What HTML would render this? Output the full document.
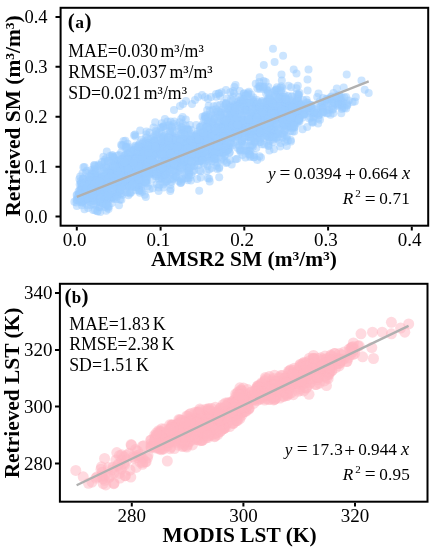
<!DOCTYPE html><html><head><meta charset="utf-8"><style>html,body{margin:0;padding:0;background:#fff;}svg{display:block;}text{font-family:"Liberation Serif", "Times New Roman", serif;fill:#000;}</style></head><body><svg width="434" height="550" viewBox="0 0 434 550"><defs><clipPath id="ca"><rect x="61.6" y="8.8" width="365.6" height="215.9"/></clipPath><clipPath id="cb"><rect x="61" y="284.8" width="365.5" height="215.9"/></clipPath></defs><g clip-path="url(#ca)"><g fill="#99CCFF" fill-opacity="0.5"><circle cx="110.3" cy="196.9" r="4.0"/><circle cx="82.1" cy="186.4" r="4.0"/><circle cx="93.9" cy="197.3" r="4.0"/><circle cx="249.4" cy="119.6" r="4.0"/><circle cx="260.9" cy="111.3" r="4.0"/><circle cx="296.2" cy="110.0" r="4.0"/><circle cx="230.2" cy="92.3" r="4.0"/><circle cx="240.8" cy="100.4" r="4.0"/><circle cx="318.6" cy="115.6" r="4.0"/><circle cx="152.2" cy="164.9" r="4.0"/><circle cx="195.2" cy="156.0" r="4.0"/><circle cx="131.0" cy="156.0" r="4.0"/><circle cx="83.3" cy="200.9" r="4.0"/><circle cx="206.2" cy="125.4" r="4.0"/><circle cx="169.7" cy="161.6" r="4.0"/><circle cx="268.9" cy="123.2" r="4.0"/><circle cx="161.1" cy="127.7" r="4.0"/><circle cx="122.7" cy="182.8" r="4.0"/><circle cx="205.5" cy="145.9" r="4.0"/><circle cx="91.5" cy="188.5" r="4.0"/><circle cx="127.6" cy="166.9" r="4.0"/><circle cx="156.6" cy="184.2" r="4.0"/><circle cx="314.5" cy="113.1" r="4.0"/><circle cx="146.8" cy="180.2" r="4.0"/><circle cx="170.1" cy="173.5" r="4.0"/><circle cx="284.5" cy="94.9" r="4.0"/><circle cx="187.9" cy="180.3" r="4.0"/><circle cx="283.2" cy="123.2" r="4.0"/><circle cx="269.2" cy="104.0" r="4.0"/><circle cx="116.2" cy="173.1" r="4.0"/><circle cx="199.0" cy="150.9" r="4.0"/><circle cx="288.1" cy="96.0" r="4.0"/><circle cx="120.0" cy="170.7" r="4.0"/><circle cx="142.9" cy="171.6" r="4.0"/><circle cx="119.0" cy="192.1" r="4.0"/><circle cx="246.3" cy="110.0" r="4.0"/><circle cx="106.5" cy="179.8" r="4.0"/><circle cx="165.6" cy="171.0" r="4.0"/><circle cx="110.8" cy="174.4" r="4.0"/><circle cx="331.4" cy="96.4" r="4.0"/><circle cx="232.3" cy="133.3" r="4.0"/><circle cx="271.5" cy="128.8" r="4.0"/><circle cx="266.7" cy="105.5" r="4.0"/><circle cx="276.7" cy="112.3" r="4.0"/><circle cx="149.4" cy="132.4" r="4.0"/><circle cx="112.9" cy="193.2" r="4.0"/><circle cx="154.6" cy="146.8" r="4.0"/><circle cx="141.6" cy="190.5" r="4.0"/><circle cx="281.2" cy="118.8" r="4.0"/><circle cx="191.1" cy="158.1" r="4.0"/><circle cx="220.2" cy="104.8" r="4.0"/><circle cx="101.1" cy="177.0" r="4.0"/><circle cx="82.1" cy="196.5" r="4.0"/><circle cx="295.0" cy="116.2" r="4.0"/><circle cx="287.1" cy="111.0" r="4.0"/><circle cx="169.9" cy="151.7" r="4.0"/><circle cx="117.2" cy="183.1" r="4.0"/><circle cx="284.0" cy="102.5" r="4.0"/><circle cx="200.3" cy="139.4" r="4.0"/><circle cx="230.5" cy="106.6" r="4.0"/><circle cx="322.5" cy="107.8" r="4.0"/><circle cx="178.7" cy="129.2" r="4.0"/><circle cx="202.3" cy="124.6" r="4.0"/><circle cx="112.9" cy="184.8" r="4.0"/><circle cx="223.0" cy="132.0" r="4.0"/><circle cx="218.4" cy="127.3" r="4.0"/><circle cx="77.2" cy="195.0" r="4.0"/><circle cx="348.8" cy="100.4" r="4.0"/><circle cx="225.2" cy="145.4" r="4.0"/><circle cx="132.5" cy="160.8" r="4.0"/><circle cx="155.2" cy="122.2" r="4.0"/><circle cx="290.1" cy="104.1" r="4.0"/><circle cx="282.0" cy="99.6" r="4.0"/><circle cx="118.9" cy="173.7" r="4.0"/><circle cx="94.1" cy="168.9" r="4.0"/><circle cx="182.8" cy="145.4" r="4.0"/><circle cx="82.2" cy="183.3" r="4.0"/><circle cx="177.0" cy="149.3" r="4.0"/><circle cx="188.7" cy="175.6" r="4.0"/><circle cx="117.3" cy="188.0" r="4.0"/><circle cx="261.1" cy="111.1" r="4.0"/><circle cx="200.3" cy="157.1" r="4.0"/><circle cx="241.5" cy="142.6" r="4.0"/><circle cx="125.6" cy="192.3" r="4.0"/><circle cx="165.6" cy="153.8" r="4.0"/><circle cx="200.6" cy="151.2" r="4.0"/><circle cx="211.4" cy="129.0" r="4.0"/><circle cx="211.8" cy="141.7" r="4.0"/><circle cx="241.5" cy="121.7" r="4.0"/><circle cx="83.1" cy="201.6" r="4.0"/><circle cx="220.3" cy="143.4" r="4.0"/><circle cx="208.7" cy="133.3" r="4.0"/><circle cx="186.7" cy="155.6" r="4.0"/><circle cx="143.4" cy="141.5" r="4.0"/><circle cx="276.4" cy="89.4" r="4.0"/><circle cx="259.7" cy="120.6" r="4.0"/><circle cx="241.1" cy="98.9" r="4.0"/><circle cx="295.7" cy="114.6" r="4.0"/><circle cx="242.8" cy="129.4" r="4.0"/><circle cx="110.0" cy="172.2" r="4.0"/><circle cx="233.0" cy="110.4" r="4.0"/><circle cx="237.0" cy="120.0" r="4.0"/><circle cx="163.5" cy="142.7" r="4.0"/><circle cx="230.3" cy="122.4" r="4.0"/><circle cx="198.7" cy="144.9" r="4.0"/><circle cx="284.3" cy="125.7" r="4.0"/><circle cx="332.7" cy="105.7" r="4.0"/><circle cx="130.0" cy="163.2" r="4.0"/><circle cx="197.6" cy="146.6" r="4.0"/><circle cx="93.9" cy="182.5" r="4.0"/><circle cx="144.1" cy="178.0" r="4.0"/><circle cx="188.3" cy="166.2" r="4.0"/><circle cx="151.5" cy="156.0" r="4.0"/><circle cx="302.6" cy="129.3" r="4.0"/><circle cx="134.1" cy="135.2" r="4.0"/><circle cx="160.9" cy="170.1" r="4.0"/><circle cx="183.7" cy="129.7" r="4.0"/><circle cx="150.4" cy="158.4" r="4.0"/><circle cx="157.4" cy="168.0" r="4.0"/><circle cx="297.4" cy="105.5" r="4.0"/><circle cx="125.0" cy="184.8" r="4.0"/><circle cx="192.8" cy="153.5" r="4.0"/><circle cx="270.1" cy="106.3" r="4.0"/><circle cx="182.6" cy="116.9" r="4.0"/><circle cx="210.1" cy="145.4" r="4.0"/><circle cx="179.0" cy="158.7" r="4.0"/><circle cx="299.7" cy="117.7" r="4.0"/><circle cx="219.6" cy="133.1" r="4.0"/><circle cx="117.0" cy="174.6" r="4.0"/><circle cx="116.7" cy="189.1" r="4.0"/><circle cx="222.0" cy="126.2" r="4.0"/><circle cx="245.5" cy="95.2" r="4.0"/><circle cx="216.1" cy="139.3" r="4.0"/><circle cx="204.1" cy="144.1" r="4.0"/><circle cx="145.6" cy="173.4" r="4.0"/><circle cx="234.2" cy="130.6" r="4.0"/><circle cx="200.4" cy="127.1" r="4.0"/><circle cx="207.8" cy="141.3" r="4.0"/><circle cx="118.9" cy="169.8" r="4.0"/><circle cx="175.9" cy="156.7" r="4.0"/><circle cx="175.8" cy="136.5" r="4.0"/><circle cx="283.5" cy="115.2" r="4.0"/><circle cx="225.0" cy="141.3" r="4.0"/><circle cx="136.8" cy="175.8" r="4.0"/><circle cx="236.2" cy="136.6" r="4.0"/><circle cx="308.4" cy="107.4" r="4.0"/><circle cx="252.7" cy="99.6" r="4.0"/><circle cx="135.5" cy="136.6" r="4.0"/><circle cx="220.3" cy="139.2" r="4.0"/><circle cx="144.0" cy="153.1" r="4.0"/><circle cx="155.2" cy="152.6" r="4.0"/><circle cx="238.1" cy="113.6" r="4.0"/><circle cx="167.6" cy="165.1" r="4.0"/><circle cx="118.8" cy="159.9" r="4.0"/><circle cx="269.4" cy="122.2" r="4.0"/><circle cx="254.2" cy="133.1" r="4.0"/><circle cx="302.5" cy="109.6" r="4.0"/><circle cx="197.1" cy="158.2" r="4.0"/><circle cx="250.1" cy="146.0" r="4.0"/><circle cx="248.8" cy="91.8" r="4.0"/><circle cx="102.8" cy="201.2" r="4.0"/><circle cx="267.6" cy="90.8" r="4.0"/><circle cx="200.4" cy="134.6" r="4.0"/><circle cx="248.7" cy="120.9" r="4.0"/><circle cx="155.3" cy="143.6" r="4.0"/><circle cx="337.9" cy="104.4" r="4.0"/><circle cx="311.8" cy="109.8" r="4.0"/><circle cx="140.9" cy="179.1" r="4.0"/><circle cx="286.2" cy="128.0" r="4.0"/><circle cx="229.9" cy="147.5" r="4.0"/><circle cx="185.6" cy="151.5" r="4.0"/><circle cx="83.8" cy="191.7" r="4.0"/><circle cx="242.0" cy="129.6" r="4.0"/><circle cx="253.4" cy="97.6" r="4.0"/><circle cx="97.0" cy="186.8" r="4.0"/><circle cx="131.1" cy="192.3" r="4.0"/><circle cx="198.9" cy="143.7" r="4.0"/><circle cx="160.5" cy="137.4" r="4.0"/><circle cx="121.2" cy="144.7" r="4.0"/><circle cx="340.9" cy="99.7" r="4.0"/><circle cx="128.1" cy="172.8" r="4.0"/><circle cx="95.4" cy="169.9" r="4.0"/><circle cx="209.2" cy="178.7" r="4.0"/><circle cx="121.4" cy="174.1" r="4.0"/><circle cx="122.2" cy="195.1" r="4.0"/><circle cx="276.0" cy="119.3" r="4.0"/><circle cx="93.1" cy="210.1" r="4.0"/><circle cx="266.4" cy="118.4" r="4.0"/><circle cx="267.4" cy="120.9" r="4.0"/><circle cx="328.3" cy="113.3" r="4.0"/><circle cx="233.5" cy="96.7" r="4.0"/><circle cx="288.0" cy="110.7" r="4.0"/><circle cx="243.8" cy="103.3" r="4.0"/><circle cx="118.1" cy="191.1" r="4.0"/><circle cx="276.2" cy="110.7" r="4.0"/><circle cx="191.7" cy="144.3" r="4.0"/><circle cx="271.8" cy="121.4" r="4.0"/><circle cx="105.1" cy="188.2" r="4.0"/><circle cx="171.8" cy="126.5" r="4.0"/><circle cx="209.7" cy="181.5" r="4.0"/><circle cx="153.6" cy="155.0" r="4.0"/><circle cx="135.5" cy="147.8" r="4.0"/><circle cx="160.3" cy="172.9" r="4.0"/><circle cx="279.9" cy="96.8" r="4.0"/><circle cx="105.0" cy="194.8" r="4.0"/><circle cx="252.5" cy="105.7" r="4.0"/><circle cx="149.4" cy="156.6" r="4.0"/><circle cx="148.1" cy="143.1" r="4.0"/><circle cx="172.9" cy="135.7" r="4.0"/><circle cx="237.4" cy="117.4" r="4.0"/><circle cx="284.4" cy="135.0" r="4.0"/><circle cx="196.7" cy="152.6" r="4.0"/><circle cx="289.7" cy="124.6" r="4.0"/><circle cx="197.1" cy="179.1" r="4.0"/><circle cx="135.7" cy="150.6" r="4.0"/><circle cx="263.8" cy="109.1" r="4.0"/><circle cx="159.0" cy="143.9" r="4.0"/><circle cx="225.4" cy="148.7" r="4.0"/><circle cx="108.5" cy="209.0" r="4.0"/><circle cx="233.3" cy="144.9" r="4.0"/><circle cx="184.4" cy="158.3" r="4.0"/><circle cx="122.0" cy="173.3" r="4.0"/><circle cx="237.6" cy="103.2" r="4.0"/><circle cx="100.8" cy="179.4" r="4.0"/><circle cx="192.1" cy="163.6" r="4.0"/><circle cx="103.4" cy="183.1" r="4.0"/><circle cx="153.5" cy="136.5" r="4.0"/><circle cx="155.0" cy="151.9" r="4.0"/><circle cx="200.6" cy="156.3" r="4.0"/><circle cx="89.8" cy="179.9" r="4.0"/><circle cx="237.1" cy="122.7" r="4.0"/><circle cx="152.2" cy="155.2" r="4.0"/><circle cx="260.7" cy="121.6" r="4.0"/><circle cx="251.0" cy="94.4" r="4.0"/><circle cx="254.9" cy="104.6" r="4.0"/><circle cx="201.7" cy="135.8" r="4.0"/><circle cx="262.9" cy="129.5" r="4.0"/><circle cx="91.5" cy="170.0" r="4.0"/><circle cx="138.7" cy="145.1" r="4.0"/><circle cx="138.9" cy="153.5" r="4.0"/><circle cx="242.0" cy="141.3" r="4.0"/><circle cx="207.8" cy="121.4" r="4.0"/><circle cx="268.2" cy="103.3" r="4.0"/><circle cx="145.4" cy="142.8" r="4.0"/><circle cx="190.9" cy="180.4" r="4.0"/><circle cx="242.3" cy="118.8" r="4.0"/><circle cx="268.1" cy="121.4" r="4.0"/><circle cx="174.4" cy="142.1" r="4.0"/><circle cx="265.4" cy="129.4" r="4.0"/><circle cx="185.0" cy="161.5" r="4.0"/><circle cx="299.2" cy="117.4" r="4.0"/><circle cx="222.8" cy="139.3" r="4.0"/><circle cx="157.9" cy="163.8" r="4.0"/><circle cx="279.9" cy="114.4" r="4.0"/><circle cx="256.7" cy="100.0" r="4.0"/><circle cx="251.9" cy="132.5" r="4.0"/><circle cx="149.9" cy="164.2" r="4.0"/><circle cx="145.5" cy="177.7" r="4.0"/><circle cx="265.8" cy="113.1" r="4.0"/><circle cx="280.4" cy="87.8" r="4.0"/><circle cx="164.5" cy="140.0" r="4.0"/><circle cx="87.3" cy="205.2" r="4.0"/><circle cx="111.9" cy="194.7" r="4.0"/><circle cx="288.7" cy="109.8" r="4.0"/><circle cx="166.7" cy="158.3" r="4.0"/><circle cx="229.3" cy="132.8" r="4.0"/><circle cx="121.9" cy="172.6" r="4.0"/><circle cx="132.4" cy="150.5" r="4.0"/><circle cx="283.0" cy="117.6" r="4.0"/><circle cx="170.6" cy="121.4" r="4.0"/><circle cx="189.4" cy="168.5" r="4.0"/><circle cx="175.8" cy="176.6" r="4.0"/><circle cx="170.2" cy="191.0" r="4.0"/><circle cx="182.6" cy="154.0" r="4.0"/><circle cx="138.4" cy="164.1" r="4.0"/><circle cx="303.2" cy="100.1" r="4.0"/><circle cx="171.0" cy="167.2" r="4.0"/><circle cx="279.8" cy="101.3" r="4.0"/><circle cx="79.4" cy="179.0" r="4.0"/><circle cx="125.3" cy="140.7" r="4.0"/><circle cx="192.4" cy="142.0" r="4.0"/><circle cx="229.0" cy="109.9" r="4.0"/><circle cx="278.9" cy="114.8" r="4.0"/><circle cx="238.2" cy="132.6" r="4.0"/><circle cx="263.8" cy="130.1" r="4.0"/><circle cx="203.2" cy="158.5" r="4.0"/><circle cx="99.1" cy="192.1" r="4.0"/><circle cx="97.0" cy="198.7" r="4.0"/><circle cx="221.9" cy="141.5" r="4.0"/><circle cx="290.9" cy="141.6" r="4.0"/><circle cx="142.9" cy="153.6" r="4.0"/><circle cx="265.4" cy="117.4" r="4.0"/><circle cx="173.9" cy="123.9" r="4.0"/><circle cx="108.5" cy="185.2" r="4.0"/><circle cx="196.8" cy="150.7" r="4.0"/><circle cx="90.5" cy="191.7" r="4.0"/><circle cx="306.6" cy="99.7" r="4.0"/><circle cx="188.1" cy="142.7" r="4.0"/><circle cx="268.9" cy="122.6" r="4.0"/><circle cx="146.4" cy="149.6" r="4.0"/><circle cx="184.6" cy="150.7" r="4.0"/><circle cx="181.9" cy="146.5" r="4.0"/><circle cx="149.0" cy="161.7" r="4.0"/><circle cx="170.7" cy="188.9" r="4.0"/><circle cx="155.9" cy="130.5" r="4.0"/><circle cx="175.7" cy="165.9" r="4.0"/><circle cx="217.9" cy="133.0" r="4.0"/><circle cx="172.8" cy="132.2" r="4.0"/><circle cx="151.6" cy="158.6" r="4.0"/><circle cx="106.1" cy="204.4" r="4.0"/><circle cx="278.9" cy="109.9" r="4.0"/><circle cx="140.5" cy="165.1" r="4.0"/><circle cx="252.4" cy="117.7" r="4.0"/><circle cx="338.6" cy="103.9" r="4.0"/><circle cx="90.3" cy="188.5" r="4.0"/><circle cx="319.4" cy="106.8" r="4.0"/><circle cx="338.5" cy="102.5" r="4.0"/><circle cx="185.2" cy="145.2" r="4.0"/><circle cx="244.0" cy="93.4" r="4.0"/><circle cx="257.5" cy="125.5" r="4.0"/><circle cx="258.6" cy="140.2" r="4.0"/><circle cx="192.3" cy="136.8" r="4.0"/><circle cx="152.6" cy="150.7" r="4.0"/><circle cx="288.6" cy="103.8" r="4.0"/><circle cx="191.5" cy="157.9" r="4.0"/><circle cx="242.1" cy="125.0" r="4.0"/><circle cx="290.7" cy="110.8" r="4.0"/><circle cx="218.1" cy="127.0" r="4.0"/><circle cx="211.7" cy="154.2" r="4.0"/><circle cx="113.5" cy="173.3" r="4.0"/><circle cx="289.5" cy="117.1" r="4.0"/><circle cx="94.6" cy="182.2" r="4.0"/><circle cx="291.2" cy="110.7" r="4.0"/><circle cx="107.2" cy="184.5" r="4.0"/><circle cx="118.0" cy="194.2" r="4.0"/><circle cx="185.0" cy="156.1" r="4.0"/><circle cx="265.8" cy="121.8" r="4.0"/><circle cx="90.5" cy="187.2" r="4.0"/><circle cx="297.2" cy="120.3" r="4.0"/><circle cx="282.8" cy="121.8" r="4.0"/><circle cx="141.0" cy="162.9" r="4.0"/><circle cx="252.9" cy="113.6" r="4.0"/><circle cx="158.1" cy="151.6" r="4.0"/><circle cx="268.7" cy="125.2" r="4.0"/><circle cx="145.1" cy="163.9" r="4.0"/><circle cx="249.8" cy="136.7" r="4.0"/><circle cx="240.1" cy="123.2" r="4.0"/><circle cx="141.6" cy="174.8" r="4.0"/><circle cx="169.4" cy="147.7" r="4.0"/><circle cx="108.4" cy="171.4" r="4.0"/><circle cx="273.0" cy="142.2" r="4.0"/><circle cx="215.0" cy="126.0" r="4.0"/><circle cx="284.6" cy="119.5" r="4.0"/><circle cx="227.0" cy="150.9" r="4.0"/><circle cx="243.9" cy="99.2" r="4.0"/><circle cx="284.7" cy="123.8" r="4.0"/><circle cx="132.8" cy="162.2" r="4.0"/><circle cx="268.5" cy="123.2" r="4.0"/><circle cx="135.4" cy="145.5" r="4.0"/><circle cx="291.3" cy="108.3" r="4.0"/><circle cx="274.8" cy="110.7" r="4.0"/><circle cx="199.5" cy="141.4" r="4.0"/><circle cx="172.4" cy="149.1" r="4.0"/><circle cx="192.0" cy="150.5" r="4.0"/><circle cx="257.0" cy="126.5" r="4.0"/><circle cx="331.3" cy="108.3" r="4.0"/><circle cx="96.6" cy="176.8" r="4.0"/><circle cx="285.1" cy="141.8" r="4.0"/><circle cx="108.2" cy="183.0" r="4.0"/><circle cx="238.1" cy="120.5" r="4.0"/><circle cx="170.5" cy="162.7" r="4.0"/><circle cx="136.3" cy="169.8" r="4.0"/><circle cx="145.1" cy="150.5" r="4.0"/><circle cx="225.7" cy="104.0" r="4.0"/><circle cx="121.4" cy="199.8" r="4.0"/><circle cx="146.6" cy="182.8" r="4.0"/><circle cx="178.6" cy="146.4" r="4.0"/><circle cx="196.9" cy="137.9" r="4.0"/><circle cx="93.5" cy="184.2" r="4.0"/><circle cx="324.3" cy="104.5" r="4.0"/><circle cx="258.4" cy="132.9" r="4.0"/><circle cx="264.4" cy="111.6" r="4.0"/><circle cx="193.3" cy="148.3" r="4.0"/><circle cx="96.2" cy="187.8" r="4.0"/><circle cx="187.6" cy="178.2" r="4.0"/><circle cx="88.5" cy="181.8" r="4.0"/><circle cx="292.5" cy="126.2" r="4.0"/><circle cx="141.6" cy="187.2" r="4.0"/><circle cx="130.5" cy="155.0" r="4.0"/><circle cx="106.9" cy="198.4" r="4.0"/><circle cx="264.0" cy="86.6" r="4.0"/><circle cx="198.2" cy="161.0" r="4.0"/><circle cx="198.2" cy="145.2" r="4.0"/><circle cx="267.3" cy="114.6" r="4.0"/><circle cx="253.0" cy="132.9" r="4.0"/><circle cx="145.8" cy="151.3" r="4.0"/><circle cx="138.5" cy="173.9" r="4.0"/><circle cx="181.8" cy="147.4" r="4.0"/><circle cx="291.2" cy="87.2" r="4.0"/><circle cx="160.2" cy="149.9" r="4.0"/><circle cx="169.2" cy="163.4" r="4.0"/><circle cx="284.6" cy="117.7" r="4.0"/><circle cx="95.2" cy="183.3" r="4.0"/><circle cx="185.7" cy="125.4" r="4.0"/><circle cx="320.0" cy="119.8" r="4.0"/><circle cx="144.7" cy="194.8" r="4.0"/><circle cx="173.0" cy="179.2" r="4.0"/><circle cx="164.9" cy="135.0" r="4.0"/><circle cx="131.7" cy="181.5" r="4.0"/><circle cx="256.3" cy="147.9" r="4.0"/><circle cx="210.4" cy="159.8" r="4.0"/><circle cx="107.2" cy="187.3" r="4.0"/><circle cx="76.6" cy="194.9" r="4.0"/><circle cx="163.8" cy="136.1" r="4.0"/><circle cx="160.9" cy="165.5" r="4.0"/><circle cx="82.5" cy="202.9" r="4.0"/><circle cx="225.7" cy="109.4" r="4.0"/><circle cx="81.9" cy="192.7" r="4.0"/><circle cx="120.9" cy="168.7" r="4.0"/><circle cx="156.4" cy="163.9" r="4.0"/><circle cx="204.9" cy="157.3" r="4.0"/><circle cx="123.3" cy="145.1" r="4.0"/><circle cx="123.0" cy="166.7" r="4.0"/><circle cx="234.1" cy="132.6" r="4.0"/><circle cx="106.6" cy="193.7" r="4.0"/><circle cx="205.8" cy="143.1" r="4.0"/><circle cx="326.9" cy="109.7" r="4.0"/><circle cx="214.0" cy="119.3" r="4.0"/><circle cx="260.6" cy="142.0" r="4.0"/><circle cx="132.1" cy="177.8" r="4.0"/><circle cx="260.4" cy="122.0" r="4.0"/><circle cx="115.7" cy="164.0" r="4.0"/><circle cx="281.6" cy="118.6" r="4.0"/><circle cx="269.9" cy="98.5" r="4.0"/><circle cx="88.6" cy="200.5" r="4.0"/><circle cx="102.4" cy="200.1" r="4.0"/><circle cx="298.6" cy="94.8" r="4.0"/><circle cx="270.0" cy="134.3" r="4.0"/><circle cx="99.0" cy="174.2" r="4.0"/><circle cx="302.7" cy="117.5" r="4.0"/><circle cx="299.9" cy="115.3" r="4.0"/><circle cx="199.9" cy="149.6" r="4.0"/><circle cx="170.6" cy="157.0" r="4.0"/><circle cx="260.6" cy="120.2" r="4.0"/><circle cx="235.0" cy="127.0" r="4.0"/><circle cx="155.3" cy="158.0" r="4.0"/><circle cx="186.1" cy="151.0" r="4.0"/><circle cx="233.0" cy="115.5" r="4.0"/><circle cx="260.5" cy="118.0" r="4.0"/><circle cx="116.9" cy="192.1" r="4.0"/><circle cx="153.8" cy="149.0" r="4.0"/><circle cx="205.2" cy="147.6" r="4.0"/><circle cx="227.9" cy="122.9" r="4.0"/><circle cx="246.0" cy="119.7" r="4.0"/><circle cx="102.6" cy="176.8" r="4.0"/><circle cx="137.0" cy="159.3" r="4.0"/><circle cx="112.3" cy="168.6" r="4.0"/><circle cx="108.1" cy="186.7" r="4.0"/><circle cx="190.4" cy="153.1" r="4.0"/><circle cx="79.6" cy="189.9" r="4.0"/><circle cx="164.6" cy="150.1" r="4.0"/><circle cx="104.9" cy="187.3" r="4.0"/><circle cx="251.2" cy="121.1" r="4.0"/><circle cx="94.6" cy="172.8" r="4.0"/><circle cx="191.0" cy="146.6" r="4.0"/><circle cx="188.4" cy="146.9" r="4.0"/><circle cx="222.5" cy="157.8" r="4.0"/><circle cx="298.0" cy="98.2" r="4.0"/><circle cx="120.0" cy="199.5" r="4.0"/><circle cx="170.0" cy="164.9" r="4.0"/><circle cx="142.8" cy="183.7" r="4.0"/><circle cx="128.2" cy="153.6" r="4.0"/><circle cx="97.4" cy="189.2" r="4.0"/><circle cx="268.2" cy="100.3" r="4.0"/><circle cx="233.9" cy="116.9" r="4.0"/><circle cx="99.5" cy="201.6" r="4.0"/><circle cx="260.2" cy="127.6" r="4.0"/><circle cx="273.6" cy="139.2" r="4.0"/><circle cx="282.1" cy="133.1" r="4.0"/><circle cx="298.6" cy="109.9" r="4.0"/><circle cx="290.2" cy="126.6" r="4.0"/><circle cx="91.0" cy="196.0" r="4.0"/><circle cx="136.5" cy="173.3" r="4.0"/><circle cx="110.4" cy="181.5" r="4.0"/><circle cx="87.4" cy="179.3" r="4.0"/><circle cx="188.9" cy="144.5" r="4.0"/><circle cx="312.2" cy="113.2" r="4.0"/><circle cx="277.3" cy="115.0" r="4.0"/><circle cx="167.1" cy="147.1" r="4.0"/><circle cx="202.7" cy="147.1" r="4.0"/><circle cx="216.9" cy="105.5" r="4.0"/><circle cx="255.7" cy="83.8" r="4.0"/><circle cx="199.9" cy="127.0" r="4.0"/><circle cx="101.1" cy="182.6" r="4.0"/><circle cx="120.7" cy="176.5" r="4.0"/><circle cx="150.4" cy="162.1" r="4.0"/><circle cx="289.5" cy="125.7" r="4.0"/><circle cx="234.9" cy="104.8" r="4.0"/><circle cx="249.4" cy="151.0" r="4.0"/><circle cx="193.0" cy="155.8" r="4.0"/><circle cx="130.8" cy="162.1" r="4.0"/><circle cx="332.9" cy="109.7" r="4.0"/><circle cx="139.0" cy="182.8" r="4.0"/><circle cx="327.7" cy="99.7" r="4.0"/><circle cx="245.6" cy="104.3" r="4.0"/><circle cx="155.8" cy="157.2" r="4.0"/><circle cx="207.1" cy="143.0" r="4.0"/><circle cx="223.2" cy="127.5" r="4.0"/><circle cx="221.3" cy="112.9" r="4.0"/><circle cx="157.5" cy="149.7" r="4.0"/><circle cx="201.9" cy="153.2" r="4.0"/><circle cx="123.2" cy="168.2" r="4.0"/><circle cx="249.7" cy="112.2" r="4.0"/><circle cx="233.7" cy="127.2" r="4.0"/><circle cx="148.6" cy="149.7" r="4.0"/><circle cx="195.2" cy="136.5" r="4.0"/><circle cx="235.1" cy="108.3" r="4.0"/><circle cx="248.4" cy="154.0" r="4.0"/><circle cx="212.4" cy="153.3" r="4.0"/><circle cx="107.7" cy="183.2" r="4.0"/><circle cx="255.9" cy="125.1" r="4.0"/><circle cx="287.4" cy="104.1" r="4.0"/><circle cx="155.2" cy="165.2" r="4.0"/><circle cx="155.0" cy="150.4" r="4.0"/><circle cx="168.2" cy="169.4" r="4.0"/><circle cx="234.8" cy="132.8" r="4.0"/><circle cx="99.0" cy="188.0" r="4.0"/><circle cx="292.9" cy="127.1" r="4.0"/><circle cx="312.0" cy="107.8" r="4.0"/><circle cx="231.4" cy="141.3" r="4.0"/><circle cx="146.8" cy="143.8" r="4.0"/><circle cx="206.0" cy="143.9" r="4.0"/><circle cx="232.5" cy="116.4" r="4.0"/><circle cx="235.2" cy="116.2" r="4.0"/><circle cx="144.2" cy="167.7" r="4.0"/><circle cx="130.2" cy="179.7" r="4.0"/><circle cx="94.5" cy="183.8" r="4.0"/><circle cx="114.4" cy="174.4" r="4.0"/><circle cx="287.5" cy="112.8" r="4.0"/><circle cx="106.3" cy="183.5" r="4.0"/><circle cx="95.4" cy="193.0" r="4.0"/><circle cx="175.6" cy="168.4" r="4.0"/><circle cx="154.3" cy="166.9" r="4.0"/><circle cx="116.3" cy="180.5" r="4.0"/><circle cx="131.9" cy="157.6" r="4.0"/><circle cx="163.8" cy="157.4" r="4.0"/><circle cx="274.7" cy="113.4" r="4.0"/><circle cx="230.1" cy="142.5" r="4.0"/><circle cx="186.6" cy="150.9" r="4.0"/><circle cx="253.3" cy="128.3" r="4.0"/><circle cx="262.9" cy="123.4" r="4.0"/><circle cx="266.7" cy="136.0" r="4.0"/><circle cx="141.3" cy="139.7" r="4.0"/><circle cx="253.7" cy="157.2" r="4.0"/><circle cx="234.6" cy="119.6" r="4.0"/><circle cx="204.2" cy="144.9" r="4.0"/><circle cx="269.1" cy="134.0" r="4.0"/><circle cx="182.1" cy="148.6" r="4.0"/><circle cx="99.3" cy="207.0" r="4.0"/><circle cx="268.9" cy="137.6" r="4.0"/><circle cx="165.5" cy="144.8" r="4.0"/><circle cx="98.5" cy="164.5" r="4.0"/><circle cx="174.6" cy="171.0" r="4.0"/><circle cx="101.7" cy="167.3" r="4.0"/><circle cx="200.4" cy="160.9" r="4.0"/><circle cx="284.9" cy="107.5" r="4.0"/><circle cx="291.0" cy="120.2" r="4.0"/><circle cx="197.4" cy="158.1" r="4.0"/><circle cx="282.7" cy="99.1" r="4.0"/><circle cx="82.5" cy="188.7" r="4.0"/><circle cx="235.6" cy="133.9" r="4.0"/><circle cx="199.6" cy="140.1" r="4.0"/><circle cx="271.7" cy="133.0" r="4.0"/><circle cx="178.1" cy="161.4" r="4.0"/><circle cx="291.1" cy="108.6" r="4.0"/><circle cx="166.5" cy="149.1" r="4.0"/><circle cx="296.7" cy="93.7" r="4.0"/><circle cx="243.9" cy="93.5" r="4.0"/><circle cx="168.1" cy="158.8" r="4.0"/><circle cx="266.5" cy="117.8" r="4.0"/><circle cx="223.5" cy="118.5" r="4.0"/><circle cx="219.2" cy="130.5" r="4.0"/><circle cx="165.5" cy="141.6" r="4.0"/><circle cx="148.9" cy="152.4" r="4.0"/><circle cx="189.1" cy="173.3" r="4.0"/><circle cx="164.5" cy="169.6" r="4.0"/><circle cx="266.1" cy="128.4" r="4.0"/><circle cx="91.2" cy="175.1" r="4.0"/><circle cx="204.9" cy="116.8" r="4.0"/><circle cx="126.5" cy="188.3" r="4.0"/><circle cx="161.2" cy="175.3" r="4.0"/><circle cx="227.0" cy="145.4" r="4.0"/><circle cx="159.1" cy="151.1" r="4.0"/><circle cx="206.2" cy="127.2" r="4.0"/><circle cx="109.3" cy="196.9" r="4.0"/><circle cx="219.3" cy="167.3" r="4.0"/><circle cx="281.9" cy="114.0" r="4.0"/><circle cx="236.8" cy="126.1" r="4.0"/><circle cx="277.8" cy="118.7" r="4.0"/><circle cx="111.6" cy="185.7" r="4.0"/><circle cx="86.0" cy="192.8" r="4.0"/><circle cx="224.0" cy="152.7" r="4.0"/><circle cx="304.6" cy="112.9" r="4.0"/><circle cx="115.3" cy="171.3" r="4.0"/><circle cx="112.4" cy="156.9" r="4.0"/><circle cx="265.6" cy="113.9" r="4.0"/><circle cx="173.8" cy="141.8" r="4.0"/><circle cx="252.1" cy="117.3" r="4.0"/><circle cx="276.2" cy="99.9" r="4.0"/><circle cx="116.8" cy="166.4" r="4.0"/><circle cx="221.6" cy="114.4" r="4.0"/><circle cx="113.4" cy="157.1" r="4.0"/><circle cx="167.0" cy="153.5" r="4.0"/><circle cx="222.5" cy="141.1" r="4.0"/><circle cx="275.6" cy="90.6" r="4.0"/><circle cx="235.6" cy="128.1" r="4.0"/><circle cx="229.0" cy="146.4" r="4.0"/><circle cx="117.2" cy="177.1" r="4.0"/><circle cx="283.9" cy="112.0" r="4.0"/><circle cx="126.2" cy="158.4" r="4.0"/><circle cx="128.4" cy="172.3" r="4.0"/><circle cx="90.9" cy="182.8" r="4.0"/><circle cx="163.9" cy="162.5" r="4.0"/><circle cx="207.7" cy="141.9" r="4.0"/><circle cx="153.1" cy="172.3" r="4.0"/><circle cx="190.9" cy="147.9" r="4.0"/><circle cx="172.7" cy="148.8" r="4.0"/><circle cx="203.0" cy="146.7" r="4.0"/><circle cx="168.1" cy="149.5" r="4.0"/><circle cx="224.1" cy="125.5" r="4.0"/><circle cx="244.7" cy="128.4" r="4.0"/><circle cx="181.5" cy="156.4" r="4.0"/><circle cx="250.8" cy="116.9" r="4.0"/><circle cx="229.6" cy="116.5" r="4.0"/><circle cx="186.4" cy="159.2" r="4.0"/><circle cx="228.6" cy="132.4" r="4.0"/><circle cx="166.8" cy="151.9" r="4.0"/><circle cx="201.1" cy="153.0" r="4.0"/><circle cx="138.8" cy="188.4" r="4.0"/><circle cx="247.7" cy="151.3" r="4.0"/><circle cx="232.0" cy="137.0" r="4.0"/><circle cx="258.8" cy="123.9" r="4.0"/><circle cx="223.8" cy="132.9" r="4.0"/><circle cx="208.7" cy="135.6" r="4.0"/><circle cx="188.6" cy="151.6" r="4.0"/><circle cx="245.8" cy="109.6" r="4.0"/><circle cx="295.9" cy="102.0" r="4.0"/><circle cx="177.5" cy="155.5" r="4.0"/><circle cx="266.7" cy="89.6" r="4.0"/><circle cx="293.2" cy="120.4" r="4.0"/><circle cx="84.6" cy="197.5" r="4.0"/><circle cx="114.1" cy="157.9" r="4.0"/><circle cx="181.2" cy="159.3" r="4.0"/><circle cx="159.2" cy="178.2" r="4.0"/><circle cx="103.0" cy="181.9" r="4.0"/><circle cx="109.2" cy="170.2" r="4.0"/><circle cx="202.7" cy="159.8" r="4.0"/><circle cx="275.1" cy="120.5" r="4.0"/><circle cx="113.9" cy="196.2" r="4.0"/><circle cx="104.4" cy="198.7" r="4.0"/><circle cx="219.2" cy="177.2" r="4.0"/><circle cx="224.0" cy="122.7" r="4.0"/><circle cx="287.2" cy="113.1" r="4.0"/><circle cx="226.5" cy="126.1" r="4.0"/><circle cx="212.3" cy="125.0" r="4.0"/><circle cx="158.9" cy="172.9" r="4.0"/><circle cx="274.8" cy="95.1" r="4.0"/><circle cx="168.7" cy="137.1" r="4.0"/><circle cx="291.6" cy="96.6" r="4.0"/><circle cx="105.8" cy="179.6" r="4.0"/><circle cx="119.0" cy="205.3" r="4.0"/><circle cx="187.7" cy="170.1" r="4.0"/><circle cx="342.6" cy="107.8" r="4.0"/><circle cx="95.7" cy="174.9" r="4.0"/><circle cx="231.0" cy="110.9" r="4.0"/><circle cx="239.6" cy="150.2" r="4.0"/><circle cx="115.1" cy="179.1" r="4.0"/><circle cx="196.2" cy="124.9" r="4.0"/><circle cx="149.9" cy="173.0" r="4.0"/><circle cx="244.0" cy="112.7" r="4.0"/><circle cx="142.1" cy="157.1" r="4.0"/><circle cx="119.2" cy="189.0" r="4.0"/><circle cx="138.6" cy="175.7" r="4.0"/><circle cx="208.0" cy="142.2" r="4.0"/><circle cx="244.3" cy="124.3" r="4.0"/><circle cx="139.8" cy="148.8" r="4.0"/><circle cx="242.0" cy="132.9" r="4.0"/><circle cx="165.9" cy="145.1" r="4.0"/><circle cx="186.1" cy="136.9" r="4.0"/><circle cx="254.2" cy="154.9" r="4.0"/><circle cx="253.3" cy="101.6" r="4.0"/><circle cx="280.0" cy="103.8" r="4.0"/><circle cx="122.0" cy="175.6" r="4.0"/><circle cx="305.5" cy="111.1" r="4.0"/><circle cx="115.7" cy="173.2" r="4.0"/><circle cx="192.9" cy="155.7" r="4.0"/><circle cx="89.3" cy="185.2" r="4.0"/><circle cx="219.5" cy="111.7" r="4.0"/><circle cx="178.6" cy="181.1" r="4.0"/><circle cx="212.8" cy="124.6" r="4.0"/><circle cx="143.3" cy="172.0" r="4.0"/><circle cx="153.1" cy="170.8" r="4.0"/><circle cx="269.4" cy="137.1" r="4.0"/><circle cx="261.4" cy="135.0" r="4.0"/><circle cx="112.5" cy="171.1" r="4.0"/><circle cx="266.4" cy="123.8" r="4.0"/><circle cx="179.0" cy="151.1" r="4.0"/><circle cx="164.0" cy="173.1" r="4.0"/><circle cx="313.1" cy="122.5" r="4.0"/><circle cx="94.5" cy="183.0" r="4.0"/><circle cx="251.3" cy="131.6" r="4.0"/><circle cx="231.0" cy="143.6" r="4.0"/><circle cx="272.3" cy="134.3" r="4.0"/><circle cx="126.1" cy="147.0" r="4.0"/><circle cx="91.3" cy="187.1" r="4.0"/><circle cx="281.0" cy="116.0" r="4.0"/><circle cx="86.5" cy="188.9" r="4.0"/><circle cx="208.6" cy="130.4" r="4.0"/><circle cx="149.1" cy="152.0" r="4.0"/><circle cx="297.2" cy="106.2" r="4.0"/><circle cx="85.9" cy="172.4" r="4.0"/><circle cx="98.8" cy="178.4" r="4.0"/><circle cx="235.5" cy="123.4" r="4.0"/><circle cx="290.4" cy="131.2" r="4.0"/><circle cx="176.2" cy="164.1" r="4.0"/><circle cx="89.3" cy="196.0" r="4.0"/><circle cx="109.9" cy="156.1" r="4.0"/><circle cx="177.7" cy="152.8" r="4.0"/><circle cx="170.1" cy="131.2" r="4.0"/><circle cx="243.0" cy="126.5" r="4.0"/><circle cx="133.8" cy="187.0" r="4.0"/><circle cx="109.4" cy="177.4" r="4.0"/><circle cx="105.7" cy="187.1" r="4.0"/><circle cx="233.3" cy="132.1" r="4.0"/><circle cx="84.3" cy="189.8" r="4.0"/><circle cx="212.8" cy="109.8" r="4.0"/><circle cx="217.0" cy="127.2" r="4.0"/><circle cx="310.8" cy="113.4" r="4.0"/><circle cx="217.2" cy="146.2" r="4.0"/><circle cx="92.0" cy="178.7" r="4.0"/><circle cx="249.1" cy="127.9" r="4.0"/><circle cx="258.1" cy="105.8" r="4.0"/><circle cx="194.0" cy="170.5" r="4.0"/><circle cx="289.0" cy="110.3" r="4.0"/><circle cx="216.2" cy="165.8" r="4.0"/><circle cx="172.8" cy="157.1" r="4.0"/><circle cx="197.9" cy="139.3" r="4.0"/><circle cx="261.4" cy="129.1" r="4.0"/><circle cx="109.9" cy="182.0" r="4.0"/><circle cx="148.6" cy="153.6" r="4.0"/><circle cx="194.0" cy="147.6" r="4.0"/><circle cx="98.7" cy="193.0" r="4.0"/><circle cx="247.1" cy="109.7" r="4.0"/><circle cx="259.5" cy="134.6" r="4.0"/><circle cx="109.6" cy="196.8" r="4.0"/><circle cx="118.2" cy="168.6" r="4.0"/><circle cx="295.3" cy="105.9" r="4.0"/><circle cx="247.9" cy="94.1" r="4.0"/><circle cx="89.3" cy="180.2" r="4.0"/><circle cx="170.7" cy="156.6" r="4.0"/><circle cx="260.2" cy="131.4" r="4.0"/><circle cx="107.6" cy="207.8" r="4.0"/><circle cx="182.4" cy="152.3" r="4.0"/><circle cx="234.4" cy="127.4" r="4.0"/><circle cx="105.8" cy="190.8" r="4.0"/><circle cx="206.2" cy="135.6" r="4.0"/><circle cx="268.6" cy="117.2" r="4.0"/><circle cx="206.3" cy="136.4" r="4.0"/><circle cx="190.4" cy="138.8" r="4.0"/><circle cx="240.5" cy="130.0" r="4.0"/><circle cx="225.2" cy="155.0" r="4.0"/><circle cx="254.6" cy="141.4" r="4.0"/><circle cx="143.2" cy="162.4" r="4.0"/><circle cx="257.3" cy="119.6" r="4.0"/><circle cx="81.9" cy="201.9" r="4.0"/><circle cx="219.4" cy="141.6" r="4.0"/><circle cx="93.3" cy="175.7" r="4.0"/><circle cx="123.5" cy="141.1" r="4.0"/><circle cx="283.2" cy="122.7" r="4.0"/><circle cx="159.0" cy="179.6" r="4.0"/><circle cx="121.4" cy="176.0" r="4.0"/><circle cx="161.9" cy="157.5" r="4.0"/><circle cx="105.6" cy="186.1" r="4.0"/><circle cx="139.3" cy="166.0" r="4.0"/><circle cx="264.5" cy="116.4" r="4.0"/><circle cx="272.3" cy="101.1" r="4.0"/><circle cx="90.1" cy="189.9" r="4.0"/><circle cx="288.1" cy="121.1" r="4.0"/><circle cx="292.6" cy="131.5" r="4.0"/><circle cx="230.9" cy="113.1" r="4.0"/><circle cx="202.9" cy="158.7" r="4.0"/><circle cx="133.4" cy="179.4" r="4.0"/><circle cx="239.1" cy="134.4" r="4.0"/><circle cx="89.6" cy="187.0" r="4.0"/><circle cx="202.2" cy="138.9" r="4.0"/><circle cx="242.7" cy="120.1" r="4.0"/><circle cx="106.9" cy="172.2" r="4.0"/><circle cx="154.3" cy="140.8" r="4.0"/><circle cx="139.0" cy="190.6" r="4.0"/><circle cx="273.7" cy="105.5" r="4.0"/><circle cx="243.6" cy="120.9" r="4.0"/><circle cx="214.8" cy="130.9" r="4.0"/><circle cx="103.8" cy="196.4" r="4.0"/><circle cx="146.3" cy="173.1" r="4.0"/><circle cx="309.1" cy="111.2" r="4.0"/><circle cx="98.6" cy="180.6" r="4.0"/><circle cx="254.8" cy="126.8" r="4.0"/><circle cx="295.9" cy="105.8" r="4.0"/><circle cx="147.0" cy="175.4" r="4.0"/><circle cx="288.4" cy="126.2" r="4.0"/><circle cx="256.2" cy="106.1" r="4.0"/><circle cx="161.3" cy="143.3" r="4.0"/><circle cx="163.7" cy="142.1" r="4.0"/><circle cx="322.3" cy="102.9" r="4.0"/><circle cx="191.4" cy="141.1" r="4.0"/><circle cx="324.4" cy="112.0" r="4.0"/><circle cx="83.2" cy="179.1" r="4.0"/><circle cx="140.2" cy="178.7" r="4.0"/><circle cx="300.2" cy="103.6" r="4.0"/><circle cx="269.5" cy="127.5" r="4.0"/><circle cx="194.0" cy="166.3" r="4.0"/><circle cx="277.0" cy="132.9" r="4.0"/><circle cx="126.4" cy="154.5" r="4.0"/><circle cx="301.9" cy="106.5" r="4.0"/><circle cx="80.9" cy="183.6" r="4.0"/><circle cx="175.7" cy="164.7" r="4.0"/><circle cx="260.4" cy="127.7" r="4.0"/><circle cx="161.4" cy="142.4" r="4.0"/><circle cx="213.0" cy="122.0" r="4.0"/><circle cx="278.4" cy="139.5" r="4.0"/><circle cx="252.0" cy="145.6" r="4.0"/><circle cx="289.5" cy="113.7" r="4.0"/><circle cx="169.7" cy="135.3" r="4.0"/><circle cx="174.5" cy="142.3" r="4.0"/><circle cx="199.9" cy="150.8" r="4.0"/><circle cx="215.3" cy="142.5" r="4.0"/><circle cx="249.2" cy="150.7" r="4.0"/><circle cx="179.8" cy="168.5" r="4.0"/><circle cx="124.7" cy="162.9" r="4.0"/><circle cx="291.5" cy="108.7" r="4.0"/><circle cx="161.1" cy="155.0" r="4.0"/><circle cx="159.1" cy="176.2" r="4.0"/><circle cx="292.0" cy="114.3" r="4.0"/><circle cx="212.2" cy="154.2" r="4.0"/><circle cx="173.1" cy="151.9" r="4.0"/><circle cx="274.1" cy="136.2" r="4.0"/><circle cx="276.0" cy="134.3" r="4.0"/><circle cx="290.8" cy="109.5" r="4.0"/><circle cx="240.6" cy="151.8" r="4.0"/><circle cx="168.0" cy="159.8" r="4.0"/><circle cx="81.4" cy="192.6" r="4.0"/><circle cx="176.4" cy="172.2" r="4.0"/><circle cx="211.8" cy="167.9" r="4.0"/><circle cx="217.0" cy="152.5" r="4.0"/><circle cx="298.5" cy="96.3" r="4.0"/><circle cx="129.7" cy="192.5" r="4.0"/><circle cx="89.5" cy="193.5" r="4.0"/><circle cx="146.2" cy="154.0" r="4.0"/><circle cx="284.1" cy="103.7" r="4.0"/><circle cx="262.5" cy="108.9" r="4.0"/><circle cx="110.6" cy="166.4" r="4.0"/><circle cx="249.3" cy="123.8" r="4.0"/><circle cx="119.9" cy="175.4" r="4.0"/><circle cx="80.8" cy="190.2" r="4.0"/><circle cx="333.2" cy="101.7" r="4.0"/><circle cx="161.7" cy="175.3" r="4.0"/><circle cx="175.3" cy="177.2" r="4.0"/><circle cx="94.2" cy="165.0" r="4.0"/><circle cx="265.7" cy="117.0" r="4.0"/><circle cx="136.6" cy="156.7" r="4.0"/><circle cx="113.4" cy="157.5" r="4.0"/><circle cx="291.2" cy="114.9" r="4.0"/><circle cx="153.4" cy="161.9" r="4.0"/><circle cx="180.3" cy="161.9" r="4.0"/><circle cx="79.5" cy="194.0" r="4.0"/><circle cx="291.4" cy="118.3" r="4.0"/><circle cx="128.8" cy="182.0" r="4.0"/><circle cx="247.0" cy="102.8" r="4.0"/><circle cx="118.9" cy="171.6" r="4.0"/><circle cx="92.6" cy="186.3" r="4.0"/><circle cx="280.5" cy="129.5" r="4.0"/><circle cx="294.3" cy="127.6" r="4.0"/><circle cx="231.7" cy="164.5" r="4.0"/><circle cx="293.1" cy="115.2" r="4.0"/><circle cx="163.6" cy="126.8" r="4.0"/><circle cx="236.2" cy="119.1" r="4.0"/><circle cx="138.4" cy="170.3" r="4.0"/><circle cx="288.5" cy="108.1" r="4.0"/><circle cx="181.0" cy="127.1" r="4.0"/><circle cx="238.1" cy="122.9" r="4.0"/><circle cx="200.5" cy="135.9" r="4.0"/><circle cx="119.6" cy="163.5" r="4.0"/><circle cx="114.4" cy="169.9" r="4.0"/><circle cx="153.6" cy="155.7" r="4.0"/><circle cx="239.6" cy="123.2" r="4.0"/><circle cx="149.7" cy="145.1" r="4.0"/><circle cx="313.3" cy="117.4" r="4.0"/><circle cx="138.6" cy="160.7" r="4.0"/><circle cx="276.8" cy="106.1" r="4.0"/><circle cx="255.1" cy="115.2" r="4.0"/><circle cx="182.3" cy="178.4" r="4.0"/><circle cx="121.9" cy="168.1" r="4.0"/><circle cx="285.1" cy="111.5" r="4.0"/><circle cx="234.1" cy="128.3" r="4.0"/><circle cx="203.7" cy="138.9" r="4.0"/><circle cx="148.8" cy="161.9" r="4.0"/><circle cx="249.2" cy="102.7" r="4.0"/><circle cx="178.5" cy="171.2" r="4.0"/><circle cx="105.6" cy="192.5" r="4.0"/><circle cx="206.3" cy="151.9" r="4.0"/><circle cx="111.1" cy="170.0" r="4.0"/><circle cx="161.7" cy="178.6" r="4.0"/><circle cx="109.1" cy="173.9" r="4.0"/><circle cx="207.5" cy="126.5" r="4.0"/><circle cx="137.6" cy="185.4" r="4.0"/><circle cx="142.0" cy="181.8" r="4.0"/><circle cx="144.3" cy="170.0" r="4.0"/><circle cx="80.9" cy="188.1" r="4.0"/><circle cx="234.6" cy="132.4" r="4.0"/><circle cx="124.3" cy="173.2" r="4.0"/><circle cx="98.3" cy="188.8" r="4.0"/><circle cx="113.9" cy="184.8" r="4.0"/><circle cx="87.4" cy="193.9" r="4.0"/><circle cx="272.8" cy="101.3" r="4.0"/><circle cx="212.1" cy="122.3" r="4.0"/><circle cx="121.1" cy="166.6" r="4.0"/><circle cx="174.5" cy="138.1" r="4.0"/><circle cx="268.2" cy="101.7" r="4.0"/><circle cx="327.4" cy="99.1" r="4.0"/><circle cx="317.7" cy="109.8" r="4.0"/><circle cx="256.4" cy="129.6" r="4.0"/><circle cx="196.0" cy="136.0" r="4.0"/><circle cx="222.1" cy="131.3" r="4.0"/><circle cx="118.7" cy="175.6" r="4.0"/><circle cx="112.0" cy="177.4" r="4.0"/><circle cx="142.3" cy="159.1" r="4.0"/><circle cx="263.1" cy="111.5" r="4.0"/><circle cx="186.1" cy="158.4" r="4.0"/><circle cx="115.2" cy="163.7" r="4.0"/><circle cx="160.9" cy="144.3" r="4.0"/><circle cx="122.2" cy="186.1" r="4.0"/><circle cx="169.5" cy="142.6" r="4.0"/><circle cx="106.9" cy="188.7" r="4.0"/><circle cx="263.5" cy="89.1" r="4.0"/><circle cx="298.1" cy="107.8" r="4.0"/><circle cx="204.0" cy="136.1" r="4.0"/><circle cx="187.3" cy="128.7" r="4.0"/><circle cx="89.0" cy="199.3" r="4.0"/><circle cx="228.8" cy="119.6" r="4.0"/><circle cx="201.4" cy="153.8" r="4.0"/><circle cx="124.6" cy="155.8" r="4.0"/><circle cx="265.8" cy="105.3" r="4.0"/><circle cx="141.7" cy="168.3" r="4.0"/><circle cx="297.1" cy="107.7" r="4.0"/><circle cx="88.1" cy="208.0" r="4.0"/><circle cx="124.7" cy="173.0" r="4.0"/><circle cx="212.6" cy="155.8" r="4.0"/><circle cx="230.0" cy="113.6" r="4.0"/><circle cx="154.9" cy="176.0" r="4.0"/><circle cx="324.7" cy="102.3" r="4.0"/><circle cx="232.6" cy="113.3" r="4.0"/><circle cx="288.3" cy="123.7" r="4.0"/><circle cx="299.5" cy="92.9" r="4.0"/><circle cx="113.4" cy="161.0" r="4.0"/><circle cx="229.7" cy="152.2" r="4.0"/><circle cx="168.3" cy="157.2" r="4.0"/><circle cx="322.7" cy="111.7" r="4.0"/><circle cx="140.0" cy="159.2" r="4.0"/><circle cx="114.1" cy="185.1" r="4.0"/><circle cx="216.7" cy="144.8" r="4.0"/><circle cx="259.7" cy="89.1" r="4.0"/><circle cx="166.1" cy="174.5" r="4.0"/><circle cx="185.3" cy="156.6" r="4.0"/><circle cx="287.8" cy="140.6" r="4.0"/><circle cx="144.6" cy="157.7" r="4.0"/><circle cx="95.8" cy="188.8" r="4.0"/><circle cx="225.6" cy="114.6" r="4.0"/><circle cx="228.2" cy="109.6" r="4.0"/><circle cx="342.1" cy="105.2" r="4.0"/><circle cx="194.6" cy="153.8" r="4.0"/><circle cx="215.2" cy="158.2" r="4.0"/><circle cx="261.7" cy="112.0" r="4.0"/><circle cx="237.5" cy="104.5" r="4.0"/><circle cx="107.9" cy="201.4" r="4.0"/><circle cx="121.7" cy="145.7" r="4.0"/><circle cx="330.5" cy="97.5" r="4.0"/><circle cx="241.4" cy="120.4" r="4.0"/><circle cx="152.6" cy="148.0" r="4.0"/><circle cx="212.6" cy="133.5" r="4.0"/><circle cx="209.2" cy="134.2" r="4.0"/><circle cx="176.8" cy="147.2" r="4.0"/><circle cx="260.1" cy="120.7" r="4.0"/><circle cx="158.6" cy="187.5" r="4.0"/><circle cx="247.5" cy="136.3" r="4.0"/><circle cx="154.4" cy="139.7" r="4.0"/><circle cx="117.8" cy="170.2" r="4.0"/><circle cx="164.9" cy="119.1" r="4.0"/><circle cx="347.1" cy="105.6" r="4.0"/><circle cx="191.8" cy="165.5" r="4.0"/><circle cx="294.8" cy="103.0" r="4.0"/><circle cx="202.5" cy="116.7" r="4.0"/><circle cx="196.7" cy="138.6" r="4.0"/><circle cx="158.0" cy="147.8" r="4.0"/><circle cx="251.5" cy="130.5" r="4.0"/><circle cx="201.8" cy="149.5" r="4.0"/><circle cx="159.3" cy="132.4" r="4.0"/><circle cx="120.5" cy="169.6" r="4.0"/><circle cx="85.9" cy="193.3" r="4.0"/><circle cx="99.9" cy="207.6" r="4.0"/><circle cx="254.8" cy="127.6" r="4.0"/><circle cx="284.2" cy="116.6" r="4.0"/><circle cx="277.2" cy="92.7" r="4.0"/><circle cx="275.9" cy="134.1" r="4.0"/><circle cx="182.4" cy="130.2" r="4.0"/><circle cx="218.8" cy="124.9" r="4.0"/><circle cx="240.2" cy="104.3" r="4.0"/><circle cx="167.4" cy="143.6" r="4.0"/><circle cx="113.4" cy="183.2" r="4.0"/><circle cx="254.8" cy="112.5" r="4.0"/><circle cx="283.3" cy="125.8" r="4.0"/><circle cx="231.5" cy="107.8" r="4.0"/><circle cx="140.7" cy="147.0" r="4.0"/><circle cx="253.0" cy="146.4" r="4.0"/><circle cx="144.6" cy="162.2" r="4.0"/><circle cx="122.5" cy="181.2" r="4.0"/><circle cx="79.3" cy="199.1" r="4.0"/><circle cx="189.9" cy="124.9" r="4.0"/><circle cx="123.4" cy="180.4" r="4.0"/><circle cx="252.9" cy="103.8" r="4.0"/><circle cx="302.1" cy="106.2" r="4.0"/><circle cx="278.9" cy="108.7" r="4.0"/><circle cx="157.2" cy="134.6" r="4.0"/><circle cx="161.5" cy="166.1" r="4.0"/><circle cx="146.2" cy="137.6" r="4.0"/><circle cx="223.9" cy="137.5" r="4.0"/><circle cx="274.9" cy="111.9" r="4.0"/><circle cx="90.2" cy="192.7" r="4.0"/><circle cx="288.9" cy="124.3" r="4.0"/><circle cx="90.3" cy="187.4" r="4.0"/><circle cx="153.5" cy="138.1" r="4.0"/><circle cx="285.2" cy="105.7" r="4.0"/><circle cx="122.6" cy="164.5" r="4.0"/><circle cx="259.0" cy="86.3" r="4.0"/><circle cx="214.3" cy="146.0" r="4.0"/><circle cx="94.3" cy="190.2" r="4.0"/><circle cx="164.6" cy="164.4" r="4.0"/><circle cx="251.9" cy="119.2" r="4.0"/><circle cx="216.3" cy="112.4" r="4.0"/><circle cx="171.8" cy="155.5" r="4.0"/><circle cx="114.4" cy="185.3" r="4.0"/><circle cx="204.5" cy="132.7" r="4.0"/><circle cx="170.0" cy="151.9" r="4.0"/><circle cx="266.7" cy="101.8" r="4.0"/><circle cx="213.0" cy="152.1" r="4.0"/><circle cx="131.4" cy="168.8" r="4.0"/><circle cx="221.3" cy="127.6" r="4.0"/><circle cx="207.7" cy="138.0" r="4.0"/><circle cx="194.0" cy="145.6" r="4.0"/><circle cx="219.1" cy="168.6" r="4.0"/><circle cx="167.2" cy="168.0" r="4.0"/><circle cx="99.3" cy="207.1" r="4.0"/><circle cx="106.6" cy="196.2" r="4.0"/><circle cx="183.7" cy="138.8" r="4.0"/><circle cx="103.2" cy="185.8" r="4.0"/><circle cx="262.0" cy="115.1" r="4.0"/><circle cx="152.4" cy="154.4" r="4.0"/><circle cx="258.8" cy="103.2" r="4.0"/><circle cx="193.6" cy="157.5" r="4.0"/><circle cx="150.9" cy="142.7" r="4.0"/><circle cx="117.2" cy="160.7" r="4.0"/><circle cx="165.1" cy="179.5" r="4.0"/><circle cx="187.3" cy="138.1" r="4.0"/><circle cx="156.0" cy="134.5" r="4.0"/><circle cx="268.2" cy="143.6" r="4.0"/><circle cx="277.0" cy="115.2" r="4.0"/><circle cx="232.4" cy="118.7" r="4.0"/><circle cx="186.6" cy="139.1" r="4.0"/><circle cx="292.0" cy="108.7" r="4.0"/><circle cx="208.1" cy="123.0" r="4.0"/><circle cx="232.3" cy="104.2" r="4.0"/><circle cx="147.7" cy="158.0" r="4.0"/><circle cx="128.1" cy="159.2" r="4.0"/><circle cx="139.4" cy="186.1" r="4.0"/><circle cx="271.2" cy="111.2" r="4.0"/><circle cx="80.5" cy="181.3" r="4.0"/><circle cx="259.0" cy="127.0" r="4.0"/><circle cx="100.9" cy="191.8" r="4.0"/><circle cx="97.8" cy="201.7" r="4.0"/><circle cx="88.2" cy="199.2" r="4.0"/><circle cx="297.5" cy="110.7" r="4.0"/><circle cx="192.7" cy="171.8" r="4.0"/><circle cx="149.1" cy="142.6" r="4.0"/><circle cx="296.5" cy="114.5" r="4.0"/><circle cx="125.4" cy="171.1" r="4.0"/><circle cx="185.5" cy="162.6" r="4.0"/><circle cx="275.5" cy="101.4" r="4.0"/><circle cx="227.6" cy="108.7" r="4.0"/><circle cx="263.6" cy="80.9" r="4.0"/><circle cx="277.5" cy="129.3" r="4.0"/><circle cx="207.9" cy="133.7" r="4.0"/><circle cx="138.8" cy="158.2" r="4.0"/><circle cx="123.5" cy="166.4" r="4.0"/><circle cx="173.9" cy="164.2" r="4.0"/><circle cx="116.6" cy="184.5" r="4.0"/><circle cx="187.5" cy="156.8" r="4.0"/><circle cx="222.6" cy="139.5" r="4.0"/><circle cx="76.9" cy="206.1" r="4.0"/><circle cx="171.3" cy="164.5" r="4.0"/><circle cx="272.3" cy="135.1" r="4.0"/><circle cx="181.0" cy="161.9" r="4.0"/><circle cx="265.7" cy="82.0" r="4.0"/><circle cx="150.0" cy="145.7" r="4.0"/><circle cx="191.7" cy="149.3" r="4.0"/><circle cx="216.3" cy="142.0" r="4.0"/><circle cx="181.7" cy="136.6" r="4.0"/><circle cx="148.7" cy="163.3" r="4.0"/><circle cx="160.7" cy="127.4" r="4.0"/><circle cx="157.1" cy="155.6" r="4.0"/><circle cx="221.2" cy="110.1" r="4.0"/><circle cx="260.2" cy="86.3" r="4.0"/><circle cx="283.0" cy="134.3" r="4.0"/><circle cx="226.0" cy="151.0" r="4.0"/><circle cx="79.7" cy="184.4" r="4.0"/><circle cx="268.6" cy="126.5" r="4.0"/><circle cx="254.9" cy="140.8" r="4.0"/><circle cx="125.4" cy="170.6" r="4.0"/><circle cx="176.4" cy="149.5" r="4.0"/><circle cx="104.4" cy="178.8" r="4.0"/><circle cx="265.2" cy="107.4" r="4.0"/><circle cx="180.1" cy="140.7" r="4.0"/><circle cx="126.5" cy="158.2" r="4.0"/><circle cx="131.7" cy="166.7" r="4.0"/><circle cx="154.6" cy="153.3" r="4.0"/><circle cx="170.2" cy="133.5" r="4.0"/><circle cx="206.3" cy="145.6" r="4.0"/><circle cx="192.4" cy="144.2" r="4.0"/><circle cx="244.0" cy="150.3" r="4.0"/><circle cx="173.5" cy="145.1" r="4.0"/><circle cx="191.1" cy="153.5" r="4.0"/><circle cx="325.7" cy="106.1" r="4.0"/><circle cx="101.7" cy="187.4" r="4.0"/><circle cx="166.9" cy="181.0" r="4.0"/><circle cx="165.3" cy="175.8" r="4.0"/><circle cx="198.2" cy="141.2" r="4.0"/><circle cx="202.1" cy="139.8" r="4.0"/><circle cx="231.3" cy="110.0" r="4.0"/><circle cx="204.8" cy="141.0" r="4.0"/><circle cx="185.3" cy="166.3" r="4.0"/><circle cx="287.4" cy="112.3" r="4.0"/><circle cx="223.4" cy="137.4" r="4.0"/><circle cx="224.5" cy="125.5" r="4.0"/><circle cx="172.5" cy="143.9" r="4.0"/><circle cx="256.1" cy="118.2" r="4.0"/><circle cx="179.3" cy="155.6" r="4.0"/><circle cx="88.9" cy="181.6" r="4.0"/><circle cx="138.3" cy="161.0" r="4.0"/><circle cx="289.1" cy="113.8" r="4.0"/><circle cx="152.1" cy="173.6" r="4.0"/><circle cx="185.8" cy="178.3" r="4.0"/><circle cx="137.6" cy="165.6" r="4.0"/><circle cx="280.6" cy="91.3" r="4.0"/><circle cx="250.7" cy="99.5" r="4.0"/><circle cx="121.9" cy="182.9" r="4.0"/><circle cx="141.9" cy="165.8" r="4.0"/><circle cx="238.6" cy="101.6" r="4.0"/><circle cx="129.7" cy="170.0" r="4.0"/><circle cx="218.5" cy="122.0" r="4.0"/><circle cx="313.6" cy="113.5" r="4.0"/><circle cx="248.2" cy="134.8" r="4.0"/><circle cx="172.8" cy="138.9" r="4.0"/><circle cx="127.5" cy="178.3" r="4.0"/><circle cx="111.4" cy="183.9" r="4.0"/><circle cx="230.3" cy="125.7" r="4.0"/><circle cx="136.1" cy="186.9" r="4.0"/><circle cx="109.0" cy="174.0" r="4.0"/><circle cx="268.9" cy="112.2" r="4.0"/><circle cx="231.9" cy="114.7" r="4.0"/><circle cx="136.3" cy="184.4" r="4.0"/><circle cx="229.5" cy="131.5" r="4.0"/><circle cx="187.9" cy="144.8" r="4.0"/><circle cx="111.8" cy="174.3" r="4.0"/><circle cx="291.5" cy="110.6" r="4.0"/><circle cx="300.3" cy="106.6" r="4.0"/><circle cx="250.4" cy="151.5" r="4.0"/><circle cx="150.7" cy="139.0" r="4.0"/><circle cx="249.4" cy="111.7" r="4.0"/><circle cx="121.2" cy="174.9" r="4.0"/><circle cx="269.7" cy="108.0" r="4.0"/><circle cx="154.6" cy="141.2" r="4.0"/><circle cx="234.0" cy="93.0" r="4.0"/><circle cx="246.0" cy="150.5" r="4.0"/><circle cx="221.7" cy="92.3" r="4.0"/><circle cx="214.4" cy="142.3" r="4.0"/><circle cx="140.4" cy="159.8" r="4.0"/><circle cx="161.6" cy="147.9" r="4.0"/><circle cx="120.5" cy="193.6" r="4.0"/><circle cx="267.1" cy="135.6" r="4.0"/><circle cx="206.2" cy="115.0" r="4.0"/><circle cx="177.3" cy="125.8" r="4.0"/><circle cx="271.2" cy="114.4" r="4.0"/><circle cx="112.8" cy="175.1" r="4.0"/><circle cx="279.2" cy="113.6" r="4.0"/><circle cx="280.2" cy="106.7" r="4.0"/><circle cx="144.8" cy="169.7" r="4.0"/><circle cx="145.2" cy="162.7" r="4.0"/><circle cx="273.5" cy="130.1" r="4.0"/><circle cx="256.2" cy="108.9" r="4.0"/><circle cx="231.3" cy="121.1" r="4.0"/><circle cx="107.1" cy="186.5" r="4.0"/><circle cx="266.9" cy="106.9" r="4.0"/><circle cx="181.7" cy="160.0" r="4.0"/><circle cx="165.5" cy="152.4" r="4.0"/><circle cx="335.9" cy="97.8" r="4.0"/><circle cx="125.8" cy="179.3" r="4.0"/><circle cx="197.1" cy="154.1" r="4.0"/><circle cx="98.5" cy="183.1" r="4.0"/><circle cx="116.1" cy="165.5" r="4.0"/><circle cx="146.8" cy="159.8" r="4.0"/><circle cx="154.6" cy="163.6" r="4.0"/><circle cx="278.5" cy="115.4" r="4.0"/><circle cx="272.7" cy="121.3" r="4.0"/><circle cx="248.8" cy="136.5" r="4.0"/><circle cx="264.6" cy="123.9" r="4.0"/><circle cx="181.7" cy="151.7" r="4.0"/><circle cx="268.3" cy="111.4" r="4.0"/><circle cx="248.9" cy="134.7" r="4.0"/><circle cx="262.3" cy="100.9" r="4.0"/><circle cx="121.1" cy="152.5" r="4.0"/><circle cx="123.8" cy="167.8" r="4.0"/><circle cx="317.5" cy="108.2" r="4.0"/><circle cx="140.9" cy="157.6" r="4.0"/><circle cx="219.0" cy="150.5" r="4.0"/><circle cx="105.8" cy="184.0" r="4.0"/><circle cx="97.5" cy="181.1" r="4.0"/><circle cx="282.3" cy="88.0" r="4.0"/><circle cx="171.1" cy="157.7" r="4.0"/><circle cx="182.4" cy="148.8" r="4.0"/><circle cx="220.9" cy="137.4" r="4.0"/><circle cx="103.3" cy="167.4" r="4.0"/><circle cx="247.0" cy="109.6" r="4.0"/><circle cx="215.5" cy="153.3" r="4.0"/><circle cx="207.7" cy="143.3" r="4.0"/><circle cx="222.6" cy="121.3" r="4.0"/><circle cx="203.7" cy="131.8" r="4.0"/><circle cx="235.7" cy="112.5" r="4.0"/><circle cx="221.1" cy="145.4" r="4.0"/><circle cx="275.0" cy="125.4" r="4.0"/><circle cx="179.8" cy="170.6" r="4.0"/><circle cx="277.5" cy="96.9" r="4.0"/><circle cx="181.1" cy="143.9" r="4.0"/><circle cx="248.9" cy="134.4" r="4.0"/><circle cx="206.4" cy="151.9" r="4.0"/><circle cx="104.8" cy="206.9" r="4.0"/><circle cx="252.5" cy="126.4" r="4.0"/><circle cx="154.2" cy="173.9" r="4.0"/><circle cx="159.2" cy="168.0" r="4.0"/><circle cx="217.7" cy="114.0" r="4.0"/><circle cx="274.6" cy="91.1" r="4.0"/><circle cx="165.4" cy="143.7" r="4.0"/><circle cx="139.3" cy="151.6" r="4.0"/><circle cx="291.9" cy="120.6" r="4.0"/><circle cx="146.5" cy="153.7" r="4.0"/><circle cx="97.8" cy="177.5" r="4.0"/><circle cx="280.7" cy="106.4" r="4.0"/><circle cx="155.8" cy="152.3" r="4.0"/><circle cx="91.8" cy="190.9" r="4.0"/><circle cx="91.7" cy="173.8" r="4.0"/><circle cx="141.6" cy="149.5" r="4.0"/><circle cx="260.7" cy="125.0" r="4.0"/><circle cx="141.2" cy="165.7" r="4.0"/><circle cx="228.6" cy="117.7" r="4.0"/><circle cx="138.8" cy="153.7" r="4.0"/><circle cx="218.0" cy="132.6" r="4.0"/><circle cx="96.4" cy="172.3" r="4.0"/><circle cx="107.3" cy="160.9" r="4.0"/><circle cx="161.5" cy="146.2" r="4.0"/><circle cx="271.2" cy="106.2" r="4.0"/><circle cx="97.3" cy="183.7" r="4.0"/><circle cx="145.6" cy="161.5" r="4.0"/><circle cx="190.7" cy="133.8" r="4.0"/><circle cx="228.8" cy="130.7" r="4.0"/><circle cx="273.0" cy="115.6" r="4.0"/><circle cx="246.4" cy="132.5" r="4.0"/><circle cx="209.5" cy="117.3" r="4.0"/><circle cx="90.9" cy="194.3" r="4.0"/><circle cx="207.6" cy="165.9" r="4.0"/><circle cx="254.7" cy="108.0" r="4.0"/><circle cx="113.2" cy="177.4" r="4.0"/><circle cx="185.8" cy="119.4" r="4.0"/><circle cx="176.5" cy="138.0" r="4.0"/><circle cx="128.6" cy="174.1" r="4.0"/><circle cx="169.3" cy="150.1" r="4.0"/><circle cx="298.7" cy="112.0" r="4.0"/><circle cx="156.7" cy="165.7" r="4.0"/><circle cx="134.3" cy="182.8" r="4.0"/><circle cx="179.7" cy="178.7" r="4.0"/><circle cx="240.0" cy="149.1" r="4.0"/><circle cx="292.0" cy="121.0" r="4.0"/><circle cx="354.8" cy="101.5" r="4.0"/><circle cx="127.2" cy="158.5" r="4.0"/><circle cx="171.0" cy="143.9" r="4.0"/><circle cx="206.9" cy="125.6" r="4.0"/><circle cx="211.7" cy="143.0" r="4.0"/><circle cx="149.8" cy="174.2" r="4.0"/><circle cx="224.3" cy="160.7" r="4.0"/><circle cx="231.5" cy="117.4" r="4.0"/><circle cx="242.8" cy="111.2" r="4.0"/><circle cx="135.8" cy="157.7" r="4.0"/><circle cx="338.5" cy="96.6" r="4.0"/><circle cx="213.8" cy="141.0" r="4.0"/><circle cx="310.9" cy="107.4" r="4.0"/><circle cx="93.5" cy="204.0" r="4.0"/><circle cx="248.0" cy="93.0" r="4.0"/><circle cx="137.5" cy="172.6" r="4.0"/><circle cx="92.4" cy="189.9" r="4.0"/><circle cx="120.7" cy="183.9" r="4.0"/><circle cx="212.7" cy="145.5" r="4.0"/><circle cx="261.8" cy="120.5" r="4.0"/><circle cx="268.1" cy="92.8" r="4.0"/><circle cx="342.3" cy="105.8" r="4.0"/><circle cx="156.2" cy="176.0" r="4.0"/><circle cx="147.8" cy="171.0" r="4.0"/><circle cx="118.3" cy="184.4" r="4.0"/><circle cx="272.2" cy="105.4" r="4.0"/><circle cx="200.7" cy="171.2" r="4.0"/><circle cx="76.4" cy="202.6" r="4.0"/><circle cx="89.4" cy="188.8" r="4.0"/><circle cx="219.6" cy="121.6" r="4.0"/><circle cx="226.2" cy="102.9" r="4.0"/><circle cx="145.5" cy="182.3" r="4.0"/><circle cx="214.8" cy="151.2" r="4.0"/><circle cx="112.1" cy="177.4" r="4.0"/><circle cx="216.6" cy="159.0" r="4.0"/><circle cx="175.8" cy="176.0" r="4.0"/><circle cx="308.2" cy="107.9" r="4.0"/><circle cx="289.6" cy="107.6" r="4.0"/><circle cx="261.7" cy="124.8" r="4.0"/><circle cx="193.8" cy="151.8" r="4.0"/><circle cx="219.1" cy="93.4" r="4.0"/><circle cx="166.5" cy="146.4" r="4.0"/><circle cx="292.3" cy="101.0" r="4.0"/><circle cx="256.6" cy="137.9" r="4.0"/><circle cx="228.4" cy="125.5" r="4.0"/><circle cx="273.5" cy="92.5" r="4.0"/><circle cx="120.7" cy="165.3" r="4.0"/><circle cx="191.2" cy="156.2" r="4.0"/><circle cx="265.9" cy="123.2" r="4.0"/><circle cx="121.8" cy="159.5" r="4.0"/><circle cx="273.3" cy="97.6" r="4.0"/><circle cx="153.5" cy="172.2" r="4.0"/><circle cx="153.2" cy="161.4" r="4.0"/><circle cx="202.3" cy="155.5" r="4.0"/><circle cx="83.4" cy="193.8" r="4.0"/><circle cx="213.9" cy="145.9" r="4.0"/><circle cx="188.2" cy="154.5" r="4.0"/><circle cx="76.6" cy="199.8" r="4.0"/><circle cx="233.7" cy="123.0" r="4.0"/><circle cx="235.9" cy="123.7" r="4.0"/><circle cx="295.9" cy="122.4" r="4.0"/><circle cx="193.2" cy="149.6" r="4.0"/><circle cx="183.7" cy="158.3" r="4.0"/><circle cx="204.3" cy="147.6" r="4.0"/><circle cx="156.0" cy="143.8" r="4.0"/><circle cx="261.5" cy="131.2" r="4.0"/><circle cx="99.8" cy="184.4" r="4.0"/><circle cx="210.3" cy="141.0" r="4.0"/><circle cx="128.4" cy="146.7" r="4.0"/><circle cx="239.1" cy="134.5" r="4.0"/><circle cx="251.9" cy="121.9" r="4.0"/><circle cx="230.1" cy="120.4" r="4.0"/><circle cx="242.7" cy="133.8" r="4.0"/><circle cx="197.8" cy="145.8" r="4.0"/><circle cx="83.8" cy="184.2" r="4.0"/><circle cx="122.8" cy="158.2" r="4.0"/><circle cx="89.8" cy="189.6" r="4.0"/><circle cx="135.4" cy="182.8" r="4.0"/><circle cx="84.5" cy="167.1" r="4.0"/><circle cx="130.9" cy="162.4" r="4.0"/><circle cx="307.6" cy="102.8" r="4.0"/><circle cx="279.6" cy="98.9" r="4.0"/><circle cx="206.7" cy="171.1" r="4.0"/><circle cx="167.1" cy="154.3" r="4.0"/><circle cx="143.6" cy="152.9" r="4.0"/><circle cx="214.8" cy="145.0" r="4.0"/><circle cx="146.2" cy="162.1" r="4.0"/><circle cx="139.2" cy="190.8" r="4.0"/><circle cx="191.5" cy="146.6" r="4.0"/><circle cx="207.6" cy="178.1" r="4.0"/><circle cx="255.1" cy="142.3" r="4.0"/><circle cx="255.7" cy="135.7" r="4.0"/><circle cx="171.1" cy="163.1" r="4.0"/><circle cx="185.2" cy="143.3" r="4.0"/><circle cx="272.4" cy="113.8" r="4.0"/><circle cx="212.6" cy="133.2" r="4.0"/><circle cx="159.1" cy="172.1" r="4.0"/><circle cx="214.7" cy="133.5" r="4.0"/><circle cx="229.0" cy="119.7" r="4.0"/><circle cx="268.9" cy="137.6" r="4.0"/><circle cx="187.7" cy="149.7" r="4.0"/><circle cx="161.2" cy="147.8" r="4.0"/><circle cx="209.2" cy="169.4" r="4.0"/><circle cx="146.7" cy="156.6" r="4.0"/><circle cx="214.9" cy="117.6" r="4.0"/><circle cx="147.8" cy="186.2" r="4.0"/><circle cx="180.9" cy="133.8" r="4.0"/><circle cx="83.8" cy="199.9" r="4.0"/><circle cx="127.9" cy="185.8" r="4.0"/><circle cx="283.1" cy="112.5" r="4.0"/><circle cx="322.0" cy="102.9" r="4.0"/><circle cx="118.5" cy="162.4" r="4.0"/><circle cx="132.5" cy="172.7" r="4.0"/><circle cx="171.6" cy="166.8" r="4.0"/><circle cx="128.3" cy="195.3" r="4.0"/><circle cx="115.5" cy="184.2" r="4.0"/><circle cx="278.3" cy="121.8" r="4.0"/><circle cx="146.4" cy="167.4" r="4.0"/><circle cx="179.2" cy="160.7" r="4.0"/><circle cx="107.9" cy="163.5" r="4.0"/><circle cx="257.3" cy="159.9" r="4.0"/><circle cx="175.9" cy="148.5" r="4.0"/><circle cx="183.7" cy="141.3" r="4.0"/><circle cx="211.3" cy="150.3" r="4.0"/><circle cx="205.5" cy="149.3" r="4.0"/><circle cx="289.9" cy="115.4" r="4.0"/><circle cx="202.5" cy="136.8" r="4.0"/><circle cx="268.1" cy="98.4" r="4.0"/><circle cx="237.2" cy="121.2" r="4.0"/><circle cx="157.2" cy="171.3" r="4.0"/><circle cx="175.3" cy="140.6" r="4.0"/><circle cx="329.8" cy="99.0" r="4.0"/><circle cx="93.8" cy="187.3" r="4.0"/><circle cx="102.4" cy="169.4" r="4.0"/><circle cx="234.4" cy="86.9" r="4.0"/><circle cx="148.5" cy="168.3" r="4.0"/><circle cx="123.2" cy="167.2" r="4.0"/><circle cx="234.5" cy="131.4" r="4.0"/><circle cx="218.3" cy="120.8" r="4.0"/><circle cx="194.4" cy="140.6" r="4.0"/><circle cx="145.3" cy="175.9" r="4.0"/><circle cx="207.0" cy="144.3" r="4.0"/><circle cx="258.2" cy="133.4" r="4.0"/><circle cx="157.7" cy="154.0" r="4.0"/><circle cx="77.6" cy="197.5" r="4.0"/><circle cx="221.2" cy="112.5" r="4.0"/><circle cx="286.4" cy="138.4" r="4.0"/><circle cx="137.0" cy="165.5" r="4.0"/><circle cx="202.3" cy="125.9" r="4.0"/><circle cx="149.0" cy="163.3" r="4.0"/><circle cx="181.4" cy="144.2" r="4.0"/><circle cx="100.1" cy="201.6" r="4.0"/><circle cx="259.8" cy="87.4" r="4.0"/><circle cx="128.0" cy="185.6" r="4.0"/><circle cx="347.5" cy="104.7" r="4.0"/><circle cx="135.3" cy="146.5" r="4.0"/><circle cx="316.7" cy="113.8" r="4.0"/><circle cx="135.4" cy="190.2" r="4.0"/><circle cx="277.4" cy="136.9" r="4.0"/><circle cx="230.3" cy="132.4" r="4.0"/><circle cx="97.5" cy="190.6" r="4.0"/><circle cx="148.5" cy="143.8" r="4.0"/><circle cx="273.1" cy="137.3" r="4.0"/><circle cx="232.5" cy="136.9" r="4.0"/><circle cx="223.4" cy="128.5" r="4.0"/><circle cx="173.9" cy="146.9" r="4.0"/><circle cx="96.6" cy="181.3" r="4.0"/><circle cx="83.3" cy="178.7" r="4.0"/><circle cx="141.8" cy="171.2" r="4.0"/><circle cx="111.6" cy="185.1" r="4.0"/><circle cx="268.7" cy="107.3" r="4.0"/><circle cx="138.5" cy="160.5" r="4.0"/><circle cx="278.8" cy="92.1" r="4.0"/><circle cx="83.7" cy="198.6" r="4.0"/><circle cx="157.8" cy="147.2" r="4.0"/><circle cx="86.2" cy="181.4" r="4.0"/><circle cx="82.4" cy="201.3" r="4.0"/><circle cx="104.7" cy="161.8" r="4.0"/><circle cx="167.2" cy="172.5" r="4.0"/><circle cx="101.2" cy="183.6" r="4.0"/><circle cx="183.9" cy="131.8" r="4.0"/><circle cx="204.6" cy="115.9" r="4.0"/><circle cx="107.4" cy="174.0" r="4.0"/><circle cx="284.8" cy="125.2" r="4.0"/><circle cx="259.3" cy="116.7" r="4.0"/><circle cx="181.6" cy="153.3" r="4.0"/><circle cx="223.3" cy="147.7" r="4.0"/><circle cx="121.0" cy="193.8" r="4.0"/><circle cx="183.8" cy="149.8" r="4.0"/><circle cx="173.3" cy="146.8" r="4.0"/><circle cx="266.8" cy="114.4" r="4.0"/><circle cx="99.1" cy="185.5" r="4.0"/><circle cx="105.6" cy="174.8" r="4.0"/><circle cx="240.3" cy="103.1" r="4.0"/><circle cx="180.0" cy="148.2" r="4.0"/><circle cx="292.0" cy="115.7" r="4.0"/><circle cx="162.0" cy="177.5" r="4.0"/><circle cx="190.0" cy="137.6" r="4.0"/><circle cx="107.9" cy="173.5" r="4.0"/><circle cx="149.9" cy="150.7" r="4.0"/><circle cx="320.9" cy="106.4" r="4.0"/><circle cx="98.9" cy="165.9" r="4.0"/><circle cx="261.0" cy="157.5" r="4.0"/><circle cx="110.2" cy="178.1" r="4.0"/><circle cx="211.8" cy="139.4" r="4.0"/><circle cx="281.3" cy="115.6" r="4.0"/><circle cx="120.4" cy="179.5" r="4.0"/><circle cx="263.0" cy="120.2" r="4.0"/><circle cx="266.5" cy="110.6" r="4.0"/><circle cx="239.7" cy="141.7" r="4.0"/><circle cx="163.7" cy="125.8" r="4.0"/><circle cx="127.8" cy="186.1" r="4.0"/><circle cx="131.6" cy="185.5" r="4.0"/><circle cx="282.4" cy="110.5" r="4.0"/><circle cx="219.4" cy="146.3" r="4.0"/><circle cx="115.9" cy="183.2" r="4.0"/><circle cx="175.5" cy="166.4" r="4.0"/><circle cx="198.9" cy="140.2" r="4.0"/><circle cx="94.0" cy="194.2" r="4.0"/><circle cx="209.5" cy="134.3" r="4.0"/><circle cx="211.8" cy="154.8" r="4.0"/><circle cx="282.2" cy="118.7" r="4.0"/><circle cx="153.5" cy="166.7" r="4.0"/><circle cx="238.0" cy="126.2" r="4.0"/><circle cx="123.9" cy="174.8" r="4.0"/><circle cx="82.0" cy="185.8" r="4.0"/><circle cx="111.8" cy="171.3" r="4.0"/><circle cx="142.6" cy="143.4" r="4.0"/><circle cx="273.3" cy="129.3" r="4.0"/><circle cx="111.2" cy="184.6" r="4.0"/><circle cx="130.1" cy="162.3" r="4.0"/><circle cx="144.3" cy="162.1" r="4.0"/><circle cx="234.8" cy="142.6" r="4.0"/><circle cx="230.6" cy="126.7" r="4.0"/><circle cx="234.2" cy="121.0" r="4.0"/><circle cx="100.7" cy="193.7" r="4.0"/><circle cx="290.8" cy="111.2" r="4.0"/><circle cx="253.2" cy="102.3" r="4.0"/><circle cx="111.8" cy="202.9" r="4.0"/><circle cx="225.5" cy="137.8" r="4.0"/><circle cx="239.0" cy="122.8" r="4.0"/><circle cx="177.9" cy="147.8" r="4.0"/><circle cx="110.5" cy="172.3" r="4.0"/><circle cx="205.6" cy="119.3" r="4.0"/><circle cx="183.0" cy="133.2" r="4.0"/><circle cx="165.8" cy="159.3" r="4.0"/><circle cx="94.8" cy="177.0" r="4.0"/><circle cx="191.0" cy="143.7" r="4.0"/><circle cx="161.2" cy="162.9" r="4.0"/><circle cx="181.9" cy="171.7" r="4.0"/><circle cx="122.0" cy="166.5" r="4.0"/><circle cx="297.8" cy="85.8" r="4.0"/><circle cx="146.2" cy="171.3" r="4.0"/><circle cx="281.5" cy="110.9" r="4.0"/><circle cx="281.3" cy="86.3" r="4.0"/><circle cx="115.4" cy="175.8" r="4.0"/><circle cx="264.6" cy="118.9" r="4.0"/><circle cx="94.3" cy="165.6" r="4.0"/><circle cx="246.0" cy="123.0" r="4.0"/><circle cx="133.4" cy="156.3" r="4.0"/><circle cx="225.4" cy="120.9" r="4.0"/><circle cx="203.8" cy="163.3" r="4.0"/><circle cx="296.0" cy="112.5" r="4.0"/><circle cx="286.3" cy="110.5" r="4.0"/><circle cx="140.4" cy="148.7" r="4.0"/><circle cx="312.1" cy="122.4" r="4.0"/><circle cx="197.1" cy="152.2" r="4.0"/><circle cx="283.6" cy="102.8" r="4.0"/><circle cx="288.5" cy="85.8" r="4.0"/><circle cx="203.7" cy="140.6" r="4.0"/><circle cx="210.4" cy="152.0" r="4.0"/><circle cx="182.6" cy="123.5" r="4.0"/><circle cx="167.2" cy="151.2" r="4.0"/><circle cx="254.7" cy="126.0" r="4.0"/><circle cx="291.6" cy="123.7" r="4.0"/><circle cx="215.3" cy="161.7" r="4.0"/><circle cx="273.9" cy="149.3" r="4.0"/><circle cx="239.0" cy="126.4" r="4.0"/><circle cx="124.5" cy="167.9" r="4.0"/><circle cx="248.4" cy="133.9" r="4.0"/><circle cx="265.7" cy="116.4" r="4.0"/><circle cx="94.6" cy="197.2" r="4.0"/><circle cx="252.3" cy="144.9" r="4.0"/><circle cx="272.0" cy="130.3" r="4.0"/><circle cx="114.1" cy="191.8" r="4.0"/><circle cx="236.6" cy="133.1" r="4.0"/><circle cx="169.4" cy="125.3" r="4.0"/><circle cx="224.4" cy="137.5" r="4.0"/><circle cx="229.4" cy="105.9" r="4.0"/><circle cx="177.7" cy="159.1" r="4.0"/><circle cx="82.5" cy="173.2" r="4.0"/><circle cx="93.6" cy="193.4" r="4.0"/><circle cx="134.1" cy="174.6" r="4.0"/><circle cx="211.8" cy="136.3" r="4.0"/><circle cx="232.4" cy="100.5" r="4.0"/><circle cx="237.4" cy="147.7" r="4.0"/><circle cx="148.2" cy="169.6" r="4.0"/><circle cx="330.5" cy="114.7" r="4.0"/><circle cx="139.9" cy="182.9" r="4.0"/><circle cx="235.7" cy="159.2" r="4.0"/><circle cx="296.5" cy="101.6" r="4.0"/><circle cx="301.5" cy="105.3" r="4.0"/><circle cx="246.7" cy="119.9" r="4.0"/><circle cx="245.4" cy="157.5" r="4.0"/><circle cx="234.8" cy="125.1" r="4.0"/><circle cx="338.1" cy="106.2" r="4.0"/><circle cx="97.2" cy="211.2" r="4.0"/><circle cx="225.5" cy="129.1" r="4.0"/><circle cx="105.0" cy="195.9" r="4.0"/><circle cx="126.5" cy="184.5" r="4.0"/><circle cx="186.9" cy="149.9" r="4.0"/><circle cx="98.7" cy="175.8" r="4.0"/><circle cx="165.6" cy="174.6" r="4.0"/><circle cx="323.0" cy="97.9" r="4.0"/><circle cx="114.9" cy="166.0" r="4.0"/><circle cx="204.0" cy="133.5" r="4.0"/><circle cx="133.4" cy="164.2" r="4.0"/><circle cx="131.8" cy="154.2" r="4.0"/><circle cx="84.5" cy="209.3" r="4.0"/><circle cx="180.5" cy="183.0" r="4.0"/><circle cx="158.6" cy="191.1" r="4.0"/><circle cx="114.5" cy="182.3" r="4.0"/><circle cx="94.8" cy="183.3" r="4.0"/><circle cx="178.2" cy="165.6" r="4.0"/><circle cx="332.5" cy="101.3" r="4.0"/><circle cx="274.9" cy="112.4" r="4.0"/><circle cx="95.2" cy="172.2" r="4.0"/><circle cx="151.9" cy="179.8" r="4.0"/><circle cx="171.5" cy="153.3" r="4.0"/><circle cx="298.4" cy="94.4" r="4.0"/><circle cx="165.7" cy="143.4" r="4.0"/><circle cx="282.8" cy="126.5" r="4.0"/><circle cx="95.3" cy="204.9" r="4.0"/><circle cx="160.5" cy="164.3" r="4.0"/><circle cx="85.6" cy="189.6" r="4.0"/><circle cx="127.2" cy="172.3" r="4.0"/><circle cx="263.2" cy="127.4" r="4.0"/><circle cx="100.4" cy="193.2" r="4.0"/><circle cx="253.9" cy="131.2" r="4.0"/><circle cx="297.0" cy="123.3" r="4.0"/><circle cx="262.4" cy="117.0" r="4.0"/><circle cx="172.6" cy="153.8" r="4.0"/><circle cx="242.6" cy="129.0" r="4.0"/><circle cx="76.8" cy="199.9" r="4.0"/><circle cx="173.8" cy="164.0" r="4.0"/><circle cx="254.2" cy="157.2" r="4.0"/><circle cx="245.4" cy="132.9" r="4.0"/><circle cx="185.4" cy="164.2" r="4.0"/><circle cx="121.6" cy="175.4" r="4.0"/><circle cx="247.0" cy="126.1" r="4.0"/><circle cx="183.5" cy="165.0" r="4.0"/><circle cx="249.1" cy="131.6" r="4.0"/><circle cx="266.8" cy="111.4" r="4.0"/><circle cx="109.9" cy="193.7" r="4.0"/><circle cx="150.2" cy="163.5" r="4.0"/><circle cx="139.6" cy="168.5" r="4.0"/><circle cx="186.8" cy="152.7" r="4.0"/><circle cx="235.5" cy="106.0" r="4.0"/><circle cx="290.7" cy="113.4" r="4.0"/><circle cx="323.0" cy="108.7" r="4.0"/><circle cx="205.9" cy="117.5" r="4.0"/><circle cx="165.8" cy="128.0" r="4.0"/><circle cx="235.5" cy="85.0" r="4.0"/><circle cx="288.8" cy="127.6" r="4.0"/><circle cx="128.0" cy="183.6" r="4.0"/><circle cx="280.2" cy="146.5" r="4.0"/><circle cx="299.0" cy="114.8" r="4.0"/><circle cx="244.8" cy="145.7" r="4.0"/><circle cx="270.2" cy="120.8" r="4.0"/><circle cx="149.6" cy="156.2" r="4.0"/><circle cx="144.4" cy="149.9" r="4.0"/><circle cx="133.0" cy="179.6" r="4.0"/><circle cx="210.8" cy="158.2" r="4.0"/><circle cx="156.7" cy="145.4" r="4.0"/><circle cx="244.9" cy="112.1" r="4.0"/><circle cx="284.7" cy="99.6" r="4.0"/><circle cx="237.9" cy="124.3" r="4.0"/><circle cx="255.2" cy="129.6" r="4.0"/><circle cx="310.5" cy="117.3" r="4.0"/><circle cx="291.5" cy="114.1" r="4.0"/><circle cx="82.9" cy="186.4" r="4.0"/><circle cx="153.5" cy="127.6" r="4.0"/><circle cx="194.2" cy="136.2" r="4.0"/><circle cx="310.7" cy="105.3" r="4.0"/><circle cx="161.3" cy="161.0" r="4.0"/><circle cx="136.0" cy="158.1" r="4.0"/><circle cx="197.3" cy="134.1" r="4.0"/><circle cx="82.8" cy="178.6" r="4.0"/><circle cx="119.4" cy="190.4" r="4.0"/><circle cx="157.9" cy="166.0" r="4.0"/><circle cx="298.6" cy="103.3" r="4.0"/><circle cx="215.0" cy="128.0" r="4.0"/><circle cx="165.7" cy="141.3" r="4.0"/><circle cx="208.3" cy="121.8" r="4.0"/><circle cx="252.7" cy="113.5" r="4.0"/><circle cx="234.3" cy="118.1" r="4.0"/><circle cx="213.5" cy="106.2" r="4.0"/><circle cx="234.3" cy="134.1" r="4.0"/><circle cx="91.9" cy="183.0" r="4.0"/><circle cx="265.7" cy="131.3" r="4.0"/><circle cx="178.8" cy="155.4" r="4.0"/><circle cx="197.3" cy="152.5" r="4.0"/><circle cx="129.5" cy="162.7" r="4.0"/><circle cx="262.5" cy="106.4" r="4.0"/><circle cx="199.7" cy="161.5" r="4.0"/><circle cx="135.1" cy="134.5" r="4.0"/><circle cx="291.7" cy="102.5" r="4.0"/><circle cx="195.6" cy="161.4" r="4.0"/><circle cx="243.6" cy="119.9" r="4.0"/><circle cx="144.8" cy="160.3" r="4.0"/><circle cx="233.1" cy="91.0" r="4.0"/><circle cx="241.4" cy="114.8" r="4.0"/><circle cx="253.7" cy="109.1" r="4.0"/><circle cx="100.9" cy="187.9" r="4.0"/><circle cx="108.3" cy="199.5" r="4.0"/><circle cx="235.7" cy="111.0" r="4.0"/><circle cx="269.6" cy="141.1" r="4.0"/><circle cx="146.7" cy="163.2" r="4.0"/><circle cx="271.1" cy="128.5" r="4.0"/><circle cx="185.4" cy="150.8" r="4.0"/><circle cx="223.2" cy="126.7" r="4.0"/><circle cx="91.6" cy="192.7" r="4.0"/><circle cx="271.8" cy="120.0" r="4.0"/><circle cx="251.6" cy="118.6" r="4.0"/><circle cx="257.4" cy="114.3" r="4.0"/><circle cx="138.1" cy="170.8" r="4.0"/><circle cx="303.7" cy="110.4" r="4.0"/><circle cx="257.8" cy="102.1" r="4.0"/><circle cx="268.5" cy="104.7" r="4.0"/><circle cx="108.4" cy="180.5" r="4.0"/><circle cx="105.8" cy="181.0" r="4.0"/><circle cx="326.4" cy="98.8" r="4.0"/><circle cx="159.1" cy="164.5" r="4.0"/><circle cx="216.2" cy="96.8" r="4.0"/><circle cx="274.1" cy="106.7" r="4.0"/><circle cx="215.8" cy="134.7" r="4.0"/><circle cx="226.1" cy="163.0" r="4.0"/><circle cx="203.5" cy="152.1" r="4.0"/><circle cx="179.0" cy="162.2" r="4.0"/><circle cx="293.1" cy="123.0" r="4.0"/><circle cx="128.4" cy="159.7" r="4.0"/><circle cx="127.6" cy="143.7" r="4.0"/><circle cx="224.2" cy="140.9" r="4.0"/><circle cx="264.1" cy="144.6" r="4.0"/><circle cx="275.4" cy="117.5" r="4.0"/><circle cx="208.6" cy="156.0" r="4.0"/><circle cx="185.7" cy="150.6" r="4.0"/><circle cx="188.8" cy="129.8" r="4.0"/><circle cx="290.4" cy="126.0" r="4.0"/><circle cx="147.6" cy="151.5" r="4.0"/><circle cx="220.7" cy="153.1" r="4.0"/><circle cx="203.3" cy="139.7" r="4.0"/><circle cx="244.8" cy="141.9" r="4.0"/><circle cx="260.0" cy="142.0" r="4.0"/><circle cx="186.9" cy="172.3" r="4.0"/><circle cx="194.5" cy="165.7" r="4.0"/><circle cx="149.6" cy="149.9" r="4.0"/><circle cx="220.2" cy="152.2" r="4.0"/><circle cx="260.7" cy="106.6" r="4.0"/><circle cx="231.9" cy="133.8" r="4.0"/><circle cx="163.7" cy="137.8" r="4.0"/><circle cx="226.7" cy="98.7" r="4.0"/><circle cx="163.1" cy="154.7" r="4.0"/><circle cx="228.3" cy="149.6" r="4.0"/><circle cx="303.2" cy="112.6" r="4.0"/><circle cx="176.1" cy="140.3" r="4.0"/><circle cx="218.0" cy="111.6" r="4.0"/><circle cx="206.6" cy="150.6" r="4.0"/><circle cx="126.1" cy="160.6" r="4.0"/><circle cx="144.0" cy="171.1" r="4.0"/><circle cx="206.6" cy="139.6" r="4.0"/><circle cx="89.7" cy="191.8" r="4.0"/><circle cx="291.7" cy="99.5" r="4.0"/><circle cx="124.0" cy="165.7" r="4.0"/><circle cx="174.4" cy="150.2" r="4.0"/><circle cx="138.1" cy="174.3" r="4.0"/><circle cx="106.6" cy="168.2" r="4.0"/><circle cx="131.0" cy="166.7" r="4.0"/><circle cx="88.3" cy="189.1" r="4.0"/><circle cx="169.1" cy="143.4" r="4.0"/><circle cx="285.5" cy="121.9" r="4.0"/><circle cx="260.7" cy="110.8" r="4.0"/><circle cx="224.1" cy="120.3" r="4.0"/><circle cx="225.8" cy="117.5" r="4.0"/><circle cx="86.8" cy="170.8" r="4.0"/><circle cx="202.9" cy="147.7" r="4.0"/><circle cx="254.8" cy="110.4" r="4.0"/><circle cx="166.1" cy="152.8" r="4.0"/><circle cx="111.2" cy="198.4" r="4.0"/><circle cx="100.3" cy="212.0" r="4.0"/><circle cx="106.8" cy="198.5" r="4.0"/><circle cx="125.5" cy="147.7" r="4.0"/><circle cx="311.8" cy="104.9" r="4.0"/><circle cx="142.4" cy="191.7" r="4.0"/><circle cx="132.5" cy="178.9" r="4.0"/><circle cx="269.3" cy="105.6" r="4.0"/><circle cx="85.7" cy="190.1" r="4.0"/><circle cx="124.0" cy="181.6" r="4.0"/><circle cx="116.2" cy="194.6" r="4.0"/><circle cx="100.6" cy="192.3" r="4.0"/><circle cx="294.3" cy="121.7" r="4.0"/><circle cx="144.1" cy="154.1" r="4.0"/><circle cx="240.0" cy="108.6" r="4.0"/><circle cx="260.5" cy="133.5" r="4.0"/><circle cx="208.4" cy="129.9" r="4.0"/><circle cx="234.6" cy="134.6" r="4.0"/><circle cx="173.3" cy="178.2" r="4.0"/><circle cx="114.5" cy="197.7" r="4.0"/><circle cx="286.8" cy="145.9" r="4.0"/><circle cx="125.5" cy="163.8" r="4.0"/><circle cx="276.1" cy="89.5" r="4.0"/><circle cx="141.5" cy="167.5" r="4.0"/><circle cx="121.6" cy="159.8" r="4.0"/><circle cx="165.5" cy="160.9" r="4.0"/><circle cx="218.0" cy="139.1" r="4.0"/><circle cx="212.5" cy="115.5" r="4.0"/><circle cx="249.1" cy="130.7" r="4.0"/><circle cx="289.3" cy="114.4" r="4.0"/><circle cx="298.9" cy="104.1" r="4.0"/><circle cx="112.8" cy="181.3" r="4.0"/><circle cx="240.1" cy="104.3" r="4.0"/><circle cx="165.6" cy="151.1" r="4.0"/><circle cx="98.9" cy="184.8" r="4.0"/><circle cx="198.6" cy="148.2" r="4.0"/><circle cx="260.0" cy="128.2" r="4.0"/><circle cx="298.1" cy="112.8" r="4.0"/><circle cx="235.5" cy="127.3" r="4.0"/><circle cx="207.6" cy="127.1" r="4.0"/><circle cx="248.7" cy="123.5" r="4.0"/><circle cx="203.7" cy="132.7" r="4.0"/><circle cx="309.5" cy="105.2" r="4.0"/><circle cx="168.8" cy="142.1" r="4.0"/><circle cx="190.9" cy="129.7" r="4.0"/><circle cx="204.2" cy="119.8" r="4.0"/><circle cx="308.2" cy="105.5" r="4.0"/><circle cx="161.8" cy="164.5" r="4.0"/><circle cx="299.5" cy="121.4" r="4.0"/><circle cx="214.0" cy="136.2" r="4.0"/><circle cx="262.9" cy="130.5" r="4.0"/><circle cx="200.5" cy="136.8" r="4.0"/><circle cx="158.3" cy="153.0" r="4.0"/><circle cx="116.0" cy="171.6" r="4.0"/><circle cx="227.8" cy="148.1" r="4.0"/><circle cx="277.8" cy="116.9" r="4.0"/><circle cx="248.6" cy="103.3" r="4.0"/><circle cx="185.5" cy="174.5" r="4.0"/><circle cx="291.4" cy="106.6" r="4.0"/><circle cx="141.8" cy="163.7" r="4.0"/><circle cx="198.9" cy="144.2" r="4.0"/><circle cx="284.4" cy="131.4" r="4.0"/><circle cx="188.6" cy="146.8" r="4.0"/><circle cx="238.6" cy="123.2" r="4.0"/><circle cx="139.3" cy="167.7" r="4.0"/><circle cx="273.0" cy="125.8" r="4.0"/><circle cx="317.2" cy="96.9" r="4.0"/><circle cx="244.9" cy="137.4" r="4.0"/><circle cx="239.9" cy="109.6" r="4.0"/><circle cx="247.6" cy="123.2" r="4.0"/><circle cx="280.6" cy="143.0" r="4.0"/><circle cx="341.1" cy="100.4" r="4.0"/><circle cx="240.9" cy="127.3" r="4.0"/><circle cx="161.4" cy="167.6" r="4.0"/><circle cx="166.8" cy="166.2" r="4.0"/><circle cx="119.0" cy="154.9" r="4.0"/><circle cx="290.8" cy="139.9" r="4.0"/><circle cx="127.3" cy="164.2" r="4.0"/><circle cx="209.9" cy="110.8" r="4.0"/><circle cx="204.9" cy="143.0" r="4.0"/><circle cx="125.8" cy="172.8" r="4.0"/><circle cx="228.0" cy="149.9" r="4.0"/><circle cx="95.0" cy="184.0" r="4.0"/><circle cx="153.1" cy="168.7" r="4.0"/><circle cx="235.4" cy="131.1" r="4.0"/><circle cx="186.3" cy="166.2" r="4.0"/><circle cx="191.3" cy="140.0" r="4.0"/><circle cx="223.3" cy="152.6" r="4.0"/><circle cx="148.8" cy="168.5" r="4.0"/><circle cx="264.2" cy="102.6" r="4.0"/><circle cx="276.3" cy="119.1" r="4.0"/><circle cx="141.1" cy="179.4" r="4.0"/><circle cx="137.1" cy="184.3" r="4.0"/><circle cx="228.6" cy="127.6" r="4.0"/><circle cx="242.4" cy="155.1" r="4.0"/><circle cx="196.1" cy="157.6" r="4.0"/><circle cx="178.4" cy="152.7" r="4.0"/><circle cx="269.9" cy="117.3" r="4.0"/><circle cx="281.2" cy="96.6" r="4.0"/><circle cx="82.4" cy="190.0" r="4.0"/><circle cx="296.2" cy="106.4" r="4.0"/><circle cx="112.7" cy="173.3" r="4.0"/><circle cx="191.0" cy="175.0" r="4.0"/><circle cx="141.1" cy="151.0" r="4.0"/><circle cx="218.5" cy="93.5" r="4.0"/><circle cx="198.0" cy="156.3" r="4.0"/><circle cx="167.4" cy="140.0" r="4.0"/><circle cx="282.3" cy="119.6" r="4.0"/><circle cx="271.3" cy="129.0" r="4.0"/><circle cx="131.6" cy="178.1" r="4.0"/><circle cx="182.7" cy="163.4" r="4.0"/><circle cx="83.4" cy="167.3" r="4.0"/><circle cx="93.7" cy="171.0" r="4.0"/><circle cx="307.8" cy="104.2" r="4.0"/><circle cx="229.7" cy="118.3" r="4.0"/><circle cx="283.9" cy="125.1" r="4.0"/><circle cx="174.3" cy="143.9" r="4.0"/><circle cx="164.8" cy="160.0" r="4.0"/><circle cx="154.0" cy="168.2" r="4.0"/><circle cx="136.6" cy="159.1" r="4.0"/><circle cx="129.7" cy="167.0" r="4.0"/><circle cx="201.8" cy="150.8" r="4.0"/><circle cx="276.4" cy="138.1" r="4.0"/><circle cx="149.6" cy="189.0" r="4.0"/><circle cx="165.1" cy="159.2" r="4.0"/><circle cx="143.1" cy="156.3" r="4.0"/><circle cx="231.0" cy="99.2" r="4.0"/><circle cx="132.6" cy="159.5" r="4.0"/><circle cx="139.2" cy="146.6" r="4.0"/><circle cx="341.9" cy="108.9" r="4.0"/><circle cx="343.4" cy="102.8" r="4.0"/><circle cx="130.2" cy="162.7" r="4.0"/><circle cx="92.9" cy="189.1" r="4.0"/><circle cx="203.9" cy="164.2" r="4.0"/><circle cx="145.7" cy="159.3" r="4.0"/><circle cx="228.2" cy="123.4" r="4.0"/><circle cx="198.1" cy="138.1" r="4.0"/><circle cx="97.5" cy="199.5" r="4.0"/><circle cx="188.3" cy="130.5" r="4.0"/><circle cx="269.4" cy="150.5" r="4.0"/><circle cx="272.6" cy="136.7" r="4.0"/><circle cx="187.0" cy="167.9" r="4.0"/><circle cx="241.4" cy="140.7" r="4.0"/><circle cx="139.8" cy="192.7" r="4.0"/><circle cx="208.6" cy="146.6" r="4.0"/><circle cx="243.5" cy="136.9" r="4.0"/><circle cx="277.0" cy="87.3" r="4.0"/><circle cx="112.1" cy="155.0" r="4.0"/><circle cx="190.3" cy="140.2" r="4.0"/><circle cx="173.3" cy="147.0" r="4.0"/><circle cx="229.9" cy="120.6" r="4.0"/><circle cx="113.0" cy="175.9" r="4.0"/><circle cx="260.7" cy="127.8" r="4.0"/><circle cx="85.4" cy="199.0" r="4.0"/><circle cx="104.1" cy="183.0" r="4.0"/><circle cx="163.7" cy="143.0" r="4.0"/><circle cx="281.8" cy="80.5" r="4.0"/><circle cx="277.0" cy="124.5" r="4.0"/><circle cx="158.0" cy="139.7" r="4.0"/><circle cx="333.5" cy="92.9" r="4.0"/><circle cx="105.1" cy="178.9" r="4.0"/><circle cx="247.3" cy="119.6" r="4.0"/><circle cx="202.8" cy="132.0" r="4.0"/><circle cx="173.7" cy="164.8" r="4.0"/><circle cx="253.9" cy="129.5" r="4.0"/><circle cx="122.5" cy="189.2" r="4.0"/><circle cx="266.8" cy="129.5" r="4.0"/><circle cx="182.5" cy="139.0" r="4.0"/><circle cx="136.0" cy="183.7" r="4.0"/><circle cx="157.8" cy="152.6" r="4.0"/><circle cx="231.3" cy="107.1" r="4.0"/><circle cx="275.3" cy="122.7" r="4.0"/><circle cx="215.8" cy="138.1" r="4.0"/><circle cx="224.4" cy="121.0" r="4.0"/><circle cx="93.8" cy="174.8" r="4.0"/><circle cx="168.5" cy="156.1" r="4.0"/><circle cx="224.2" cy="106.4" r="4.0"/><circle cx="186.8" cy="142.3" r="4.0"/><circle cx="110.8" cy="173.0" r="4.0"/><circle cx="113.8" cy="186.2" r="4.0"/><circle cx="227.0" cy="162.2" r="4.0"/><circle cx="341.6" cy="104.4" r="4.0"/><circle cx="237.2" cy="106.8" r="4.0"/><circle cx="198.4" cy="136.6" r="4.0"/><circle cx="104.6" cy="188.6" r="4.0"/><circle cx="80.7" cy="199.4" r="4.0"/><circle cx="182.4" cy="179.4" r="4.0"/><circle cx="252.1" cy="117.1" r="4.0"/><circle cx="269.0" cy="108.3" r="4.0"/><circle cx="135.3" cy="186.7" r="4.0"/><circle cx="98.8" cy="181.0" r="4.0"/><circle cx="160.9" cy="151.9" r="4.0"/><circle cx="140.1" cy="130.4" r="4.0"/><circle cx="214.2" cy="131.1" r="4.0"/><circle cx="215.3" cy="158.4" r="4.0"/><circle cx="180.4" cy="139.0" r="4.0"/><circle cx="318.7" cy="114.8" r="4.0"/><circle cx="198.8" cy="160.3" r="4.0"/><circle cx="146.5" cy="178.8" r="4.0"/><circle cx="304.3" cy="114.4" r="4.0"/><circle cx="176.2" cy="165.5" r="4.0"/><circle cx="134.2" cy="182.7" r="4.0"/><circle cx="257.1" cy="104.0" r="4.0"/><circle cx="159.2" cy="147.9" r="4.0"/><circle cx="231.9" cy="137.9" r="4.0"/><circle cx="89.6" cy="173.7" r="4.0"/><circle cx="307.2" cy="127.0" r="4.0"/><circle cx="249.8" cy="134.1" r="4.0"/><circle cx="200.8" cy="153.9" r="4.0"/><circle cx="146.3" cy="134.5" r="4.0"/><circle cx="214.0" cy="155.6" r="4.0"/><circle cx="221.1" cy="128.8" r="4.0"/><circle cx="130.8" cy="152.0" r="4.0"/><circle cx="92.7" cy="189.9" r="4.0"/><circle cx="101.5" cy="202.2" r="4.0"/><circle cx="111.9" cy="197.1" r="4.0"/><circle cx="103.2" cy="181.9" r="4.0"/><circle cx="291.2" cy="111.5" r="4.0"/><circle cx="101.6" cy="189.1" r="4.0"/><circle cx="103.6" cy="202.9" r="4.0"/><circle cx="227.0" cy="120.1" r="4.0"/><circle cx="124.0" cy="162.4" r="4.0"/><circle cx="274.3" cy="129.3" r="4.0"/><circle cx="218.5" cy="138.5" r="4.0"/><circle cx="200.7" cy="177.5" r="4.0"/><circle cx="139.1" cy="166.3" r="4.0"/><circle cx="186.9" cy="130.3" r="4.0"/><circle cx="147.2" cy="154.8" r="4.0"/><circle cx="188.8" cy="149.3" r="4.0"/><circle cx="104.0" cy="191.9" r="4.0"/><circle cx="156.1" cy="146.5" r="4.0"/><circle cx="156.6" cy="131.7" r="4.0"/><circle cx="95.2" cy="190.9" r="4.0"/><circle cx="260.3" cy="126.3" r="4.0"/><circle cx="148.1" cy="139.6" r="4.0"/><circle cx="304.2" cy="113.9" r="4.0"/><circle cx="139.5" cy="163.5" r="4.0"/><circle cx="241.8" cy="141.1" r="4.0"/><circle cx="125.8" cy="174.8" r="4.0"/><circle cx="199.4" cy="143.5" r="4.0"/><circle cx="80.2" cy="176.5" r="4.0"/><circle cx="97.3" cy="187.8" r="4.0"/><circle cx="105.5" cy="190.5" r="4.0"/><circle cx="208.0" cy="143.6" r="4.0"/><circle cx="329.0" cy="110.1" r="4.0"/><circle cx="281.8" cy="104.1" r="4.0"/><circle cx="337.8" cy="100.7" r="4.0"/><circle cx="130.8" cy="162.7" r="4.0"/><circle cx="224.2" cy="136.7" r="4.0"/><circle cx="205.8" cy="146.1" r="4.0"/><circle cx="204.6" cy="140.8" r="4.0"/><circle cx="234.8" cy="109.2" r="4.0"/><circle cx="222.8" cy="131.7" r="4.0"/><circle cx="144.7" cy="157.6" r="4.0"/><circle cx="134.4" cy="184.2" r="4.0"/><circle cx="301.1" cy="104.9" r="4.0"/><circle cx="248.1" cy="117.0" r="4.0"/><circle cx="295.5" cy="111.8" r="4.0"/><circle cx="163.4" cy="184.4" r="4.0"/><circle cx="130.7" cy="181.0" r="4.0"/><circle cx="239.6" cy="131.0" r="4.0"/><circle cx="285.2" cy="102.2" r="4.0"/><circle cx="310.2" cy="105.3" r="4.0"/><circle cx="146.5" cy="131.4" r="4.0"/><circle cx="298.7" cy="101.6" r="4.0"/><circle cx="172.5" cy="147.7" r="4.0"/><circle cx="256.8" cy="113.6" r="4.0"/><circle cx="228.6" cy="132.4" r="4.0"/><circle cx="79.1" cy="193.5" r="4.0"/><circle cx="228.1" cy="132.5" r="4.0"/><circle cx="163.5" cy="187.5" r="4.0"/><circle cx="294.8" cy="110.4" r="4.0"/><circle cx="172.3" cy="140.0" r="4.0"/><circle cx="196.3" cy="141.2" r="4.0"/><circle cx="290.4" cy="112.1" r="4.0"/><circle cx="263.1" cy="110.3" r="4.0"/><circle cx="114.0" cy="199.1" r="4.0"/><circle cx="318.5" cy="93.4" r="4.0"/><circle cx="210.8" cy="134.3" r="4.0"/><circle cx="126.1" cy="170.7" r="4.0"/><circle cx="91.2" cy="180.9" r="4.0"/><circle cx="262.2" cy="107.7" r="4.0"/><circle cx="113.1" cy="181.6" r="4.0"/><circle cx="177.7" cy="158.4" r="4.0"/><circle cx="103.4" cy="156.7" r="4.0"/><circle cx="162.4" cy="164.8" r="4.0"/><circle cx="294.4" cy="127.3" r="4.0"/><circle cx="292.0" cy="96.5" r="4.0"/><circle cx="96.4" cy="185.2" r="4.0"/><circle cx="89.1" cy="176.4" r="4.0"/><circle cx="128.3" cy="152.9" r="4.0"/><circle cx="81.2" cy="183.2" r="4.0"/><circle cx="227.7" cy="124.4" r="4.0"/><circle cx="128.8" cy="171.7" r="4.0"/><circle cx="78.6" cy="191.6" r="4.0"/><circle cx="104.5" cy="197.3" r="4.0"/><circle cx="267.3" cy="100.2" r="4.0"/><circle cx="132.5" cy="158.9" r="4.0"/><circle cx="135.8" cy="166.9" r="4.0"/><circle cx="179.5" cy="122.3" r="4.0"/><circle cx="259.3" cy="125.8" r="4.0"/><circle cx="286.1" cy="99.4" r="4.0"/><circle cx="141.5" cy="160.3" r="4.0"/><circle cx="257.4" cy="88.5" r="4.0"/><circle cx="285.3" cy="130.1" r="4.0"/><circle cx="225.7" cy="147.1" r="4.0"/><circle cx="209.4" cy="140.5" r="4.0"/><circle cx="170.3" cy="130.2" r="4.0"/><circle cx="238.1" cy="126.4" r="4.0"/><circle cx="188.7" cy="154.8" r="4.0"/><circle cx="237.3" cy="133.6" r="4.0"/><circle cx="120.1" cy="190.1" r="4.0"/><circle cx="185.9" cy="155.2" r="4.0"/><circle cx="99.6" cy="193.5" r="4.0"/><circle cx="323.0" cy="112.0" r="4.0"/><circle cx="244.4" cy="106.0" r="4.0"/><circle cx="94.3" cy="181.0" r="4.0"/><circle cx="216.0" cy="109.3" r="4.0"/><circle cx="210.7" cy="147.0" r="4.0"/><circle cx="90.0" cy="198.0" r="4.0"/><circle cx="176.6" cy="139.9" r="4.0"/><circle cx="135.5" cy="161.6" r="4.0"/><circle cx="137.5" cy="175.0" r="4.0"/><circle cx="172.9" cy="157.4" r="4.0"/><circle cx="244.6" cy="110.2" r="4.0"/><circle cx="202.6" cy="154.2" r="4.0"/><circle cx="256.5" cy="120.5" r="4.0"/><circle cx="117.2" cy="172.7" r="4.0"/><circle cx="141.2" cy="154.9" r="4.0"/><circle cx="155.5" cy="163.7" r="4.0"/><circle cx="142.7" cy="147.2" r="4.0"/><circle cx="117.1" cy="164.8" r="4.0"/><circle cx="90.8" cy="177.7" r="4.0"/><circle cx="216.2" cy="147.6" r="4.0"/><circle cx="268.4" cy="87.0" r="4.0"/><circle cx="262.3" cy="101.6" r="4.0"/><circle cx="171.7" cy="127.9" r="4.0"/><circle cx="181.3" cy="133.7" r="4.0"/><circle cx="136.5" cy="158.5" r="4.0"/><circle cx="251.1" cy="111.3" r="4.0"/><circle cx="243.4" cy="100.8" r="4.0"/><circle cx="268.6" cy="145.5" r="4.0"/><circle cx="146.7" cy="177.1" r="4.0"/><circle cx="246.8" cy="102.6" r="4.0"/><circle cx="165.6" cy="160.2" r="4.0"/><circle cx="208.9" cy="130.0" r="4.0"/><circle cx="291.5" cy="121.3" r="4.0"/><circle cx="94.5" cy="192.3" r="4.0"/><circle cx="119.4" cy="185.1" r="4.0"/><circle cx="212.1" cy="151.8" r="4.0"/><circle cx="170.1" cy="174.4" r="4.0"/><circle cx="78.2" cy="200.2" r="4.0"/><circle cx="250.7" cy="139.5" r="4.0"/><circle cx="214.7" cy="118.5" r="4.0"/><circle cx="107.8" cy="205.8" r="4.0"/><circle cx="114.9" cy="182.7" r="4.0"/><circle cx="223.7" cy="103.1" r="4.0"/><circle cx="282.3" cy="110.1" r="4.0"/><circle cx="131.9" cy="185.6" r="4.0"/><circle cx="166.1" cy="146.3" r="4.0"/><circle cx="153.7" cy="150.1" r="4.0"/><circle cx="285.2" cy="113.7" r="4.0"/><circle cx="128.1" cy="169.3" r="4.0"/><circle cx="243.2" cy="104.5" r="4.0"/><circle cx="105.4" cy="173.1" r="4.0"/><circle cx="281.3" cy="90.4" r="4.0"/><circle cx="265.9" cy="135.4" r="4.0"/><circle cx="242.8" cy="132.1" r="4.0"/><circle cx="137.4" cy="162.8" r="4.0"/><circle cx="198.3" cy="150.3" r="4.0"/><circle cx="168.2" cy="149.0" r="4.0"/><circle cx="138.3" cy="173.4" r="4.0"/><circle cx="297.1" cy="101.3" r="4.0"/><circle cx="259.7" cy="133.1" r="4.0"/><circle cx="231.1" cy="120.4" r="4.0"/><circle cx="204.3" cy="139.5" r="4.0"/><circle cx="197.9" cy="131.4" r="4.0"/><circle cx="172.5" cy="147.3" r="4.0"/><circle cx="180.9" cy="182.7" r="4.0"/><circle cx="266.9" cy="102.5" r="4.0"/><circle cx="204.3" cy="150.7" r="4.0"/><circle cx="230.0" cy="160.1" r="4.0"/><circle cx="115.3" cy="181.7" r="4.0"/><circle cx="294.2" cy="131.4" r="4.0"/><circle cx="87.2" cy="192.1" r="4.0"/><circle cx="112.0" cy="193.0" r="4.0"/><circle cx="280.6" cy="117.3" r="4.0"/><circle cx="111.8" cy="176.4" r="4.0"/><circle cx="185.0" cy="135.3" r="4.0"/><circle cx="173.0" cy="175.2" r="4.0"/><circle cx="208.2" cy="158.6" r="4.0"/><circle cx="160.0" cy="140.3" r="4.0"/><circle cx="105.8" cy="167.1" r="4.0"/><circle cx="102.0" cy="180.6" r="4.0"/><circle cx="289.5" cy="105.5" r="4.0"/><circle cx="157.4" cy="164.0" r="4.0"/><circle cx="212.7" cy="145.5" r="4.0"/><circle cx="253.0" cy="125.2" r="4.0"/><circle cx="169.2" cy="170.7" r="4.0"/><circle cx="179.1" cy="146.5" r="4.0"/><circle cx="93.3" cy="200.8" r="4.0"/><circle cx="159.0" cy="148.0" r="4.0"/><circle cx="283.5" cy="113.9" r="4.0"/><circle cx="147.1" cy="157.3" r="4.0"/><circle cx="187.1" cy="143.9" r="4.0"/><circle cx="261.7" cy="136.7" r="4.0"/><circle cx="236.7" cy="124.0" r="4.0"/><circle cx="226.7" cy="137.9" r="4.0"/><circle cx="115.3" cy="186.0" r="4.0"/><circle cx="249.3" cy="102.6" r="4.0"/><circle cx="166.1" cy="158.2" r="4.0"/><circle cx="222.6" cy="152.4" r="4.0"/><circle cx="154.4" cy="142.6" r="4.0"/><circle cx="152.7" cy="188.2" r="4.0"/><circle cx="263.0" cy="87.1" r="4.0"/><circle cx="120.8" cy="177.0" r="4.0"/><circle cx="224.2" cy="156.1" r="4.0"/><circle cx="182.0" cy="126.9" r="4.0"/><circle cx="178.4" cy="152.9" r="4.0"/><circle cx="117.4" cy="155.8" r="4.0"/><circle cx="106.2" cy="210.8" r="4.0"/><circle cx="82.1" cy="189.5" r="4.0"/><circle cx="223.3" cy="119.4" r="4.0"/><circle cx="234.1" cy="123.9" r="4.0"/><circle cx="170.6" cy="184.7" r="4.0"/><circle cx="151.9" cy="151.5" r="4.0"/><circle cx="259.3" cy="82.1" r="4.0"/><circle cx="260.8" cy="138.2" r="4.0"/><circle cx="195.6" cy="142.9" r="4.0"/><circle cx="121.7" cy="160.3" r="4.0"/><circle cx="220.6" cy="139.8" r="4.0"/><circle cx="230.1" cy="110.6" r="4.0"/><circle cx="277.6" cy="115.1" r="4.0"/><circle cx="145.8" cy="183.6" r="4.0"/><circle cx="90.6" cy="192.4" r="4.0"/><circle cx="201.2" cy="132.6" r="4.0"/><circle cx="230.6" cy="118.9" r="4.0"/><circle cx="237.2" cy="158.7" r="4.0"/><circle cx="195.7" cy="137.7" r="4.0"/><circle cx="112.4" cy="160.7" r="4.0"/><circle cx="185.8" cy="144.0" r="4.0"/><circle cx="250.4" cy="124.2" r="4.0"/><circle cx="168.4" cy="125.5" r="4.0"/><circle cx="143.8" cy="164.6" r="4.0"/><circle cx="161.4" cy="156.2" r="4.0"/><circle cx="136.6" cy="171.5" r="4.0"/><circle cx="90.5" cy="184.5" r="4.0"/><circle cx="239.7" cy="91.0" r="4.0"/><circle cx="241.9" cy="115.8" r="4.0"/><circle cx="97.8" cy="211.2" r="4.0"/><circle cx="142.3" cy="151.9" r="4.0"/><circle cx="74.4" cy="201.8" r="4.0"/><circle cx="211.5" cy="161.5" r="4.0"/><circle cx="127.8" cy="168.6" r="4.0"/><circle cx="314.1" cy="116.7" r="4.0"/><circle cx="245.6" cy="96.0" r="4.0"/><circle cx="164.1" cy="142.6" r="4.0"/><circle cx="337.8" cy="105.1" r="4.0"/><circle cx="206.4" cy="157.1" r="4.0"/><circle cx="278.7" cy="106.6" r="4.0"/><circle cx="177.9" cy="154.9" r="4.0"/><circle cx="149.6" cy="166.5" r="4.0"/><circle cx="268.4" cy="145.9" r="4.0"/><circle cx="252.1" cy="131.6" r="4.0"/><circle cx="292.5" cy="114.8" r="4.0"/><circle cx="114.0" cy="160.4" r="4.0"/><circle cx="125.0" cy="176.9" r="4.0"/><circle cx="125.2" cy="155.1" r="4.0"/><circle cx="135.8" cy="151.2" r="4.0"/><circle cx="150.6" cy="167.5" r="4.0"/><circle cx="217.7" cy="149.3" r="4.0"/><circle cx="175.7" cy="156.9" r="4.0"/><circle cx="195.5" cy="150.4" r="4.0"/><circle cx="81.4" cy="198.1" r="4.0"/><circle cx="165.6" cy="141.1" r="4.0"/><circle cx="298.9" cy="119.9" r="4.0"/><circle cx="177.6" cy="162.8" r="4.0"/><circle cx="304.0" cy="109.4" r="4.0"/><circle cx="254.8" cy="120.1" r="4.0"/><circle cx="171.4" cy="181.7" r="4.0"/><circle cx="304.1" cy="113.9" r="4.0"/><circle cx="143.1" cy="171.6" r="4.0"/><circle cx="162.8" cy="126.9" r="4.0"/><circle cx="212.3" cy="156.4" r="4.0"/><circle cx="131.6" cy="185.0" r="4.0"/><circle cx="159.6" cy="184.8" r="4.0"/><circle cx="238.5" cy="145.3" r="4.0"/><circle cx="206.0" cy="135.7" r="4.0"/><circle cx="151.6" cy="171.7" r="4.0"/><circle cx="92.7" cy="195.2" r="4.0"/><circle cx="213.9" cy="154.3" r="4.0"/><circle cx="120.5" cy="170.0" r="4.0"/><circle cx="184.8" cy="161.2" r="4.0"/><circle cx="318.4" cy="118.6" r="4.0"/><circle cx="235.7" cy="117.3" r="4.0"/><circle cx="293.4" cy="110.0" r="4.0"/><circle cx="237.3" cy="135.7" r="4.0"/><circle cx="181.4" cy="147.4" r="4.0"/><circle cx="146.8" cy="171.1" r="4.0"/><circle cx="238.9" cy="96.9" r="4.0"/><circle cx="208.4" cy="141.7" r="4.0"/><circle cx="296.5" cy="120.0" r="4.0"/><circle cx="231.3" cy="120.1" r="4.0"/><circle cx="122.6" cy="162.3" r="4.0"/><circle cx="134.4" cy="185.7" r="4.0"/><circle cx="119.8" cy="167.6" r="4.0"/><circle cx="331.7" cy="99.3" r="4.0"/><circle cx="95.9" cy="195.9" r="4.0"/><circle cx="164.6" cy="149.2" r="4.0"/><circle cx="290.5" cy="120.8" r="4.0"/><circle cx="258.5" cy="112.7" r="4.0"/><circle cx="119.8" cy="185.0" r="4.0"/><circle cx="143.1" cy="151.9" r="4.0"/><circle cx="128.0" cy="154.5" r="4.0"/><circle cx="100.9" cy="187.2" r="4.0"/><circle cx="208.6" cy="161.2" r="4.0"/><circle cx="244.4" cy="137.3" r="4.0"/><circle cx="183.5" cy="149.2" r="4.0"/><circle cx="239.2" cy="121.6" r="4.0"/><circle cx="86.6" cy="193.9" r="4.0"/><circle cx="162.1" cy="134.4" r="4.0"/><circle cx="279.1" cy="108.0" r="4.0"/><circle cx="197.2" cy="145.5" r="4.0"/><circle cx="125.7" cy="186.0" r="4.0"/><circle cx="196.2" cy="139.6" r="4.0"/><circle cx="104.8" cy="159.7" r="4.0"/><circle cx="145.6" cy="141.6" r="4.0"/><circle cx="346.9" cy="103.4" r="4.0"/><circle cx="276.1" cy="107.9" r="4.0"/><circle cx="250.2" cy="157.1" r="4.0"/><circle cx="217.6" cy="162.7" r="4.0"/><circle cx="229.6" cy="129.1" r="4.0"/><circle cx="259.7" cy="77.2" r="4.0"/><circle cx="148.7" cy="145.8" r="4.0"/><circle cx="143.4" cy="158.8" r="4.0"/><circle cx="231.8" cy="128.7" r="4.0"/><circle cx="127.8" cy="165.0" r="4.0"/><circle cx="152.7" cy="155.3" r="4.0"/><circle cx="133.5" cy="149.7" r="4.0"/><circle cx="232.4" cy="125.6" r="4.0"/><circle cx="287.8" cy="108.2" r="4.0"/><circle cx="199.4" cy="170.3" r="4.0"/><circle cx="150.4" cy="149.2" r="4.0"/><circle cx="196.1" cy="139.9" r="4.0"/><circle cx="109.8" cy="193.3" r="4.0"/><circle cx="87.8" cy="193.2" r="4.0"/><circle cx="200.1" cy="146.9" r="4.0"/><circle cx="161.2" cy="140.7" r="4.0"/><circle cx="113.1" cy="165.5" r="4.0"/><circle cx="195.0" cy="156.4" r="4.0"/><circle cx="339.0" cy="94.5" r="4.0"/><circle cx="84.2" cy="183.7" r="4.0"/><circle cx="243.3" cy="99.5" r="4.0"/><circle cx="212.3" cy="136.3" r="4.0"/><circle cx="182.4" cy="151.4" r="4.0"/><circle cx="127.1" cy="192.4" r="4.0"/><circle cx="282.5" cy="122.8" r="4.0"/><circle cx="298.7" cy="121.0" r="4.0"/><circle cx="139.7" cy="143.4" r="4.0"/><circle cx="266.6" cy="132.7" r="4.0"/><circle cx="236.5" cy="126.2" r="4.0"/><circle cx="181.1" cy="119.1" r="4.0"/><circle cx="100.0" cy="186.3" r="4.0"/><circle cx="244.8" cy="130.6" r="4.0"/><circle cx="266.1" cy="93.5" r="4.0"/><circle cx="245.5" cy="110.4" r="4.0"/><circle cx="190.4" cy="167.1" r="4.0"/><circle cx="239.7" cy="109.3" r="4.0"/><circle cx="108.2" cy="179.0" r="4.0"/><circle cx="137.3" cy="161.2" r="4.0"/><circle cx="318.1" cy="123.4" r="4.0"/><circle cx="334.4" cy="103.3" r="4.0"/><circle cx="92.9" cy="200.8" r="4.0"/><circle cx="184.5" cy="159.0" r="4.0"/><circle cx="281.8" cy="99.1" r="4.0"/><circle cx="96.0" cy="180.2" r="4.0"/><circle cx="250.2" cy="122.1" r="4.0"/><circle cx="184.0" cy="152.2" r="4.0"/><circle cx="233.3" cy="116.3" r="4.0"/><circle cx="95.7" cy="185.2" r="4.0"/><circle cx="107.9" cy="181.9" r="4.0"/><circle cx="186.7" cy="144.3" r="4.0"/><circle cx="239.1" cy="112.8" r="4.0"/><circle cx="110.4" cy="176.1" r="4.0"/><circle cx="158.3" cy="168.4" r="4.0"/><circle cx="259.0" cy="114.3" r="4.0"/><circle cx="105.3" cy="175.0" r="4.0"/><circle cx="115.2" cy="167.5" r="4.0"/><circle cx="218.9" cy="151.7" r="4.0"/><circle cx="190.5" cy="150.2" r="4.0"/><circle cx="193.5" cy="149.1" r="4.0"/><circle cx="237.7" cy="124.2" r="4.0"/><circle cx="102.2" cy="176.9" r="4.0"/><circle cx="202.8" cy="152.8" r="4.0"/><circle cx="283.5" cy="96.7" r="4.0"/><circle cx="192.0" cy="151.8" r="4.0"/><circle cx="229.0" cy="113.0" r="4.0"/><circle cx="85.5" cy="191.4" r="4.0"/><circle cx="272.0" cy="110.5" r="4.0"/><circle cx="276.1" cy="127.0" r="4.0"/><circle cx="112.4" cy="155.7" r="4.0"/><circle cx="164.1" cy="155.1" r="4.0"/><circle cx="312.3" cy="121.3" r="4.0"/><circle cx="89.3" cy="197.1" r="4.0"/><circle cx="269.5" cy="125.4" r="4.0"/><circle cx="119.9" cy="186.2" r="4.0"/><circle cx="169.9" cy="178.9" r="4.0"/><circle cx="264.2" cy="114.5" r="4.0"/><circle cx="317.3" cy="113.0" r="4.0"/><circle cx="129.3" cy="186.7" r="4.0"/><circle cx="268.1" cy="127.3" r="4.0"/><circle cx="167.4" cy="121.5" r="4.0"/><circle cx="180.1" cy="142.2" r="4.0"/><circle cx="256.9" cy="114.8" r="4.0"/><circle cx="162.5" cy="167.4" r="4.0"/><circle cx="152.3" cy="169.2" r="4.0"/><circle cx="89.3" cy="180.0" r="4.0"/><circle cx="341.8" cy="97.3" r="4.0"/><circle cx="291.8" cy="128.1" r="4.0"/><circle cx="305.5" cy="109.3" r="4.0"/><circle cx="90.0" cy="202.0" r="4.0"/><circle cx="127.8" cy="159.1" r="4.0"/><circle cx="221.3" cy="118.1" r="4.0"/><circle cx="192.3" cy="141.5" r="4.0"/><circle cx="182.1" cy="155.3" r="4.0"/><circle cx="207.2" cy="110.1" r="4.0"/><circle cx="326.7" cy="113.2" r="4.0"/><circle cx="106.9" cy="189.0" r="4.0"/><circle cx="271.4" cy="110.0" r="4.0"/><circle cx="306.7" cy="102.6" r="4.0"/><circle cx="96.8" cy="180.8" r="4.0"/><circle cx="120.0" cy="183.6" r="4.0"/><circle cx="278.9" cy="111.2" r="4.0"/><circle cx="252.1" cy="126.1" r="4.0"/><circle cx="273.8" cy="104.7" r="4.0"/><circle cx="220.9" cy="149.7" r="4.0"/><circle cx="170.4" cy="164.6" r="4.0"/><circle cx="293.6" cy="121.5" r="4.0"/><circle cx="252.5" cy="136.4" r="4.0"/><circle cx="102.0" cy="161.9" r="4.0"/><circle cx="250.1" cy="113.4" r="4.0"/><circle cx="224.0" cy="148.3" r="4.0"/><circle cx="136.2" cy="176.6" r="4.0"/><circle cx="216.9" cy="139.3" r="4.0"/><circle cx="289.2" cy="122.3" r="4.0"/><circle cx="327.1" cy="102.4" r="4.0"/><circle cx="275.2" cy="117.7" r="4.0"/><circle cx="228.7" cy="107.8" r="4.0"/><circle cx="161.8" cy="123.3" r="4.0"/><circle cx="163.8" cy="136.6" r="4.0"/><circle cx="145.8" cy="197.0" r="4.0"/><circle cx="268.8" cy="118.3" r="4.0"/><circle cx="297.7" cy="105.3" r="4.0"/><circle cx="89.4" cy="184.1" r="4.0"/><circle cx="322.5" cy="113.4" r="4.0"/><circle cx="108.4" cy="182.8" r="4.0"/><circle cx="252.7" cy="108.9" r="4.0"/><circle cx="134.1" cy="150.2" r="4.0"/><circle cx="163.1" cy="138.7" r="4.0"/><circle cx="263.2" cy="124.1" r="4.0"/><circle cx="304.0" cy="108.1" r="4.0"/><circle cx="100.5" cy="164.8" r="4.0"/><circle cx="265.8" cy="118.8" r="4.0"/><circle cx="253.6" cy="122.0" r="4.0"/><circle cx="155.7" cy="146.9" r="4.0"/><circle cx="172.5" cy="170.2" r="4.0"/><circle cx="98.1" cy="191.1" r="4.0"/><circle cx="241.8" cy="131.2" r="4.0"/><circle cx="279.8" cy="104.4" r="4.0"/><circle cx="111.6" cy="165.7" r="4.0"/><circle cx="183.9" cy="161.3" r="4.0"/><circle cx="147.6" cy="159.6" r="4.0"/><circle cx="94.1" cy="184.1" r="4.0"/><circle cx="200.2" cy="149.1" r="4.0"/><circle cx="112.1" cy="197.3" r="4.0"/><circle cx="121.3" cy="175.8" r="4.0"/><circle cx="278.5" cy="129.8" r="4.0"/><circle cx="127.8" cy="159.6" r="4.0"/><circle cx="115.1" cy="167.3" r="4.0"/><circle cx="200.9" cy="133.1" r="4.0"/><circle cx="293.9" cy="105.4" r="4.0"/><circle cx="288.5" cy="115.5" r="4.0"/><circle cx="86.8" cy="198.6" r="4.0"/><circle cx="258.0" cy="124.1" r="4.0"/><circle cx="169.3" cy="145.3" r="4.0"/><circle cx="196.9" cy="134.4" r="4.0"/><circle cx="143.2" cy="169.7" r="4.0"/><circle cx="267.2" cy="116.0" r="4.0"/><circle cx="291.7" cy="108.2" r="4.0"/><circle cx="243.4" cy="132.4" r="4.0"/><circle cx="198.7" cy="139.2" r="4.0"/><circle cx="104.1" cy="176.8" r="4.0"/><circle cx="120.9" cy="171.6" r="4.0"/><circle cx="168.2" cy="140.8" r="4.0"/><circle cx="194.3" cy="161.2" r="4.0"/><circle cx="291.1" cy="117.2" r="4.0"/><circle cx="272.5" cy="107.4" r="4.0"/><circle cx="190.6" cy="140.5" r="4.0"/><circle cx="265.4" cy="124.0" r="4.0"/><circle cx="128.3" cy="168.7" r="4.0"/><circle cx="181.1" cy="181.8" r="4.0"/><circle cx="84.7" cy="191.5" r="4.0"/><circle cx="234.9" cy="111.9" r="4.0"/><circle cx="210.7" cy="128.2" r="4.0"/><circle cx="259.5" cy="106.9" r="4.0"/><circle cx="87.0" cy="189.3" r="4.0"/><circle cx="138.5" cy="166.7" r="4.0"/><circle cx="91.1" cy="205.0" r="4.0"/><circle cx="117.0" cy="196.6" r="4.0"/><circle cx="141.2" cy="151.3" r="4.0"/><circle cx="213.3" cy="149.2" r="4.0"/><circle cx="129.8" cy="153.0" r="4.0"/><circle cx="146.3" cy="166.8" r="4.0"/><circle cx="167.2" cy="150.0" r="4.0"/><circle cx="246.7" cy="95.5" r="4.0"/><circle cx="206.7" cy="145.1" r="4.0"/><circle cx="121.7" cy="186.8" r="4.0"/><circle cx="151.5" cy="158.2" r="4.0"/><circle cx="281.3" cy="111.0" r="4.0"/><circle cx="131.1" cy="175.0" r="4.0"/><circle cx="147.0" cy="155.2" r="4.0"/><circle cx="284.6" cy="110.3" r="4.0"/><circle cx="162.5" cy="167.0" r="4.0"/><circle cx="319.8" cy="101.3" r="4.0"/><circle cx="284.9" cy="99.2" r="4.0"/><circle cx="309.3" cy="118.5" r="4.0"/><circle cx="106.8" cy="151.4" r="4.0"/><circle cx="174.4" cy="121.4" r="4.0"/><circle cx="249.5" cy="137.0" r="4.0"/><circle cx="278.9" cy="98.7" r="4.0"/><circle cx="269.7" cy="94.7" r="4.0"/><circle cx="203.5" cy="133.0" r="4.0"/><circle cx="164.5" cy="161.7" r="4.0"/><circle cx="294.9" cy="107.8" r="4.0"/><circle cx="120.4" cy="175.6" r="4.0"/><circle cx="166.0" cy="161.0" r="4.0"/><circle cx="155.6" cy="148.0" r="4.0"/><circle cx="162.0" cy="154.1" r="4.0"/><circle cx="208.1" cy="117.4" r="4.0"/><circle cx="118.9" cy="175.6" r="4.0"/><circle cx="264.5" cy="137.7" r="4.0"/><circle cx="268.3" cy="118.6" r="4.0"/><circle cx="153.7" cy="162.2" r="4.0"/><circle cx="227.9" cy="138.3" r="4.0"/><circle cx="153.4" cy="171.3" r="4.0"/><circle cx="92.5" cy="189.9" r="4.0"/><circle cx="155.2" cy="146.3" r="4.0"/><circle cx="249.6" cy="154.2" r="4.0"/><circle cx="196.8" cy="153.8" r="4.0"/><circle cx="210.7" cy="114.1" r="4.0"/><circle cx="217.2" cy="168.9" r="4.0"/><circle cx="174.7" cy="131.4" r="4.0"/><circle cx="229.5" cy="152.8" r="4.0"/><circle cx="273.8" cy="113.4" r="4.0"/><circle cx="274.3" cy="137.4" r="4.0"/><circle cx="81.9" cy="205.2" r="4.0"/><circle cx="138.4" cy="148.5" r="4.0"/><circle cx="251.4" cy="137.9" r="4.0"/><circle cx="95.0" cy="166.4" r="4.0"/><circle cx="344.4" cy="97.6" r="4.0"/><circle cx="215.4" cy="151.9" r="4.0"/><circle cx="107.5" cy="189.1" r="4.0"/><circle cx="146.2" cy="168.6" r="4.0"/><circle cx="269.5" cy="97.8" r="4.0"/><circle cx="132.7" cy="183.9" r="4.0"/><circle cx="103.2" cy="203.9" r="4.0"/><circle cx="164.7" cy="182.5" r="4.0"/><circle cx="272.3" cy="103.0" r="4.0"/><circle cx="210.4" cy="122.8" r="4.0"/><circle cx="242.8" cy="120.4" r="4.0"/><circle cx="237.4" cy="135.5" r="4.0"/><circle cx="178.1" cy="149.4" r="4.0"/><circle cx="121.4" cy="159.0" r="4.0"/><circle cx="188.9" cy="171.6" r="4.0"/><circle cx="182.4" cy="149.6" r="4.0"/><circle cx="144.8" cy="181.6" r="4.0"/><circle cx="234.6" cy="119.9" r="4.0"/><circle cx="116.4" cy="199.1" r="4.0"/><circle cx="287.1" cy="119.8" r="4.0"/><circle cx="138.8" cy="151.4" r="4.0"/><circle cx="260.3" cy="132.6" r="4.0"/><circle cx="195.3" cy="149.2" r="4.0"/><circle cx="80.6" cy="202.1" r="4.0"/><circle cx="271.6" cy="113.2" r="4.0"/><circle cx="192.5" cy="146.0" r="4.0"/><circle cx="130.6" cy="151.6" r="4.0"/><circle cx="302.5" cy="115.0" r="4.0"/><circle cx="226.7" cy="143.1" r="4.0"/><circle cx="344.4" cy="107.9" r="4.0"/><circle cx="199.8" cy="130.1" r="4.0"/><circle cx="86.3" cy="188.0" r="4.0"/><circle cx="106.5" cy="198.0" r="4.0"/><circle cx="113.8" cy="177.7" r="4.0"/><circle cx="299.4" cy="118.7" r="4.0"/><circle cx="147.8" cy="162.0" r="4.0"/><circle cx="91.2" cy="188.6" r="4.0"/><circle cx="102.2" cy="186.4" r="4.0"/><circle cx="108.9" cy="206.4" r="4.0"/><circle cx="289.9" cy="117.3" r="4.0"/><circle cx="234.9" cy="137.5" r="4.0"/><circle cx="248.6" cy="119.5" r="4.0"/><circle cx="82.0" cy="194.8" r="4.0"/><circle cx="162.8" cy="168.0" r="4.0"/><circle cx="145.1" cy="173.0" r="4.0"/><circle cx="95.0" cy="210.2" r="4.0"/><circle cx="122.6" cy="182.1" r="4.0"/><circle cx="92.2" cy="197.5" r="4.0"/><circle cx="215.8" cy="130.2" r="4.0"/><circle cx="237.5" cy="124.6" r="4.0"/><circle cx="277.3" cy="106.1" r="4.0"/><circle cx="264.5" cy="124.7" r="4.0"/><circle cx="335.9" cy="96.1" r="4.0"/><circle cx="208.7" cy="105.7" r="4.0"/><circle cx="187.6" cy="148.3" r="4.0"/><circle cx="332.6" cy="109.1" r="4.0"/><circle cx="174.9" cy="157.2" r="4.0"/><circle cx="166.8" cy="162.3" r="4.0"/><circle cx="210.1" cy="142.7" r="4.0"/><circle cx="117.1" cy="171.0" r="4.0"/><circle cx="225.9" cy="120.4" r="4.0"/><circle cx="219.9" cy="115.3" r="4.0"/><circle cx="150.4" cy="160.0" r="4.0"/><circle cx="149.1" cy="173.2" r="4.0"/><circle cx="144.0" cy="151.7" r="4.0"/><circle cx="198.4" cy="165.1" r="4.0"/><circle cx="142.4" cy="157.0" r="4.0"/><circle cx="138.3" cy="146.6" r="4.0"/><circle cx="170.3" cy="153.6" r="4.0"/><circle cx="250.5" cy="155.8" r="4.0"/><circle cx="272.6" cy="103.8" r="4.0"/><circle cx="124.5" cy="162.2" r="4.0"/><circle cx="177.7" cy="146.6" r="4.0"/><circle cx="226.0" cy="104.4" r="4.0"/><circle cx="156.6" cy="173.9" r="4.0"/><circle cx="126.6" cy="146.9" r="4.0"/><circle cx="235.0" cy="134.6" r="4.0"/><circle cx="100.1" cy="198.7" r="4.0"/><circle cx="285.0" cy="97.1" r="4.0"/><circle cx="214.3" cy="158.7" r="4.0"/><circle cx="106.5" cy="204.8" r="4.0"/><circle cx="187.9" cy="160.9" r="4.0"/><circle cx="101.3" cy="178.9" r="4.0"/><circle cx="229.1" cy="132.9" r="4.0"/><circle cx="230.9" cy="135.9" r="4.0"/><circle cx="281.8" cy="109.2" r="4.0"/><circle cx="282.4" cy="137.4" r="4.0"/><circle cx="206.5" cy="127.8" r="4.0"/><circle cx="262.0" cy="112.5" r="4.0"/><circle cx="138.8" cy="179.8" r="4.0"/><circle cx="244.6" cy="145.3" r="4.0"/><circle cx="235.8" cy="107.8" r="4.0"/><circle cx="166.5" cy="181.7" r="4.0"/><circle cx="104.5" cy="190.7" r="4.0"/><circle cx="292.1" cy="107.1" r="4.0"/><circle cx="314.1" cy="112.1" r="4.0"/><circle cx="261.4" cy="103.0" r="4.0"/><circle cx="174.6" cy="164.5" r="4.0"/><circle cx="223.4" cy="136.6" r="4.0"/><circle cx="221.0" cy="159.6" r="4.0"/><circle cx="189.8" cy="177.6" r="4.0"/><circle cx="256.7" cy="117.4" r="4.0"/><circle cx="113.7" cy="166.0" r="4.0"/><circle cx="191.5" cy="154.5" r="4.0"/><circle cx="286.8" cy="136.3" r="4.0"/><circle cx="117.9" cy="181.5" r="4.0"/><circle cx="296.4" cy="88.3" r="4.0"/><circle cx="188.5" cy="159.9" r="4.0"/><circle cx="331.9" cy="102.9" r="4.0"/><circle cx="130.0" cy="193.6" r="4.0"/><circle cx="79.8" cy="198.4" r="4.0"/><circle cx="173.9" cy="163.5" r="4.0"/><circle cx="148.2" cy="153.0" r="4.0"/><circle cx="108.5" cy="178.3" r="4.0"/><circle cx="277.9" cy="133.7" r="4.0"/><circle cx="92.1" cy="190.8" r="4.0"/><circle cx="207.5" cy="141.0" r="4.0"/><circle cx="101.2" cy="197.0" r="4.0"/><circle cx="270.2" cy="100.0" r="4.0"/><circle cx="294.4" cy="125.7" r="4.0"/><circle cx="261.7" cy="144.2" r="4.0"/><circle cx="269.0" cy="122.2" r="4.0"/><circle cx="113.9" cy="181.7" r="4.0"/><circle cx="118.3" cy="180.3" r="4.0"/><circle cx="181.4" cy="167.5" r="4.0"/><circle cx="282.7" cy="114.0" r="4.0"/><circle cx="339.6" cy="96.5" r="4.0"/><circle cx="79.4" cy="195.0" r="4.0"/><circle cx="103.9" cy="171.5" r="4.0"/><circle cx="127.1" cy="148.1" r="4.0"/><circle cx="202.5" cy="160.4" r="4.0"/><circle cx="285.9" cy="98.8" r="4.0"/><circle cx="307.6" cy="90.6" r="4.0"/><circle cx="160.8" cy="169.3" r="4.0"/><circle cx="227.1" cy="130.5" r="4.0"/><circle cx="106.3" cy="158.5" r="4.0"/><circle cx="108.1" cy="194.4" r="4.0"/><circle cx="297.7" cy="110.3" r="4.0"/><circle cx="218.7" cy="146.3" r="4.0"/><circle cx="217.4" cy="145.9" r="4.0"/><circle cx="108.3" cy="161.3" r="4.0"/><circle cx="249.6" cy="127.5" r="4.0"/><circle cx="191.2" cy="161.4" r="4.0"/><circle cx="133.3" cy="163.1" r="4.0"/><circle cx="93.0" cy="194.9" r="4.0"/><circle cx="259.5" cy="156.2" r="4.0"/><circle cx="251.1" cy="141.1" r="4.0"/><circle cx="168.5" cy="138.0" r="4.0"/><circle cx="126.5" cy="178.7" r="4.0"/><circle cx="237.0" cy="117.7" r="4.0"/><circle cx="190.9" cy="135.8" r="4.0"/><circle cx="99.5" cy="181.7" r="4.0"/><circle cx="241.0" cy="150.3" r="4.0"/><circle cx="252.5" cy="127.8" r="4.0"/><circle cx="109.6" cy="188.0" r="4.0"/><circle cx="273.0" cy="48.8" r="4.0"/><circle cx="283.1" cy="55.7" r="4.0"/><circle cx="274.6" cy="61.9" r="4.0"/><circle cx="263.8" cy="64.9" r="4.0"/><circle cx="293.7" cy="69.5" r="4.0"/><circle cx="308.5" cy="69.5" r="4.0"/><circle cx="281.5" cy="74.6" r="4.0"/><circle cx="296.5" cy="73.4" r="4.0"/><circle cx="307.5" cy="79.6" r="4.0"/><circle cx="346.7" cy="74.6" r="4.0"/><circle cx="336.8" cy="88.4" r="4.0"/><circle cx="361.5" cy="80.6" r="4.0"/><circle cx="364.7" cy="89.8" r="4.0"/><circle cx="368.7" cy="93.1" r="4.0"/><circle cx="355.8" cy="97.1" r="4.0"/><circle cx="352.6" cy="101.9" r="4.0"/><circle cx="346.1" cy="97.1" r="4.0"/><circle cx="346.1" cy="108.4" r="4.0"/><circle cx="343.7" cy="87.4" r="4.0"/><circle cx="341.3" cy="113.2" r="4.0"/><circle cx="333.2" cy="113.2" r="4.0"/><circle cx="199.2" cy="190.7" r="4.0"/><circle cx="180.0" cy="106.0" r="4.0"/><circle cx="186.0" cy="101.0" r="4.0"/><circle cx="192.0" cy="104.0" r="4.0"/><circle cx="198.0" cy="97.0" r="4.0"/><circle cx="205.0" cy="97.0" r="4.0"/><circle cx="211.0" cy="97.0" r="4.0"/><circle cx="220.0" cy="96.0" r="4.0"/><circle cx="226.0" cy="90.0" r="4.0"/><circle cx="183.0" cy="104.0" r="4.0"/><circle cx="195.0" cy="100.0" r="4.0"/><circle cx="202.0" cy="95.0" r="4.0"/><circle cx="208.0" cy="99.0" r="4.0"/><circle cx="216.0" cy="94.0" r="4.0"/><circle cx="174.0" cy="110.0" r="4.0"/></g><line x1="76.8" y1="196.9" x2="368.7" y2="81.4" stroke="#B0B0B0" stroke-width="2.3"/></g><rect x="60.6" y="7.8" width="367.6" height="217.9" fill="none" stroke="#000" stroke-width="2"/><path d="M55.5 216.6H60M76.8 226.7V230.6M55.5 166.7H60M160.6 226.7V230.6M55.5 116.8H60M244.3 226.7V230.6M55.5 66.8H60M328.1 226.7V230.6M55.5 16.9H60M411.8 226.7V230.6" stroke="#000" stroke-width="2" fill="none"/><text x="47.6" y="222.7" font-size="18.5" text-anchor="end">0.0</text><text x="74.6" y="246.2" font-size="19" text-anchor="middle">0.0</text><text x="47.6" y="172.8" font-size="18.5" text-anchor="end">0.1</text><text x="158.4" y="246.2" font-size="19" text-anchor="middle">0.1</text><text x="47.6" y="122.9" font-size="18.5" text-anchor="end">0.2</text><text x="242.1" y="246.2" font-size="19" text-anchor="middle">0.2</text><text x="47.6" y="72.9" font-size="18.5" text-anchor="end">0.3</text><text x="325.9" y="246.2" font-size="19" text-anchor="middle">0.3</text><text x="47.6" y="23.0" font-size="18.5" text-anchor="end">0.4</text><text x="409.6" y="246.2" font-size="19" text-anchor="middle">0.4</text><text x="244" y="265.5" font-size="21.4" font-weight="bold" text-anchor="middle">AMSR2 SM (m<tspan font-size="13.5" dy="-5.6">3</tspan><tspan dy="5.6">/m</tspan><tspan font-size="13.5" dy="-5.6">3</tspan><tspan dy="5.6">)</tspan></text><text transform="translate(19.6 116) rotate(-90)" font-size="21.4" font-weight="bold" text-anchor="middle">Retrieved SM (m<tspan font-size="13.5" dy="-5.6">3</tspan><tspan dy="5.6">/m</tspan><tspan font-size="13.5" dy="-5.6">3</tspan><tspan dy="5.6">)</tspan></text><text x="67.7" y="27.8" font-size="21" font-weight="bold">(<tspan font-size="17.5" dx="0.5">a</tspan><tspan dx="0.6">)</tspan></text><text x="68.3" y="57.3" font-size="17.8">MAE=0.030 <tspan dx="-1.8">m³/m³</tspan></text><text x="68.3" y="78.0" font-size="17.8">RMSE=0.037 <tspan dx="-1.8">m³/m³</tspan></text><text x="68.3" y="98.7" font-size="17.8">SD=0.021 <tspan dx="-1.8">m³/m³</tspan></text><text x="268.1" y="178.8" font-size="17.2" font-style="italic">y</text><text x="279.6" y="179.1" font-size="19.3">=</text><text x="294" y="178.8" font-size="17.2">0.0394</text><text x="344.9" y="181.2" font-size="19.3">+</text><text x="358.8" y="178.8" font-size="17.2">0.664</text><text x="402" y="178.8" font-size="18.5" font-style="italic">x</text><text x="342.8" y="204.4" font-size="17.2" font-style="italic">R</text><text x="355.2" y="197.1" font-size="11">2</text><text x="364.8" y="204.9" font-size="19.3">=</text><text x="379.2" y="204.4" font-size="17.2" letter-spacing="0.2">0.71</text><g clip-path="url(#cb)"><g fill="#FFB6C1" fill-opacity="0.5"><circle cx="256.5" cy="388.4" r="5.5"/><circle cx="312.1" cy="367.2" r="5.5"/><circle cx="219.3" cy="412.5" r="5.5"/><circle cx="189.9" cy="441.4" r="5.5"/><circle cx="172.9" cy="437.8" r="5.5"/><circle cx="300.4" cy="372.9" r="5.5"/><circle cx="310.8" cy="367.0" r="5.5"/><circle cx="214.3" cy="413.0" r="5.5"/><circle cx="343.8" cy="359.1" r="5.5"/><circle cx="309.4" cy="384.2" r="5.5"/><circle cx="179.7" cy="436.5" r="5.5"/><circle cx="168.8" cy="439.0" r="5.5"/><circle cx="206.1" cy="424.6" r="5.5"/><circle cx="323.2" cy="360.3" r="5.5"/><circle cx="228.9" cy="412.6" r="5.5"/><circle cx="157.6" cy="440.2" r="5.5"/><circle cx="181.4" cy="438.0" r="5.5"/><circle cx="298.1" cy="383.6" r="5.5"/><circle cx="204.8" cy="434.2" r="5.5"/><circle cx="196.5" cy="430.8" r="5.5"/><circle cx="290.7" cy="369.7" r="5.5"/><circle cx="346.5" cy="361.6" r="5.5"/><circle cx="251.0" cy="399.6" r="5.5"/><circle cx="326.5" cy="359.2" r="5.5"/><circle cx="327.5" cy="363.7" r="5.5"/><circle cx="176.6" cy="436.0" r="5.5"/><circle cx="220.4" cy="431.3" r="5.5"/><circle cx="285.9" cy="393.8" r="5.5"/><circle cx="160.6" cy="443.8" r="5.5"/><circle cx="197.4" cy="439.6" r="5.5"/><circle cx="178.3" cy="428.3" r="5.5"/><circle cx="278.2" cy="391.3" r="5.5"/><circle cx="222.9" cy="409.2" r="5.5"/><circle cx="314.9" cy="365.3" r="5.5"/><circle cx="269.1" cy="392.7" r="5.5"/><circle cx="196.1" cy="418.4" r="5.5"/><circle cx="151.1" cy="447.7" r="5.5"/><circle cx="204.5" cy="428.9" r="5.5"/><circle cx="179.1" cy="422.7" r="5.5"/><circle cx="226.1" cy="424.0" r="5.5"/><circle cx="288.7" cy="371.1" r="5.5"/><circle cx="222.0" cy="420.6" r="5.5"/><circle cx="190.3" cy="418.8" r="5.5"/><circle cx="244.7" cy="401.4" r="5.5"/><circle cx="225.5" cy="427.7" r="5.5"/><circle cx="265.1" cy="380.5" r="5.5"/><circle cx="205.2" cy="429.9" r="5.5"/><circle cx="233.6" cy="405.9" r="5.5"/><circle cx="248.3" cy="408.7" r="5.5"/><circle cx="189.2" cy="437.4" r="5.5"/><circle cx="292.3" cy="381.3" r="5.5"/><circle cx="214.5" cy="436.7" r="5.5"/><circle cx="225.6" cy="424.3" r="5.5"/><circle cx="174.4" cy="436.9" r="5.5"/><circle cx="211.6" cy="430.1" r="5.5"/><circle cx="337.4" cy="358.2" r="5.5"/><circle cx="160.4" cy="440.7" r="5.5"/><circle cx="278.1" cy="384.7" r="5.5"/><circle cx="187.8" cy="416.3" r="5.5"/><circle cx="253.6" cy="403.4" r="5.5"/><circle cx="202.6" cy="422.0" r="5.5"/><circle cx="246.0" cy="394.2" r="5.5"/><circle cx="167.7" cy="445.9" r="5.5"/><circle cx="300.9" cy="365.9" r="5.5"/><circle cx="171.6" cy="425.0" r="5.5"/><circle cx="173.9" cy="441.1" r="5.5"/><circle cx="264.7" cy="400.1" r="5.5"/><circle cx="265.1" cy="394.5" r="5.5"/><circle cx="176.8" cy="424.5" r="5.5"/><circle cx="170.5" cy="435.1" r="5.5"/><circle cx="211.1" cy="421.6" r="5.5"/><circle cx="208.7" cy="413.6" r="5.5"/><circle cx="315.3" cy="384.6" r="5.5"/><circle cx="221.0" cy="419.8" r="5.5"/><circle cx="167.1" cy="437.4" r="5.5"/><circle cx="350.5" cy="354.7" r="5.5"/><circle cx="275.1" cy="398.8" r="5.5"/><circle cx="278.2" cy="387.2" r="5.5"/><circle cx="188.5" cy="432.5" r="5.5"/><circle cx="280.7" cy="391.0" r="5.5"/><circle cx="221.4" cy="414.4" r="5.5"/><circle cx="259.8" cy="386.4" r="5.5"/><circle cx="161.0" cy="439.6" r="5.5"/><circle cx="228.8" cy="403.0" r="5.5"/><circle cx="292.7" cy="375.8" r="5.5"/><circle cx="156.8" cy="447.7" r="5.5"/><circle cx="257.5" cy="386.1" r="5.5"/><circle cx="288.1" cy="380.5" r="5.5"/><circle cx="339.6" cy="363.5" r="5.5"/><circle cx="240.2" cy="399.3" r="5.5"/><circle cx="204.1" cy="428.9" r="5.5"/><circle cx="208.5" cy="432.5" r="5.5"/><circle cx="336.9" cy="363.7" r="5.5"/><circle cx="310.3" cy="382.6" r="5.5"/><circle cx="239.9" cy="418.6" r="5.5"/><circle cx="207.2" cy="428.6" r="5.5"/><circle cx="303.3" cy="380.0" r="5.5"/><circle cx="188.7" cy="422.6" r="5.5"/><circle cx="207.5" cy="413.8" r="5.5"/><circle cx="313.4" cy="373.1" r="5.5"/><circle cx="325.0" cy="356.1" r="5.5"/><circle cx="248.9" cy="409.2" r="5.5"/><circle cx="170.9" cy="447.2" r="5.5"/><circle cx="306.5" cy="371.4" r="5.5"/><circle cx="187.1" cy="421.5" r="5.5"/><circle cx="223.7" cy="428.5" r="5.5"/><circle cx="199.9" cy="419.0" r="5.5"/><circle cx="241.6" cy="396.6" r="5.5"/><circle cx="258.1" cy="389.3" r="5.5"/><circle cx="295.3" cy="379.2" r="5.5"/><circle cx="275.1" cy="394.1" r="5.5"/><circle cx="151.3" cy="440.2" r="5.5"/><circle cx="197.3" cy="439.0" r="5.5"/><circle cx="172.1" cy="428.0" r="5.5"/><circle cx="162.1" cy="438.0" r="5.5"/><circle cx="203.0" cy="435.7" r="5.5"/><circle cx="303.2" cy="365.8" r="5.5"/><circle cx="169.6" cy="437.6" r="5.5"/><circle cx="252.6" cy="395.5" r="5.5"/><circle cx="236.3" cy="400.9" r="5.5"/><circle cx="219.3" cy="417.0" r="5.5"/><circle cx="189.4" cy="414.4" r="5.5"/><circle cx="154.1" cy="446.6" r="5.5"/><circle cx="208.0" cy="410.4" r="5.5"/><circle cx="199.9" cy="409.0" r="5.5"/><circle cx="202.1" cy="431.3" r="5.5"/><circle cx="190.5" cy="419.3" r="5.5"/><circle cx="312.8" cy="362.7" r="5.5"/><circle cx="158.6" cy="430.7" r="5.5"/><circle cx="224.0" cy="412.2" r="5.5"/><circle cx="295.0" cy="376.5" r="5.5"/><circle cx="331.7" cy="370.6" r="5.5"/><circle cx="203.4" cy="425.1" r="5.5"/><circle cx="271.1" cy="394.1" r="5.5"/><circle cx="237.8" cy="398.9" r="5.5"/><circle cx="203.4" cy="426.1" r="5.5"/><circle cx="357.9" cy="346.0" r="5.5"/><circle cx="317.3" cy="366.7" r="5.5"/><circle cx="186.8" cy="415.9" r="5.5"/><circle cx="191.3" cy="438.9" r="5.5"/><circle cx="160.7" cy="434.3" r="5.5"/><circle cx="160.2" cy="445.0" r="5.5"/><circle cx="218.5" cy="426.1" r="5.5"/><circle cx="224.3" cy="426.8" r="5.5"/><circle cx="215.9" cy="412.5" r="5.5"/><circle cx="223.5" cy="416.2" r="5.5"/><circle cx="267.2" cy="386.2" r="5.5"/><circle cx="290.0" cy="393.2" r="5.5"/><circle cx="298.4" cy="376.7" r="5.5"/><circle cx="220.7" cy="407.9" r="5.5"/><circle cx="154.7" cy="435.2" r="5.5"/><circle cx="201.7" cy="440.3" r="5.5"/><circle cx="314.9" cy="372.8" r="5.5"/><circle cx="192.4" cy="444.9" r="5.5"/><circle cx="201.2" cy="414.5" r="5.5"/><circle cx="266.6" cy="398.5" r="5.5"/><circle cx="155.1" cy="445.2" r="5.5"/><circle cx="306.2" cy="372.9" r="5.5"/><circle cx="309.4" cy="360.7" r="5.5"/><circle cx="284.0" cy="384.6" r="5.5"/><circle cx="224.1" cy="428.4" r="5.5"/><circle cx="202.1" cy="423.6" r="5.5"/><circle cx="208.3" cy="414.3" r="5.5"/><circle cx="310.5" cy="371.4" r="5.5"/><circle cx="273.8" cy="399.9" r="5.5"/><circle cx="206.5" cy="418.2" r="5.5"/><circle cx="301.5" cy="376.7" r="5.5"/><circle cx="283.9" cy="381.5" r="5.5"/><circle cx="288.9" cy="388.8" r="5.5"/><circle cx="165.5" cy="443.5" r="5.5"/><circle cx="206.4" cy="410.9" r="5.5"/><circle cx="173.1" cy="425.4" r="5.5"/><circle cx="317.7" cy="369.9" r="5.5"/><circle cx="159.4" cy="436.7" r="5.5"/><circle cx="168.3" cy="433.4" r="5.5"/><circle cx="178.8" cy="419.6" r="5.5"/><circle cx="218.5" cy="416.4" r="5.5"/><circle cx="307.4" cy="369.3" r="5.5"/><circle cx="291.7" cy="384.6" r="5.5"/><circle cx="206.3" cy="426.6" r="5.5"/><circle cx="272.3" cy="396.7" r="5.5"/><circle cx="237.1" cy="410.2" r="5.5"/><circle cx="303.5" cy="383.7" r="5.5"/><circle cx="177.3" cy="436.2" r="5.5"/><circle cx="205.8" cy="409.2" r="5.5"/><circle cx="222.3" cy="429.3" r="5.5"/><circle cx="167.0" cy="445.3" r="5.5"/><circle cx="199.3" cy="433.8" r="5.5"/><circle cx="191.4" cy="433.6" r="5.5"/><circle cx="247.4" cy="405.8" r="5.5"/><circle cx="175.4" cy="442.3" r="5.5"/><circle cx="208.0" cy="422.0" r="5.5"/><circle cx="181.1" cy="419.9" r="5.5"/><circle cx="223.6" cy="421.2" r="5.5"/><circle cx="206.0" cy="427.3" r="5.5"/><circle cx="204.8" cy="423.5" r="5.5"/><circle cx="203.1" cy="423.3" r="5.5"/><circle cx="192.1" cy="424.9" r="5.5"/><circle cx="198.1" cy="428.6" r="5.5"/><circle cx="208.4" cy="435.9" r="5.5"/><circle cx="168.1" cy="433.8" r="5.5"/><circle cx="221.2" cy="412.3" r="5.5"/><circle cx="258.9" cy="394.3" r="5.5"/><circle cx="194.8" cy="430.3" r="5.5"/><circle cx="239.0" cy="417.6" r="5.5"/><circle cx="170.9" cy="437.3" r="5.5"/><circle cx="182.3" cy="420.6" r="5.5"/><circle cx="304.3" cy="362.2" r="5.5"/><circle cx="189.3" cy="424.9" r="5.5"/><circle cx="172.1" cy="435.8" r="5.5"/><circle cx="283.5" cy="384.7" r="5.5"/><circle cx="197.0" cy="425.5" r="5.5"/><circle cx="305.5" cy="379.7" r="5.5"/><circle cx="150.7" cy="440.1" r="5.5"/><circle cx="330.7" cy="355.1" r="5.5"/><circle cx="174.8" cy="433.5" r="5.5"/><circle cx="213.1" cy="415.3" r="5.5"/><circle cx="216.4" cy="427.7" r="5.5"/><circle cx="209.0" cy="418.2" r="5.5"/><circle cx="304.2" cy="377.7" r="5.5"/><circle cx="205.2" cy="426.3" r="5.5"/><circle cx="251.6" cy="398.8" r="5.5"/><circle cx="272.4" cy="380.0" r="5.5"/><circle cx="189.3" cy="436.0" r="5.5"/><circle cx="306.4" cy="388.2" r="5.5"/><circle cx="312.9" cy="358.4" r="5.5"/><circle cx="325.2" cy="363.0" r="5.5"/><circle cx="330.7" cy="360.6" r="5.5"/><circle cx="198.2" cy="412.8" r="5.5"/><circle cx="167.7" cy="433.1" r="5.5"/><circle cx="199.9" cy="440.7" r="5.5"/><circle cx="268.9" cy="392.8" r="5.5"/><circle cx="322.6" cy="358.9" r="5.5"/><circle cx="227.8" cy="404.8" r="5.5"/><circle cx="186.5" cy="427.7" r="5.5"/><circle cx="174.6" cy="427.5" r="5.5"/><circle cx="223.8" cy="409.3" r="5.5"/><circle cx="198.6" cy="419.7" r="5.5"/><circle cx="192.7" cy="424.5" r="5.5"/><circle cx="168.9" cy="438.2" r="5.5"/><circle cx="293.4" cy="370.2" r="5.5"/><circle cx="242.5" cy="400.1" r="5.5"/><circle cx="309.4" cy="358.2" r="5.5"/><circle cx="243.9" cy="411.9" r="5.5"/><circle cx="288.7" cy="380.2" r="5.5"/><circle cx="182.4" cy="446.6" r="5.5"/><circle cx="336.0" cy="363.2" r="5.5"/><circle cx="259.7" cy="398.7" r="5.5"/><circle cx="210.4" cy="411.0" r="5.5"/><circle cx="232.5" cy="423.1" r="5.5"/><circle cx="215.3" cy="433.3" r="5.5"/><circle cx="331.1" cy="356.7" r="5.5"/><circle cx="344.2" cy="352.0" r="5.5"/><circle cx="222.5" cy="409.0" r="5.5"/><circle cx="278.3" cy="384.0" r="5.5"/><circle cx="260.8" cy="390.4" r="5.5"/><circle cx="320.7" cy="357.7" r="5.5"/><circle cx="220.8" cy="416.6" r="5.5"/><circle cx="285.0" cy="384.2" r="5.5"/><circle cx="202.1" cy="424.7" r="5.5"/><circle cx="172.6" cy="424.8" r="5.5"/><circle cx="241.3" cy="396.5" r="5.5"/><circle cx="240.7" cy="413.7" r="5.5"/><circle cx="234.0" cy="407.9" r="5.5"/><circle cx="334.3" cy="359.0" r="5.5"/><circle cx="207.9" cy="413.5" r="5.5"/><circle cx="217.3" cy="417.1" r="5.5"/><circle cx="208.5" cy="423.0" r="5.5"/><circle cx="208.4" cy="424.2" r="5.5"/><circle cx="282.4" cy="375.5" r="5.5"/><circle cx="320.6" cy="369.5" r="5.5"/><circle cx="210.8" cy="432.3" r="5.5"/><circle cx="205.1" cy="432.0" r="5.5"/><circle cx="231.5" cy="402.5" r="5.5"/><circle cx="223.4" cy="427.5" r="5.5"/><circle cx="198.6" cy="431.6" r="5.5"/><circle cx="314.3" cy="358.7" r="5.5"/><circle cx="305.6" cy="362.9" r="5.5"/><circle cx="235.7" cy="393.9" r="5.5"/><circle cx="184.2" cy="422.0" r="5.5"/><circle cx="249.0" cy="401.4" r="5.5"/><circle cx="221.8" cy="418.8" r="5.5"/><circle cx="195.1" cy="412.2" r="5.5"/><circle cx="285.8" cy="384.9" r="5.5"/><circle cx="285.0" cy="378.3" r="5.5"/><circle cx="243.1" cy="409.4" r="5.5"/><circle cx="314.8" cy="370.5" r="5.5"/><circle cx="317.5" cy="379.8" r="5.5"/><circle cx="160.0" cy="434.5" r="5.5"/><circle cx="232.4" cy="409.0" r="5.5"/><circle cx="232.9" cy="401.0" r="5.5"/><circle cx="326.1" cy="362.8" r="5.5"/><circle cx="210.2" cy="417.2" r="5.5"/><circle cx="300.1" cy="390.3" r="5.5"/><circle cx="298.1" cy="374.8" r="5.5"/><circle cx="261.8" cy="382.7" r="5.5"/><circle cx="295.1" cy="379.6" r="5.5"/><circle cx="240.9" cy="389.7" r="5.5"/><circle cx="211.1" cy="433.0" r="5.5"/><circle cx="198.2" cy="433.5" r="5.5"/><circle cx="241.9" cy="415.0" r="5.5"/><circle cx="218.3" cy="410.6" r="5.5"/><circle cx="254.8" cy="395.8" r="5.5"/><circle cx="168.8" cy="431.2" r="5.5"/><circle cx="300.8" cy="384.7" r="5.5"/><circle cx="298.1" cy="371.9" r="5.5"/><circle cx="161.1" cy="432.0" r="5.5"/><circle cx="280.0" cy="398.0" r="5.5"/><circle cx="313.9" cy="370.5" r="5.5"/><circle cx="227.7" cy="402.8" r="5.5"/><circle cx="207.4" cy="422.3" r="5.5"/><circle cx="291.8" cy="380.5" r="5.5"/><circle cx="258.7" cy="399.8" r="5.5"/><circle cx="196.8" cy="412.3" r="5.5"/><circle cx="223.1" cy="411.9" r="5.5"/><circle cx="286.8" cy="394.0" r="5.5"/><circle cx="210.7" cy="414.0" r="5.5"/><circle cx="270.5" cy="384.9" r="5.5"/><circle cx="220.6" cy="423.8" r="5.5"/><circle cx="276.7" cy="386.4" r="5.5"/><circle cx="298.2" cy="372.4" r="5.5"/><circle cx="196.2" cy="418.6" r="5.5"/><circle cx="330.6" cy="368.4" r="5.5"/><circle cx="214.6" cy="424.1" r="5.5"/><circle cx="178.0" cy="433.9" r="5.5"/><circle cx="280.8" cy="385.7" r="5.5"/><circle cx="238.6" cy="394.8" r="5.5"/><circle cx="314.0" cy="358.8" r="5.5"/><circle cx="325.9" cy="376.2" r="5.5"/><circle cx="326.9" cy="358.4" r="5.5"/><circle cx="281.7" cy="385.1" r="5.5"/><circle cx="243.4" cy="387.9" r="5.5"/><circle cx="329.1" cy="374.3" r="5.5"/><circle cx="193.6" cy="431.4" r="5.5"/><circle cx="334.9" cy="364.2" r="5.5"/><circle cx="327.6" cy="374.2" r="5.5"/><circle cx="160.0" cy="448.4" r="5.5"/><circle cx="238.0" cy="392.1" r="5.5"/><circle cx="272.3" cy="393.2" r="5.5"/><circle cx="180.8" cy="443.1" r="5.5"/><circle cx="187.4" cy="430.5" r="5.5"/><circle cx="291.1" cy="375.8" r="5.5"/><circle cx="174.4" cy="448.6" r="5.5"/><circle cx="271.2" cy="394.6" r="5.5"/><circle cx="283.6" cy="395.9" r="5.5"/><circle cx="163.9" cy="442.0" r="5.5"/><circle cx="244.0" cy="398.6" r="5.5"/><circle cx="168.4" cy="430.0" r="5.5"/><circle cx="197.5" cy="431.2" r="5.5"/><circle cx="159.5" cy="440.8" r="5.5"/><circle cx="305.3" cy="375.6" r="5.5"/><circle cx="204.7" cy="416.0" r="5.5"/><circle cx="359.2" cy="345.8" r="5.5"/><circle cx="209.2" cy="425.4" r="5.5"/><circle cx="241.1" cy="409.6" r="5.5"/><circle cx="238.1" cy="412.8" r="5.5"/><circle cx="290.4" cy="387.5" r="5.5"/><circle cx="214.7" cy="414.8" r="5.5"/><circle cx="180.6" cy="437.8" r="5.5"/><circle cx="215.1" cy="436.1" r="5.5"/><circle cx="212.3" cy="424.1" r="5.5"/><circle cx="225.5" cy="402.9" r="5.5"/><circle cx="236.0" cy="420.6" r="5.5"/><circle cx="235.9" cy="397.0" r="5.5"/><circle cx="319.5" cy="366.1" r="5.5"/><circle cx="293.2" cy="372.4" r="5.5"/><circle cx="160.2" cy="431.1" r="5.5"/><circle cx="250.2" cy="397.8" r="5.5"/><circle cx="183.8" cy="423.9" r="5.5"/><circle cx="168.3" cy="440.6" r="5.5"/><circle cx="306.1" cy="367.0" r="5.5"/><circle cx="187.5" cy="426.8" r="5.5"/><circle cx="190.0" cy="417.8" r="5.5"/><circle cx="198.3" cy="412.5" r="5.5"/><circle cx="312.8" cy="369.1" r="5.5"/><circle cx="205.9" cy="433.8" r="5.5"/><circle cx="175.0" cy="437.7" r="5.5"/><circle cx="237.0" cy="415.7" r="5.5"/><circle cx="325.9" cy="371.6" r="5.5"/><circle cx="185.5" cy="442.7" r="5.5"/><circle cx="197.5" cy="427.2" r="5.5"/><circle cx="300.6" cy="375.2" r="5.5"/><circle cx="268.6" cy="399.5" r="5.5"/><circle cx="233.2" cy="423.5" r="5.5"/><circle cx="338.6" cy="358.3" r="5.5"/><circle cx="245.6" cy="410.8" r="5.5"/><circle cx="169.0" cy="440.6" r="5.5"/><circle cx="239.9" cy="387.8" r="5.5"/><circle cx="328.6" cy="373.8" r="5.5"/><circle cx="195.8" cy="418.6" r="5.5"/><circle cx="213.2" cy="427.5" r="5.5"/><circle cx="300.4" cy="364.2" r="5.5"/><circle cx="187.6" cy="444.5" r="5.5"/><circle cx="352.9" cy="346.5" r="5.5"/><circle cx="329.2" cy="371.5" r="5.5"/><circle cx="288.9" cy="391.2" r="5.5"/><circle cx="309.3" cy="375.7" r="5.5"/><circle cx="200.7" cy="410.2" r="5.5"/><circle cx="195.7" cy="423.3" r="5.5"/><circle cx="294.2" cy="368.3" r="5.5"/><circle cx="194.8" cy="418.5" r="5.5"/><circle cx="176.0" cy="425.4" r="5.5"/><circle cx="182.2" cy="423.5" r="5.5"/><circle cx="191.3" cy="429.4" r="5.5"/><circle cx="316.5" cy="365.5" r="5.5"/><circle cx="209.1" cy="419.5" r="5.5"/><circle cx="305.6" cy="373.9" r="5.5"/><circle cx="162.6" cy="448.7" r="5.5"/><circle cx="292.2" cy="384.6" r="5.5"/><circle cx="217.6" cy="434.6" r="5.5"/><circle cx="229.1" cy="412.1" r="5.5"/><circle cx="190.2" cy="436.5" r="5.5"/><circle cx="281.2" cy="381.4" r="5.5"/><circle cx="327.3" cy="371.8" r="5.5"/><circle cx="284.8" cy="381.2" r="5.5"/><circle cx="208.4" cy="411.8" r="5.5"/><circle cx="306.5" cy="373.4" r="5.5"/><circle cx="188.0" cy="436.5" r="5.5"/><circle cx="217.4" cy="416.9" r="5.5"/><circle cx="227.1" cy="416.6" r="5.5"/><circle cx="189.6" cy="421.6" r="5.5"/><circle cx="165.5" cy="435.0" r="5.5"/><circle cx="303.5" cy="381.1" r="5.5"/><circle cx="252.5" cy="395.0" r="5.5"/><circle cx="289.9" cy="371.1" r="5.5"/><circle cx="210.9" cy="420.7" r="5.5"/><circle cx="352.9" cy="354.6" r="5.5"/><circle cx="298.1" cy="384.1" r="5.5"/><circle cx="155.1" cy="443.8" r="5.5"/><circle cx="207.9" cy="424.6" r="5.5"/><circle cx="323.1" cy="366.5" r="5.5"/><circle cx="163.1" cy="434.7" r="5.5"/><circle cx="313.3" cy="378.9" r="5.5"/><circle cx="314.8" cy="366.3" r="5.5"/><circle cx="273.5" cy="378.4" r="5.5"/><circle cx="247.7" cy="389.5" r="5.5"/><circle cx="156.4" cy="435.9" r="5.5"/><circle cx="293.5" cy="380.9" r="5.5"/><circle cx="155.9" cy="448.0" r="5.5"/><circle cx="287.6" cy="376.3" r="5.5"/><circle cx="270.6" cy="393.8" r="5.5"/><circle cx="276.1" cy="396.9" r="5.5"/><circle cx="232.4" cy="415.6" r="5.5"/><circle cx="190.7" cy="420.9" r="5.5"/><circle cx="249.1" cy="408.2" r="5.5"/><circle cx="228.3" cy="410.9" r="5.5"/><circle cx="183.7" cy="444.0" r="5.5"/><circle cx="265.9" cy="378.7" r="5.5"/><circle cx="171.1" cy="427.9" r="5.5"/><circle cx="205.8" cy="438.0" r="5.5"/><circle cx="298.3" cy="391.3" r="5.5"/><circle cx="335.7" cy="367.7" r="5.5"/><circle cx="161.3" cy="449.7" r="5.5"/><circle cx="331.3" cy="355.7" r="5.5"/><circle cx="170.1" cy="438.2" r="5.5"/><circle cx="260.6" cy="396.7" r="5.5"/><circle cx="331.9" cy="370.6" r="5.5"/><circle cx="187.6" cy="425.3" r="5.5"/><circle cx="173.8" cy="432.9" r="5.5"/><circle cx="315.7" cy="365.3" r="5.5"/><circle cx="179.0" cy="438.2" r="5.5"/><circle cx="298.0" cy="370.7" r="5.5"/><circle cx="302.2" cy="376.4" r="5.5"/><circle cx="274.5" cy="399.4" r="5.5"/><circle cx="151.1" cy="444.0" r="5.5"/><circle cx="207.8" cy="418.9" r="5.5"/><circle cx="220.3" cy="408.0" r="5.5"/><circle cx="258.0" cy="393.0" r="5.5"/><circle cx="257.4" cy="388.2" r="5.5"/><circle cx="234.5" cy="414.2" r="5.5"/><circle cx="167.9" cy="436.9" r="5.5"/><circle cx="186.9" cy="447.0" r="5.5"/><circle cx="317.4" cy="358.2" r="5.5"/><circle cx="163.6" cy="444.6" r="5.5"/><circle cx="231.1" cy="411.9" r="5.5"/><circle cx="262.3" cy="391.3" r="5.5"/><circle cx="316.4" cy="384.4" r="5.5"/><circle cx="217.1" cy="411.9" r="5.5"/><circle cx="287.2" cy="380.9" r="5.5"/><circle cx="314.4" cy="372.5" r="5.5"/><circle cx="299.9" cy="377.5" r="5.5"/><circle cx="186.2" cy="446.0" r="5.5"/><circle cx="354.6" cy="353.6" r="5.5"/><circle cx="261.0" cy="384.2" r="5.5"/><circle cx="258.2" cy="386.7" r="5.5"/><circle cx="310.0" cy="365.9" r="5.5"/><circle cx="183.3" cy="427.1" r="5.5"/><circle cx="241.0" cy="390.7" r="5.5"/><circle cx="249.1" cy="397.4" r="5.5"/><circle cx="218.7" cy="428.0" r="5.5"/><circle cx="165.0" cy="438.9" r="5.5"/><circle cx="155.5" cy="436.3" r="5.5"/><circle cx="316.1" cy="368.5" r="5.5"/><circle cx="253.2" cy="400.2" r="5.5"/><circle cx="273.4" cy="383.0" r="5.5"/><circle cx="199.1" cy="412.0" r="5.5"/><circle cx="319.4" cy="383.2" r="5.5"/><circle cx="334.7" cy="353.4" r="5.5"/><circle cx="179.7" cy="420.1" r="5.5"/><circle cx="298.2" cy="375.8" r="5.5"/><circle cx="208.4" cy="409.3" r="5.5"/><circle cx="225.9" cy="411.8" r="5.5"/><circle cx="264.9" cy="395.4" r="5.5"/><circle cx="194.1" cy="439.7" r="5.5"/><circle cx="179.6" cy="422.9" r="5.5"/><circle cx="319.4" cy="374.2" r="5.5"/><circle cx="276.5" cy="385.1" r="5.5"/><circle cx="300.0" cy="388.6" r="5.5"/><circle cx="186.1" cy="432.2" r="5.5"/><circle cx="188.4" cy="429.2" r="5.5"/><circle cx="266.9" cy="385.9" r="5.5"/><circle cx="237.2" cy="393.8" r="5.5"/><circle cx="287.3" cy="395.2" r="5.5"/><circle cx="270.4" cy="388.3" r="5.5"/><circle cx="322.7" cy="368.0" r="5.5"/><circle cx="351.6" cy="347.7" r="5.5"/><circle cx="271.6" cy="384.1" r="5.5"/><circle cx="293.0" cy="383.7" r="5.5"/><circle cx="213.0" cy="428.4" r="5.5"/><circle cx="180.6" cy="433.3" r="5.5"/><circle cx="242.5" cy="412.3" r="5.5"/><circle cx="153.3" cy="444.5" r="5.5"/><circle cx="264.8" cy="381.4" r="5.5"/><circle cx="181.9" cy="439.4" r="5.5"/><circle cx="245.7" cy="396.3" r="5.5"/><circle cx="299.3" cy="381.7" r="5.5"/><circle cx="173.9" cy="430.0" r="5.5"/><circle cx="256.6" cy="400.6" r="5.5"/><circle cx="217.7" cy="430.2" r="5.5"/><circle cx="158.3" cy="436.7" r="5.5"/><circle cx="310.3" cy="378.8" r="5.5"/><circle cx="314.4" cy="371.5" r="5.5"/><circle cx="324.8" cy="363.1" r="5.5"/><circle cx="244.9" cy="396.0" r="5.5"/><circle cx="195.1" cy="435.3" r="5.5"/><circle cx="209.3" cy="423.9" r="5.5"/><circle cx="186.8" cy="426.4" r="5.5"/><circle cx="339.5" cy="353.5" r="5.5"/><circle cx="191.9" cy="421.2" r="5.5"/><circle cx="280.6" cy="378.5" r="5.5"/><circle cx="190.8" cy="413.5" r="5.5"/><circle cx="319.1" cy="377.2" r="5.5"/><circle cx="189.4" cy="441.2" r="5.5"/><circle cx="251.6" cy="391.8" r="5.5"/><circle cx="313.5" cy="358.4" r="5.5"/><circle cx="151.0" cy="446.4" r="5.5"/><circle cx="236.3" cy="420.8" r="5.5"/><circle cx="303.3" cy="364.5" r="5.5"/><circle cx="334.6" cy="353.4" r="5.5"/><circle cx="155.3" cy="438.2" r="5.5"/><circle cx="267.1" cy="390.8" r="5.5"/><circle cx="226.9" cy="416.2" r="5.5"/><circle cx="300.2" cy="386.5" r="5.5"/><circle cx="306.0" cy="382.9" r="5.5"/><circle cx="234.9" cy="414.9" r="5.5"/><circle cx="306.6" cy="376.0" r="5.5"/><circle cx="330.2" cy="362.9" r="5.5"/><circle cx="252.8" cy="399.6" r="5.5"/><circle cx="188.6" cy="426.3" r="5.5"/><circle cx="257.9" cy="386.1" r="5.5"/><circle cx="239.1" cy="399.9" r="5.5"/><circle cx="300.9" cy="376.8" r="5.5"/><circle cx="264.7" cy="396.2" r="5.5"/><circle cx="262.7" cy="394.9" r="5.5"/><circle cx="316.4" cy="376.4" r="5.5"/><circle cx="231.6" cy="416.1" r="5.5"/><circle cx="204.9" cy="432.7" r="5.5"/><circle cx="276.4" cy="388.4" r="5.5"/><circle cx="164.7" cy="439.8" r="5.5"/><circle cx="232.2" cy="403.3" r="5.5"/><circle cx="290.9" cy="379.3" r="5.5"/><circle cx="328.7" cy="371.5" r="5.5"/><circle cx="324.5" cy="376.1" r="5.5"/><circle cx="235.4" cy="402.3" r="5.5"/><circle cx="274.5" cy="386.3" r="5.5"/><circle cx="199.2" cy="423.4" r="5.5"/><circle cx="172.9" cy="428.5" r="5.5"/><circle cx="189.9" cy="436.1" r="5.5"/><circle cx="352.7" cy="351.8" r="5.5"/><circle cx="297.5" cy="379.7" r="5.5"/><circle cx="245.8" cy="411.4" r="5.5"/><circle cx="223.1" cy="404.7" r="5.5"/><circle cx="265.4" cy="377.5" r="5.5"/><circle cx="297.5" cy="373.3" r="5.5"/><circle cx="210.7" cy="435.2" r="5.5"/><circle cx="243.6" cy="398.8" r="5.5"/><circle cx="171.2" cy="439.7" r="5.5"/><circle cx="316.8" cy="371.8" r="5.5"/><circle cx="352.5" cy="347.5" r="5.5"/><circle cx="314.6" cy="374.2" r="5.5"/><circle cx="178.0" cy="427.4" r="5.5"/><circle cx="282.8" cy="382.9" r="5.5"/><circle cx="288.1" cy="373.2" r="5.5"/><circle cx="196.7" cy="420.7" r="5.5"/><circle cx="159.1" cy="436.2" r="5.5"/><circle cx="330.3" cy="364.0" r="5.5"/><circle cx="267.8" cy="395.5" r="5.5"/><circle cx="279.3" cy="377.5" r="5.5"/><circle cx="303.1" cy="363.2" r="5.5"/><circle cx="166.5" cy="441.5" r="5.5"/><circle cx="238.6" cy="399.7" r="5.5"/><circle cx="324.6" cy="366.6" r="5.5"/><circle cx="317.2" cy="372.8" r="5.5"/><circle cx="217.9" cy="432.6" r="5.5"/><circle cx="242.5" cy="391.3" r="5.5"/><circle cx="244.5" cy="404.0" r="5.5"/><circle cx="216.9" cy="418.7" r="5.5"/><circle cx="234.6" cy="399.9" r="5.5"/><circle cx="219.3" cy="423.7" r="5.5"/><circle cx="197.1" cy="421.9" r="5.5"/><circle cx="219.9" cy="418.7" r="5.5"/><circle cx="160.2" cy="439.9" r="5.5"/><circle cx="217.7" cy="415.0" r="5.5"/><circle cx="248.2" cy="395.9" r="5.5"/><circle cx="249.4" cy="398.2" r="5.5"/><circle cx="243.7" cy="400.2" r="5.5"/><circle cx="224.7" cy="423.4" r="5.5"/><circle cx="157.6" cy="434.3" r="5.5"/><circle cx="272.3" cy="381.6" r="5.5"/><circle cx="215.4" cy="407.2" r="5.5"/><circle cx="213.2" cy="434.0" r="5.5"/><circle cx="238.4" cy="403.2" r="5.5"/><circle cx="201.9" cy="440.3" r="5.5"/><circle cx="184.9" cy="428.3" r="5.5"/><circle cx="187.6" cy="430.3" r="5.5"/><circle cx="242.9" cy="401.9" r="5.5"/><circle cx="348.3" cy="357.9" r="5.5"/><circle cx="283.5" cy="396.6" r="5.5"/><circle cx="230.0" cy="418.6" r="5.5"/><circle cx="208.8" cy="408.5" r="5.5"/><circle cx="160.1" cy="444.6" r="5.5"/><circle cx="324.4" cy="380.9" r="5.5"/><circle cx="164.7" cy="433.1" r="5.5"/><circle cx="262.5" cy="383.9" r="5.5"/><circle cx="159.7" cy="432.1" r="5.5"/><circle cx="337.4" cy="360.5" r="5.5"/><circle cx="347.1" cy="361.3" r="5.5"/><circle cx="223.1" cy="423.7" r="5.5"/><circle cx="189.9" cy="423.8" r="5.5"/><circle cx="291.3" cy="380.4" r="5.5"/><circle cx="195.6" cy="426.7" r="5.5"/><circle cx="255.7" cy="397.0" r="5.5"/><circle cx="219.8" cy="427.8" r="5.5"/><circle cx="239.9" cy="394.4" r="5.5"/><circle cx="181.2" cy="436.8" r="5.5"/><circle cx="201.1" cy="424.0" r="5.5"/><circle cx="183.5" cy="445.9" r="5.5"/><circle cx="259.7" cy="387.7" r="5.5"/><circle cx="170.6" cy="441.7" r="5.5"/><circle cx="236.7" cy="416.0" r="5.5"/><circle cx="275.2" cy="395.1" r="5.5"/><circle cx="234.4" cy="407.7" r="5.5"/><circle cx="246.8" cy="406.1" r="5.5"/><circle cx="231.3" cy="419.4" r="5.5"/><circle cx="317.0" cy="376.9" r="5.5"/><circle cx="324.1" cy="370.7" r="5.5"/><circle cx="329.6" cy="372.3" r="5.5"/><circle cx="284.1" cy="382.4" r="5.5"/><circle cx="207.9" cy="437.5" r="5.5"/><circle cx="349.3" cy="348.9" r="5.5"/><circle cx="169.1" cy="433.5" r="5.5"/><circle cx="280.9" cy="375.4" r="5.5"/><circle cx="201.0" cy="419.0" r="5.5"/><circle cx="339.7" cy="362.6" r="5.5"/><circle cx="208.9" cy="433.4" r="5.5"/><circle cx="176.3" cy="425.4" r="5.5"/><circle cx="305.3" cy="382.0" r="5.5"/><circle cx="212.9" cy="428.9" r="5.5"/><circle cx="310.9" cy="364.3" r="5.5"/><circle cx="339.2" cy="365.9" r="5.5"/><circle cx="173.6" cy="439.6" r="5.5"/><circle cx="310.1" cy="370.7" r="5.5"/><circle cx="267.5" cy="388.5" r="5.5"/><circle cx="206.2" cy="424.5" r="5.5"/><circle cx="225.5" cy="406.7" r="5.5"/><circle cx="274.5" cy="375.2" r="5.5"/><circle cx="197.2" cy="435.8" r="5.5"/><circle cx="163.8" cy="448.9" r="5.5"/><circle cx="299.5" cy="367.3" r="5.5"/><circle cx="242.1" cy="394.1" r="5.5"/><circle cx="304.0" cy="372.9" r="5.5"/><circle cx="196.8" cy="429.8" r="5.5"/><circle cx="204.5" cy="423.0" r="5.5"/><circle cx="206.2" cy="432.3" r="5.5"/><circle cx="159.7" cy="449.0" r="5.5"/><circle cx="304.6" cy="370.2" r="5.5"/><circle cx="239.4" cy="406.8" r="5.5"/><circle cx="211.5" cy="408.4" r="5.5"/><circle cx="170.5" cy="439.8" r="5.5"/><circle cx="332.0" cy="360.1" r="5.5"/><circle cx="220.3" cy="420.2" r="5.5"/><circle cx="164.5" cy="429.0" r="5.5"/><circle cx="218.3" cy="417.8" r="5.5"/><circle cx="281.3" cy="384.0" r="5.5"/><circle cx="306.0" cy="387.6" r="5.5"/><circle cx="175.1" cy="438.3" r="5.5"/><circle cx="161.8" cy="428.7" r="5.5"/><circle cx="220.3" cy="431.2" r="5.5"/><circle cx="228.7" cy="421.6" r="5.5"/><circle cx="322.7" cy="368.6" r="5.5"/><circle cx="286.4" cy="382.4" r="5.5"/><circle cx="269.3" cy="376.6" r="5.5"/><circle cx="340.1" cy="360.4" r="5.5"/><circle cx="251.5" cy="397.3" r="5.5"/><circle cx="219.2" cy="415.5" r="5.5"/><circle cx="331.4" cy="365.0" r="5.5"/><circle cx="154.9" cy="440.7" r="5.5"/><circle cx="251.4" cy="396.4" r="5.5"/><circle cx="279.7" cy="385.8" r="5.5"/><circle cx="202.7" cy="440.2" r="5.5"/><circle cx="179.4" cy="435.2" r="5.5"/><circle cx="205.1" cy="428.5" r="5.5"/><circle cx="178.5" cy="445.2" r="5.5"/><circle cx="336.8" cy="360.6" r="5.5"/><circle cx="195.4" cy="436.8" r="5.5"/><circle cx="169.8" cy="424.8" r="5.5"/><circle cx="299.9" cy="365.3" r="5.5"/><circle cx="288.5" cy="383.0" r="5.5"/><circle cx="219.3" cy="413.4" r="5.5"/><circle cx="341.8" cy="360.0" r="5.5"/><circle cx="170.0" cy="448.7" r="5.5"/><circle cx="272.8" cy="397.5" r="5.5"/><circle cx="262.8" cy="391.9" r="5.5"/><circle cx="171.9" cy="427.6" r="5.5"/><circle cx="293.3" cy="394.7" r="5.5"/><circle cx="287.0" cy="395.5" r="5.5"/><circle cx="181.5" cy="439.8" r="5.5"/><circle cx="303.7" cy="390.9" r="5.5"/><circle cx="235.2" cy="413.3" r="5.5"/><circle cx="177.5" cy="433.3" r="5.5"/><circle cx="276.0" cy="397.9" r="5.5"/><circle cx="184.5" cy="441.1" r="5.5"/><circle cx="196.6" cy="423.1" r="5.5"/><circle cx="339.1" cy="362.8" r="5.5"/><circle cx="258.4" cy="391.1" r="5.5"/><circle cx="351.0" cy="347.8" r="5.5"/><circle cx="181.8" cy="441.0" r="5.5"/><circle cx="322.5" cy="364.4" r="5.5"/><circle cx="354.7" cy="349.4" r="5.5"/><circle cx="236.6" cy="402.2" r="5.5"/><circle cx="305.5" cy="373.6" r="5.5"/><circle cx="274.9" cy="381.8" r="5.5"/><circle cx="314.3" cy="362.9" r="5.5"/><circle cx="312.9" cy="368.8" r="5.5"/><circle cx="190.0" cy="421.3" r="5.5"/><circle cx="309.2" cy="373.0" r="5.5"/><circle cx="259.8" cy="396.3" r="5.5"/><circle cx="232.7" cy="412.1" r="5.5"/><circle cx="244.2" cy="407.3" r="5.5"/><circle cx="185.0" cy="422.8" r="5.5"/><circle cx="341.5" cy="354.9" r="5.5"/><circle cx="207.8" cy="423.7" r="5.5"/><circle cx="277.1" cy="381.4" r="5.5"/><circle cx="329.6" cy="360.2" r="5.5"/><circle cx="245.0" cy="400.8" r="5.5"/><circle cx="178.8" cy="430.4" r="5.5"/><circle cx="279.7" cy="391.8" r="5.5"/><circle cx="239.1" cy="398.1" r="5.5"/><circle cx="256.6" cy="398.0" r="5.5"/><circle cx="296.8" cy="381.6" r="5.5"/><circle cx="231.4" cy="412.9" r="5.5"/><circle cx="305.6" cy="371.0" r="5.5"/><circle cx="274.6" cy="384.7" r="5.5"/><circle cx="166.9" cy="442.3" r="5.5"/><circle cx="261.2" cy="397.1" r="5.5"/><circle cx="171.8" cy="425.6" r="5.5"/><circle cx="159.5" cy="435.5" r="5.5"/><circle cx="254.1" cy="398.9" r="5.5"/><circle cx="291.4" cy="392.9" r="5.5"/><circle cx="271.2" cy="389.4" r="5.5"/><circle cx="270.2" cy="399.2" r="5.5"/><circle cx="328.9" cy="367.9" r="5.5"/><circle cx="202.4" cy="431.8" r="5.5"/><circle cx="261.6" cy="398.6" r="5.5"/><circle cx="229.7" cy="426.5" r="5.5"/><circle cx="154.9" cy="439.8" r="5.5"/><circle cx="240.6" cy="394.9" r="5.5"/><circle cx="252.6" cy="394.4" r="5.5"/><circle cx="240.9" cy="407.8" r="5.5"/><circle cx="238.6" cy="394.9" r="5.5"/><circle cx="285.0" cy="378.2" r="5.5"/><circle cx="173.0" cy="427.7" r="5.5"/><circle cx="293.1" cy="374.2" r="5.5"/><circle cx="286.6" cy="382.9" r="5.5"/><circle cx="322.4" cy="365.9" r="5.5"/><circle cx="250.9" cy="392.4" r="5.5"/><circle cx="233.3" cy="423.0" r="5.5"/><circle cx="174.9" cy="440.7" r="5.5"/><circle cx="326.8" cy="377.7" r="5.5"/><circle cx="339.9" cy="359.8" r="5.5"/><circle cx="306.3" cy="366.1" r="5.5"/><circle cx="170.2" cy="430.1" r="5.5"/><circle cx="243.1" cy="398.4" r="5.5"/><circle cx="350.0" cy="350.8" r="5.5"/><circle cx="318.2" cy="377.6" r="5.5"/><circle cx="300.9" cy="381.4" r="5.5"/><circle cx="207.6" cy="435.6" r="5.5"/><circle cx="237.4" cy="420.6" r="5.5"/><circle cx="254.7" cy="391.5" r="5.5"/><circle cx="168.4" cy="442.2" r="5.5"/><circle cx="112.8" cy="467.3" r="5.5"/><circle cx="112.4" cy="469.9" r="5.5"/><circle cx="101.5" cy="466.8" r="5.5"/><circle cx="130.8" cy="477.1" r="5.5"/><circle cx="97.1" cy="476.8" r="5.5"/><circle cx="120.2" cy="467.2" r="5.5"/><circle cx="119.5" cy="473.4" r="5.5"/><circle cx="137.8" cy="457.4" r="5.5"/><circle cx="142.7" cy="462.5" r="5.5"/><circle cx="123.6" cy="463.6" r="5.5"/><circle cx="142.5" cy="464.3" r="5.5"/><circle cx="103.2" cy="483.7" r="5.5"/><circle cx="124.5" cy="464.9" r="5.5"/><circle cx="121.6" cy="454.8" r="5.5"/><circle cx="137.1" cy="455.5" r="5.5"/><circle cx="119.5" cy="455.5" r="5.5"/><circle cx="109.0" cy="477.5" r="5.5"/><circle cx="135.5" cy="449.6" r="5.5"/><circle cx="115.9" cy="460.1" r="5.5"/><circle cx="147.4" cy="457.9" r="5.5"/><circle cx="102.2" cy="475.4" r="5.5"/><circle cx="103.0" cy="478.7" r="5.5"/><circle cx="137.4" cy="451.1" r="5.5"/><circle cx="133.2" cy="456.7" r="5.5"/><circle cx="104.6" cy="476.1" r="5.5"/><circle cx="140.9" cy="456.6" r="5.5"/><circle cx="121.7" cy="459.9" r="5.5"/><circle cx="126.6" cy="455.2" r="5.5"/><circle cx="124.0" cy="456.8" r="5.5"/><circle cx="118.5" cy="464.0" r="5.5"/><circle cx="129.1" cy="453.3" r="5.5"/><circle cx="142.7" cy="458.5" r="5.5"/><circle cx="75.8" cy="470.4" r="5.5"/><circle cx="83.2" cy="476.8" r="5.5"/><circle cx="88.5" cy="483.3" r="5.5"/><circle cx="104.6" cy="458.4" r="5.5"/><circle cx="116.8" cy="452.6" r="5.5"/><circle cx="102.3" cy="472.2" r="5.5"/><circle cx="105.8" cy="484.9" r="5.5"/><circle cx="113.8" cy="483.7" r="5.5"/><circle cx="125.4" cy="475.7" r="5.5"/><circle cx="131.1" cy="444.6" r="5.5"/><circle cx="143.8" cy="445.7" r="5.5"/><circle cx="146.1" cy="461.8" r="5.5"/><circle cx="156.5" cy="433.0" r="5.5"/><circle cx="167.3" cy="461.0" r="5.5"/><circle cx="131.5" cy="445.3" r="5.5"/><circle cx="142.5" cy="446.2" r="5.5"/><circle cx="101.0" cy="469.2" r="5.5"/><circle cx="108.4" cy="467.4" r="5.5"/><circle cx="117.6" cy="465.6" r="5.5"/><circle cx="126.9" cy="460.0" r="5.5"/><circle cx="134.2" cy="458.2" r="5.5"/><circle cx="139.8" cy="454.5" r="5.5"/><circle cx="145.3" cy="461.9" r="5.5"/><circle cx="136.1" cy="467.4" r="5.5"/><circle cx="125.0" cy="475.7" r="5.5"/><circle cx="114.0" cy="472.9" r="5.5"/><circle cx="104.7" cy="480.3" r="5.5"/><circle cx="114.0" cy="483.1" r="5.5"/><circle cx="101.0" cy="476.6" r="5.5"/><circle cx="121.3" cy="469.2" r="5.5"/><circle cx="92.0" cy="482.0" r="5.5"/><circle cx="110.0" cy="476.0" r="5.5"/><circle cx="120.0" cy="478.0" r="5.5"/><circle cx="130.0" cy="470.0" r="5.5"/><circle cx="140.0" cy="462.0" r="5.5"/><circle cx="148.0" cy="455.0" r="5.5"/><circle cx="96.0" cy="478.0" r="5.5"/><circle cx="391.4" cy="322.3" r="5.5"/><circle cx="408.7" cy="323.9" r="5.5"/><circle cx="400.6" cy="328.0" r="5.5"/><circle cx="404.8" cy="332.2" r="5.5"/><circle cx="391.4" cy="333.8" r="5.5"/><circle cx="382.2" cy="332.2" r="5.5"/><circle cx="372.5" cy="332.2" r="5.5"/><circle cx="361.0" cy="333.8" r="5.5"/><circle cx="371.8" cy="347.6" r="5.5"/><circle cx="373.5" cy="358.5" r="5.5"/><circle cx="362.6" cy="356.8" r="5.5"/><circle cx="353.4" cy="343.0" r="5.5"/><circle cx="328.1" cy="378.7" r="5.5"/><circle cx="326.5" cy="385.6" r="5.5"/><circle cx="313.5" cy="355.4" r="5.5"/><circle cx="309.0" cy="394.3" r="5.5"/></g><line x1="76.6" y1="485.3" x2="408.6" y2="325.9" stroke="#B0B0B0" stroke-width="2.3"/></g><rect x="59.9" y="283.8" width="367.6" height="217.9" fill="none" stroke="#000" stroke-width="2"/><path d="M55 463.4H59M55 406.6H59M55 349.9H59M55 293.1H59M131.8 502.7V506.4M243.4 502.7V506.4M355.0 502.7V506.4" stroke="#000" stroke-width="2" fill="none"/><text x="52.6" y="469.6" font-size="19" text-anchor="end">280</text><text x="52.6" y="412.8" font-size="19" text-anchor="end">300</text><text x="52.6" y="356.1" font-size="19" text-anchor="end">320</text><text x="52.6" y="299.3" font-size="19" text-anchor="end">340</text><text x="131.8" y="521.7" font-size="19" text-anchor="middle">280</text><text x="243.4" y="521.7" font-size="19" text-anchor="middle">300</text><text x="355.0" y="521.7" font-size="19" text-anchor="middle">320</text><text x="239.5" y="541.8" font-size="21.4" font-weight="bold" text-anchor="middle">MODIS LST (K)</text><text transform="translate(19.2 393) rotate(-90)" font-size="21.4" font-weight="bold" text-anchor="middle">Retrieved LST (K)</text><text x="64.5" y="302.8" font-size="21" font-weight="bold">(<tspan font-size="17" dx="0.3">b</tspan><tspan dx="0.3">)</tspan></text><text x="69.2" y="329.5" font-size="17.8">MAE=1.83 <tspan dx="-1.5">K</tspan></text><text x="69.2" y="350.2" font-size="17.8">RMSE=2.38 <tspan dx="-1.5">K</tspan></text><text x="69.2" y="370.9" font-size="17.8">SD=1.51 <tspan dx="-1.5">K</tspan></text><text x="284.8" y="454.7" font-size="17.2" font-style="italic">y</text><text x="296.7" y="455.0" font-size="19.3">=</text><text x="311.6" y="454.7" font-size="17.2" letter-spacing="0.4">17.3</text><text x="344.3" y="457.1" font-size="19.3">+</text><text x="358.2" y="454.7" font-size="17.2">0.944</text><text x="400.9" y="454.7" font-size="18.5" font-style="italic">x</text><text x="342.8" y="479.8" font-size="17.2" font-style="italic">R</text><text x="355.2" y="472.5" font-size="11">2</text><text x="364.8" y="480.3" font-size="19.3">=</text><text x="379.2" y="479.8" font-size="17.2" letter-spacing="0.2">0.95</text></svg></body></html>
